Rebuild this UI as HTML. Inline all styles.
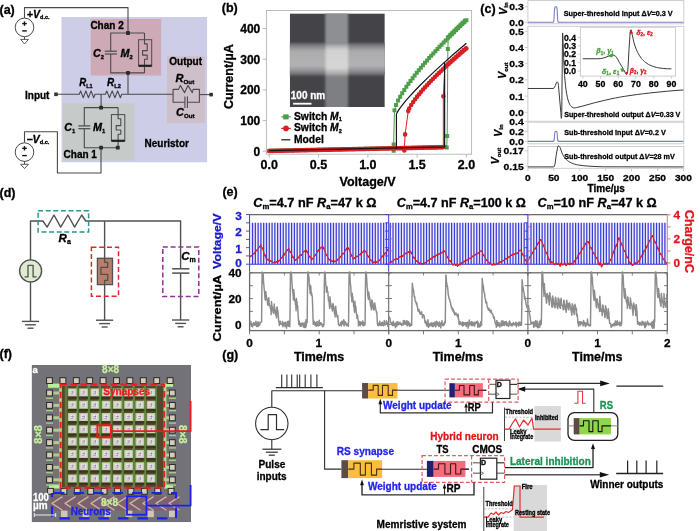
<!DOCTYPE html>
<html><head><meta charset="utf-8"><title>Neuristor figure</title>
<style>
html,body{margin:0;padding:0;background:#fff;}
svg{display:block;}
text{font-family:"Liberation Sans",Arial,sans-serif;font-weight:bold;stroke-width:0.3px;}
</style></head><body>
<svg width="700" height="531" viewBox="0 0 700 531">
<defs>
<clipPath id="photoclip"><rect x="31.6" y="365" width="159.4" height="157.2"/></clipPath>
<clipPath id="semclip"><rect x="289.8" y="13.4" width="95" height="93.6"/></clipPath>
<filter id="blur05" x="-5%" y="-5%" width="110%" height="110%"><feGaussianBlur stdDeviation="0.45"/></filter>
<linearGradient id="semband" x1="0" y1="0" x2="0" y2="1"><stop offset="0" stop-color="#66666a"/><stop offset="0.12" stop-color="#8a8a8c"/><stop offset="0.25" stop-color="#acacae"/><stop offset="0.7" stop-color="#b2b2b3"/><stop offset="0.85" stop-color="#919193"/><stop offset="1" stop-color="#66666a"/></linearGradient>
<linearGradient id="semcross" x1="0" y1="0" x2="0" y2="1"><stop offset="0" stop-color="#9a9a9c"/><stop offset="0.2" stop-color="#d2d2d2"/><stop offset="0.75" stop-color="#d6d6d6"/><stop offset="0.9" stop-color="#b0b0b0"/><stop offset="1" stop-color="#909092"/></linearGradient>
<filter id="blur1" x="-10%" y="-10%" width="120%" height="120%"><feGaussianBlur stdDeviation="0.9"/></filter>
</defs>
<rect width="700" height="531" fill="#fff"/>
<rect x="61.5" y="17" width="145.6" height="145.3" fill="#cecde8" stroke="none" stroke-width="1" />
<rect x="90.7" y="19" width="70.5" height="56.5" fill="#cdaab6" stroke="none" stroke-width="1" />
<rect x="63" y="103.3" width="71.5" height="57.2" fill="#c6cac8" stroke="none" stroke-width="1" />
<rect x="167" y="56.3" width="38" height="66.7" fill="#cec0ca" stroke="none" stroke-width="1" />
<text x="-0.5" y="13.7" font-size="12.5" text-anchor="start" fill="#000" stroke="#000" >(a)</text>
<text x="90.4" y="29.3" font-size="10" text-anchor="start" fill="#000" stroke="#000" >Chan 2</text>
<text x="63.6" y="157.6" font-size="10" text-anchor="start" fill="#000" stroke="#000" >Chan 1</text>
<text x="144.5" y="146.8" font-size="10" text-anchor="start" fill="#000" stroke="#000" >Neuristor</text>
<text x="169.3" y="65" font-size="10" text-anchor="start" fill="#000" stroke="#000" >Output</text>
<text x="25" y="99.4" font-size="10" text-anchor="start" fill="#000" stroke="#000" >Input</text>
<path d="M24.5,18 V7.6 H128 V33" stroke="#4a4a4a" stroke-width="1.1" fill="none" stroke-linejoin="round" />
<circle cx="24.5" cy="27.4" r="9.3" fill="#fff" stroke="#4a4a4a" stroke-width="1"/>
<line x1="22.2" y1="23.6" x2="26.8" y2="23.6" stroke="#111" stroke-width="1.4" />
<line x1="24.5" y1="21.4" x2="24.5" y2="25.8" stroke="#111" stroke-width="1.4" />
<line x1="22.2" y1="30.9" x2="26.8" y2="30.9" stroke="#111" stroke-width="1.4" />
<line x1="24.5" y1="36.7" x2="24.5" y2="39.4" stroke="#4a4a4a" stroke-width="1" />
<path d="M20.6,39.4 H28.4 L24.5,44 Z" stroke="#4a4a4a" stroke-width="0.9" fill="#fff" stroke-linejoin="round" />
<text x="27" y="17.7" font-size="10.5" text-anchor="start" fill="#000" stroke="#000"  textLength="22.5" lengthAdjust="spacingAndGlyphs">+<tspan font-style="italic">V</tspan><tspan font-size="5.5" dy="1.5">d.c.</tspan></text>
<path d="M101,147.7 V173 H57.4 V131.7 H24.5 V142.8" stroke="#4a4a4a" stroke-width="1.1" fill="none" stroke-linejoin="round" />
<circle cx="24.5" cy="152.1" r="9.3" fill="#fff" stroke="#4a4a4a" stroke-width="1"/>
<line x1="22.2" y1="148.3" x2="26.8" y2="148.3" stroke="#111" stroke-width="1.4" />
<line x1="24.5" y1="146.1" x2="24.5" y2="150.5" stroke="#111" stroke-width="1.4" />
<line x1="22.2" y1="155.6" x2="26.8" y2="155.6" stroke="#111" stroke-width="1.4" />
<line x1="24.5" y1="161.4" x2="24.5" y2="164.3" stroke="#4a4a4a" stroke-width="1" />
<path d="M20.6,164.3 H28.4 L24.5,168.6 Z" stroke="#4a4a4a" stroke-width="0.9" fill="#fff" stroke-linejoin="round" />
<text x="26.4" y="142.6" font-size="10.5" text-anchor="start" fill="#000" stroke="#000"  textLength="23" lengthAdjust="spacingAndGlyphs">&#8722;<tspan font-style="italic">V</tspan><tspan font-size="5.5" dy="1.5">d.c.</tspan></text>
<path d="M57.4,94.3 H79.3L80.61,90.9L83.22,97.7L85.84,90.9L88.46,97.7L91.08,90.9L93.69,97.7L95,94.3 H105.4L106.76,90.9L109.48,97.7L112.19,90.9L114.91,97.7L117.62,90.9L120.34,97.7L121.7,94.3 H173.1" stroke="#4a4a4a" stroke-width="1.1" fill="none" stroke-linejoin="round" />
<rect x="54.2" y="92.5" width="3.6" height="3.6" fill="#333" stroke="none" stroke-width="1" />
<text x="79.3" y="86.4" font-size="10.5" text-anchor="start" fill="#000" stroke="#000"  textLength="13.3" lengthAdjust="spacingAndGlyphs"><tspan font-style="italic">R</tspan><tspan font-size="6" dy="1.5">L1</tspan></text>
<text x="107.1" y="86.4" font-size="10.5" text-anchor="start" fill="#000" stroke="#000"  textLength="13.8" lengthAdjust="spacingAndGlyphs"><tspan font-style="italic">R</tspan><tspan font-size="6" dy="1.5">L2</tspan></text>
<line x1="128" y1="72.9" x2="128" y2="94.3" stroke="#4a4a4a" stroke-width="1.1" />
<line x1="101.1" y1="94.3" x2="101.1" y2="107.6" stroke="#4a4a4a" stroke-width="1.1" />
<path d="M110.7,51.2 V33 H144.5" stroke="#4a4a4a" stroke-width="1.1" fill="none" stroke-linejoin="round" />
<path d="M110.7,54.0 V72.9 H144.5" stroke="#4a4a4a" stroke-width="1.1" fill="none" stroke-linejoin="round" />
<line x1="104.8" y1="51.2" x2="116.9" y2="51.2" stroke="#4a4a4a" stroke-width="1.2" />
<line x1="104.8" y1="54" x2="116.9" y2="54" stroke="#4a4a4a" stroke-width="1.2" />
<path d="M144.5,33 V43.88 H147.2 V50.66 H142.6 V55.1 H147.2 V59.27 H144.5 V72.9" stroke="#4a4a4a" stroke-width="1.1" fill="none" stroke-linejoin="round" />
<rect x="138.6" y="39.7" width="13.1" height="26.1" fill="none" stroke="#4a4a4a" stroke-width="1" />
<line x1="138.6" y1="65.8" x2="151.7" y2="65.8" stroke="#222" stroke-width="2.2" />
<path d="M84.3,125.9 V107.6 H118.1" stroke="#4a4a4a" stroke-width="1.1" fill="none" stroke-linejoin="round" />
<path d="M84.3,128.7 V147.7 H118.1" stroke="#4a4a4a" stroke-width="1.1" fill="none" stroke-linejoin="round" />
<line x1="78.3" y1="125.9" x2="90.3" y2="125.9" stroke="#4a4a4a" stroke-width="1.2" />
<line x1="78.3" y1="128.7" x2="90.3" y2="128.7" stroke="#4a4a4a" stroke-width="1.2" />
<path d="M118.1,107.6 V118.79 H120.8 V125.6 H116.2 V130.06 H120.8 V134.25 H118.1 V147.7" stroke="#4a4a4a" stroke-width="1.1" fill="none" stroke-linejoin="round" />
<rect x="111.4" y="114.6" width="13.4" height="26.2" fill="none" stroke="#4a4a4a" stroke-width="1" />
<line x1="111.4" y1="140.8" x2="124.8" y2="140.8" stroke="#222" stroke-width="2.2" />
<rect x="126.1" y="31.1" width="3.8" height="3.8" fill="#2a2a2a" stroke="none" stroke-width="1" rx="0.6"/>
<rect x="126.1" y="71" width="3.8" height="3.8" fill="#2a2a2a" stroke="none" stroke-width="1" rx="0.6"/>
<rect x="99.2" y="105.7" width="3.8" height="3.8" fill="#2a2a2a" stroke="none" stroke-width="1" rx="0.6"/>
<rect x="99.2" y="145.8" width="3.8" height="3.8" fill="#2a2a2a" stroke="none" stroke-width="1" rx="0.6"/>
<rect x="115.9" y="145.8" width="3.8" height="3.8" fill="#2a2a2a" stroke="none" stroke-width="1" rx="0.6"/>
<text x="92.9" y="56.6" font-size="10.8" text-anchor="start" fill="#000" stroke="#000" ><tspan font-style="italic">C</tspan><tspan font-size="5.8" dy="2">2</tspan></text>
<text x="120.5" y="56.6" font-size="10.8" text-anchor="start" fill="#000" stroke="#000" ><tspan font-style="italic">M</tspan><tspan font-size="5.8" dy="2">2</tspan></text>
<text x="64.3" y="130.7" font-size="10.8" text-anchor="start" fill="#000" stroke="#000" ><tspan font-style="italic">C</tspan><tspan font-size="5.8" dy="2">1</tspan></text>
<text x="93" y="130.7" font-size="10.8" text-anchor="start" fill="#000" stroke="#000" ><tspan font-style="italic">M</tspan><tspan font-size="5.8" dy="2">1</tspan></text>
<path d="M173.1,94.6 V89.4 H178.6 L180.3,85.4 L184.6,92.6 L188,85.4 L192.3,92.6 L193.1,89.4 H199.4 V102.3 H187.4" stroke="#4a4a4a" stroke-width="1.1" fill="none" stroke-linejoin="round" />
<path d="M173.1,94.6 V102.3 H184.9" stroke="#4a4a4a" stroke-width="1.1" fill="none" stroke-linejoin="round" />
<line x1="184.9" y1="96.6" x2="184.9" y2="108" stroke="#4a4a4a" stroke-width="1.1" />
<line x1="187.4" y1="96.6" x2="187.4" y2="108" stroke="#4a4a4a" stroke-width="1.1" />
<line x1="199.4" y1="94.6" x2="210" y2="94.6" stroke="#4a4a4a" stroke-width="1.1" />
<rect x="209.3" y="92.8" width="3.6" height="3.6" fill="#333" stroke="none" stroke-width="1" />
<text x="175.6" y="81.6" font-size="10.8" text-anchor="start" fill="#000" stroke="#000"  textLength="18.6" lengthAdjust="spacingAndGlyphs"><tspan font-style="italic">R</tspan><tspan font-size="6" dy="2">Out</tspan></text>
<text x="175.9" y="116.3" font-size="10.8" text-anchor="start" fill="#000" stroke="#000"  textLength="18.6" lengthAdjust="spacingAndGlyphs"><tspan font-style="italic">C</tspan><tspan font-size="6" dy="2">Out</tspan></text>
<rect x="266.4" y="10.5" width="205.2" height="143.7" fill="none" stroke="#b4b4b4" stroke-width="0.9" />
<line x1="262.6" y1="151.3" x2="266.4" y2="151.3" stroke="#b4b4b4" stroke-width="0.9" />
<text x="260.3" y="155.6" font-size="12" text-anchor="end" fill="#000" stroke="#000" >0</text>
<line x1="262.6" y1="120.6" x2="266.4" y2="120.6" stroke="#b4b4b4" stroke-width="0.9" />
<text x="260.3" y="124.9" font-size="12" text-anchor="end" fill="#000" stroke="#000" >100</text>
<line x1="262.6" y1="89.9" x2="266.4" y2="89.9" stroke="#b4b4b4" stroke-width="0.9" />
<text x="260.3" y="94.2" font-size="12" text-anchor="end" fill="#000" stroke="#000" >200</text>
<line x1="262.6" y1="59.2" x2="266.4" y2="59.2" stroke="#b4b4b4" stroke-width="0.9" />
<text x="260.3" y="63.5" font-size="12" text-anchor="end" fill="#000" stroke="#000" >300</text>
<line x1="262.6" y1="28.5" x2="266.4" y2="28.5" stroke="#b4b4b4" stroke-width="0.9" />
<text x="260.3" y="32.8" font-size="12" text-anchor="end" fill="#000" stroke="#000" >400</text>
<line x1="269.3" y1="154.2" x2="269.3" y2="157.6" stroke="#b4b4b4" stroke-width="0.9" />
<text x="269.3" y="169.4" font-size="12.5" text-anchor="middle" fill="#000" stroke="#000" >0.0</text>
<line x1="318.57" y1="154.2" x2="318.57" y2="157.6" stroke="#b4b4b4" stroke-width="0.9" />
<text x="318.57" y="169.4" font-size="12.5" text-anchor="middle" fill="#000" stroke="#000" >0.5</text>
<line x1="367.85" y1="154.2" x2="367.85" y2="157.6" stroke="#b4b4b4" stroke-width="0.9" />
<text x="367.85" y="169.4" font-size="12.5" text-anchor="middle" fill="#000" stroke="#000" >1.0</text>
<line x1="417.12" y1="154.2" x2="417.12" y2="157.6" stroke="#b4b4b4" stroke-width="0.9" />
<text x="417.12" y="169.4" font-size="12.5" text-anchor="middle" fill="#000" stroke="#000" >1.5</text>
<line x1="466.4" y1="154.2" x2="466.4" y2="157.6" stroke="#b4b4b4" stroke-width="0.9" />
<text x="466.4" y="169.4" font-size="12.5" text-anchor="middle" fill="#000" stroke="#000" >2.0</text>
<text x="367.6" y="185.7" font-size="12.5" text-anchor="middle" fill="#000" stroke="#000" >Voltage/V</text>
<text x="0" y="0" font-size="12.5" text-anchor="middle" fill="#000" stroke="#000" transform="translate(233.2,76.6) rotate(-90)">Current/&#181;A</text>
<text x="221.8" y="12.1" font-size="12.5" text-anchor="start" fill="#000" stroke="#000" >(b)</text>
<g clip-path="url(#semclip)">
<rect x="289.8" y="13.4" width="95" height="93.6" fill="#444448" stroke="none" stroke-width="1" />
<g filter="url(#blur1)">
<rect x="325.2" y="8" width="22.9" height="40" fill="#8d8f92" stroke="none" stroke-width="1" />
<rect x="325.2" y="70" width="22.9" height="45" fill="#7d7f83" stroke="none" stroke-width="1" />
<rect x="284" y="43" width="106" height="32.5" fill="url(#semband)" stroke="none" stroke-width="1" />
<rect x="325.5" y="43.5" width="22.6" height="32.5" fill="url(#semcross)" stroke="none" stroke-width="1" />
</g>
</g>
<text x="290.8" y="99.3" font-size="10" text-anchor="start" fill="#fff" stroke="#fff" >100 nm</text>
<line x1="293.1" y1="103.7" x2="311.5" y2="103.7" stroke="#fff" stroke-width="1.8" />
<path d="M269.3,150.78L444.72,147.06L446.69,147.62L447.18,135.95L447.87,49.07L448.27,36.9L456.54,28.7L464.82,20.77L466.4,20.21L460.19,26.1L453.98,32.13L447.77,38.31L443.63,42.54L437.43,49.05L433.29,53.52L429.15,58.11L425.01,62.84L420.87,67.74L416.73,72.83L412.59,78.16L410.52,80.94L406.38,86.8L404.31,89.91L402.24,93.19L400.17,96.7L398.1,100.55L396.04,105.04L394.46,110.16L393.67,144.55L393.67,150.69" stroke="#4d9e48" stroke-width="1" fill="none" stroke-linejoin="round" />
<path d="M267.3,148.78h4v4h-4zM269.27,148.74h4v4h-4zM271.24,148.69h4v4h-4zM273.21,148.65h4v4h-4zM275.18,148.61h4v4h-4zM277.16,148.57h4v4h-4zM279.13,148.53h4v4h-4zM281.1,148.49h4v4h-4zM283.07,148.44h4v4h-4zM285.04,148.4h4v4h-4zM287.01,148.36h4v4h-4zM288.98,148.32h4v4h-4zM290.95,148.28h4v4h-4zM292.92,148.24h4v4h-4zM294.89,148.19h4v4h-4zM296.87,148.15h4v4h-4zM298.84,148.11h4v4h-4zM300.81,148.07h4v4h-4zM302.78,148.03h4v4h-4zM304.75,147.98h4v4h-4zM306.72,147.94h4v4h-4zM308.69,147.9h4v4h-4zM310.66,147.86h4v4h-4zM312.63,147.82h4v4h-4zM314.6,147.78h4v4h-4zM316.57,147.73h4v4h-4zM318.55,147.69h4v4h-4zM320.52,147.65h4v4h-4zM322.49,147.61h4v4h-4zM324.46,147.57h4v4h-4zM326.43,147.53h4v4h-4zM328.4,147.48h4v4h-4zM330.37,147.44h4v4h-4zM332.34,147.4h4v4h-4zM334.31,147.36h4v4h-4zM336.29,147.32h4v4h-4zM338.26,147.28h4v4h-4zM340.23,147.23h4v4h-4zM342.2,147.19h4v4h-4zM344.17,147.15h4v4h-4zM346.14,147.11h4v4h-4zM348.11,147.07h4v4h-4zM350.08,147.02h4v4h-4zM352.05,146.98h4v4h-4zM354.02,146.94h4v4h-4zM356,146.9h4v4h-4zM357.97,146.86h4v4h-4zM359.94,146.82h4v4h-4zM361.91,146.77h4v4h-4zM363.88,146.73h4v4h-4zM365.85,146.69h4v4h-4zM367.82,146.65h4v4h-4zM369.79,146.61h4v4h-4zM371.76,146.57h4v4h-4zM373.73,146.52h4v4h-4zM375.71,146.48h4v4h-4zM377.68,146.44h4v4h-4zM379.65,146.4h4v4h-4zM381.62,146.36h4v4h-4zM383.59,146.31h4v4h-4zM385.56,146.27h4v4h-4zM387.53,146.23h4v4h-4zM389.5,146.19h4v4h-4zM391.47,146.15h4v4h-4zM393.44,146.11h4v4h-4zM395.42,146.06h4v4h-4zM397.39,146.02h4v4h-4zM399.36,145.98h4v4h-4zM401.33,145.94h4v4h-4zM403.3,145.9h4v4h-4zM405.27,145.86h4v4h-4zM407.24,145.81h4v4h-4zM409.21,145.77h4v4h-4zM411.18,145.73h4v4h-4zM413.15,145.69h4v4h-4zM415.12,145.65h4v4h-4zM417.1,145.6h4v4h-4zM419.07,145.56h4v4h-4zM421.04,145.52h4v4h-4zM423.01,145.48h4v4h-4zM424.98,145.44h4v4h-4zM426.95,145.4h4v4h-4zM428.92,145.35h4v4h-4zM430.89,145.31h4v4h-4zM432.86,145.27h4v4h-4zM434.84,145.23h4v4h-4zM436.81,145.19h4v4h-4zM438.78,145.15h4v4h-4zM440.75,145.1h4v4h-4zM442.72,145.06h4v4h-4zM444.69,145.62h4v4h-4zM445.18,133.95h4v4h-4zM445.87,47.07h4v4h-4zM446.27,34.9h4v4h-4zM448.34,32.82h4v4h-4zM450.41,30.76h4v4h-4zM452.48,28.72h4v4h-4zM454.54,26.7h4v4h-4zM456.61,24.69h4v4h-4zM458.68,22.71h4v4h-4zM460.75,20.73h4v4h-4zM462.82,18.77h4v4h-4zM464.4,18.21h4v4h-4zM462.33,20.16h4v4h-4zM460.26,22.12h4v4h-4zM458.19,24.1h4v4h-4zM456.12,26.09h4v4h-4zM454.05,28.1h4v4h-4zM451.98,30.13h4v4h-4zM449.91,32.17h4v4h-4zM447.84,34.23h4v4h-4zM445.77,36.31h4v4h-4zM443.7,38.42h4v4h-4zM441.63,40.54h4v4h-4zM439.57,42.69h4v4h-4zM437.5,44.86h4v4h-4zM435.43,47.05h4v4h-4zM433.36,49.27h4v4h-4zM431.29,51.52h4v4h-4zM429.22,53.8h4v4h-4zM427.15,56.11h4v4h-4zM425.08,58.46h4v4h-4zM423.01,60.84h4v4h-4zM420.94,63.27h4v4h-4zM418.87,65.74h4v4h-4zM416.8,68.26h4v4h-4zM414.73,70.83h4v4h-4zM412.66,73.46h4v4h-4zM410.59,76.16h4v4h-4zM408.52,78.94h4v4h-4zM406.45,81.82h4v4h-4zM404.38,84.8h4v4h-4zM402.31,87.91h4v4h-4zM400.24,91.19h4v4h-4zM398.17,94.7h4v4h-4zM396.1,98.55h4v4h-4zM394.04,103.04h4v4h-4zM392.46,108.16h4v4h-4zM391.67,142.55h4v4h-4zM391.67,148.69h4v4h-4z" stroke="none" stroke-width="0" fill="#4d9e48" stroke-linejoin="round" />
<path d="M269.3,150.93L442.75,147.26L443.34,147L443.34,96.35L444.72,67.49L445.9,65.85L449.84,62.25L455.76,56.98L465.61,48.5L466.4,48.46L456.54,56.9L448.66,63.93L440.78,71.28L436.83,75.09L432.89,79.03L428.95,83.1L425.01,87.36L421.07,91.84L419.1,94.19L415.15,99.21L413.18,101.95L411.21,104.95L409.24,108.48L408.26,111.08L405.1,134.42L404.31,150.38" stroke="#dc1e24" stroke-width="1" fill="none" stroke-linejoin="round" />
<path d="M267,150.93a2.3,2.3 0 1,0 4.6,0a2.3,2.3 0 1,0 -4.6,0zM268.58,150.9a2.3,2.3 0 1,0 4.6,0a2.3,2.3 0 1,0 -4.6,0zM270.15,150.86a2.3,2.3 0 1,0 4.6,0a2.3,2.3 0 1,0 -4.6,0zM271.73,150.83a2.3,2.3 0 1,0 4.6,0a2.3,2.3 0 1,0 -4.6,0zM273.31,150.8a2.3,2.3 0 1,0 4.6,0a2.3,2.3 0 1,0 -4.6,0zM274.88,150.76a2.3,2.3 0 1,0 4.6,0a2.3,2.3 0 1,0 -4.6,0zM276.46,150.73a2.3,2.3 0 1,0 4.6,0a2.3,2.3 0 1,0 -4.6,0zM278.04,150.7a2.3,2.3 0 1,0 4.6,0a2.3,2.3 0 1,0 -4.6,0zM279.61,150.66a2.3,2.3 0 1,0 4.6,0a2.3,2.3 0 1,0 -4.6,0zM281.19,150.63a2.3,2.3 0 1,0 4.6,0a2.3,2.3 0 1,0 -4.6,0zM282.77,150.6a2.3,2.3 0 1,0 4.6,0a2.3,2.3 0 1,0 -4.6,0zM284.34,150.56a2.3,2.3 0 1,0 4.6,0a2.3,2.3 0 1,0 -4.6,0zM285.92,150.53a2.3,2.3 0 1,0 4.6,0a2.3,2.3 0 1,0 -4.6,0zM287.5,150.5a2.3,2.3 0 1,0 4.6,0a2.3,2.3 0 1,0 -4.6,0zM289.08,150.46a2.3,2.3 0 1,0 4.6,0a2.3,2.3 0 1,0 -4.6,0zM290.65,150.43a2.3,2.3 0 1,0 4.6,0a2.3,2.3 0 1,0 -4.6,0zM292.23,150.4a2.3,2.3 0 1,0 4.6,0a2.3,2.3 0 1,0 -4.6,0zM293.81,150.36a2.3,2.3 0 1,0 4.6,0a2.3,2.3 0 1,0 -4.6,0zM295.38,150.33a2.3,2.3 0 1,0 4.6,0a2.3,2.3 0 1,0 -4.6,0zM296.96,150.3a2.3,2.3 0 1,0 4.6,0a2.3,2.3 0 1,0 -4.6,0zM298.54,150.26a2.3,2.3 0 1,0 4.6,0a2.3,2.3 0 1,0 -4.6,0zM300.11,150.23a2.3,2.3 0 1,0 4.6,0a2.3,2.3 0 1,0 -4.6,0zM301.69,150.2a2.3,2.3 0 1,0 4.6,0a2.3,2.3 0 1,0 -4.6,0zM303.27,150.16a2.3,2.3 0 1,0 4.6,0a2.3,2.3 0 1,0 -4.6,0zM304.84,150.13a2.3,2.3 0 1,0 4.6,0a2.3,2.3 0 1,0 -4.6,0zM306.42,150.1a2.3,2.3 0 1,0 4.6,0a2.3,2.3 0 1,0 -4.6,0zM308,150.06a2.3,2.3 0 1,0 4.6,0a2.3,2.3 0 1,0 -4.6,0zM309.57,150.03a2.3,2.3 0 1,0 4.6,0a2.3,2.3 0 1,0 -4.6,0zM311.15,150a2.3,2.3 0 1,0 4.6,0a2.3,2.3 0 1,0 -4.6,0zM312.73,149.96a2.3,2.3 0 1,0 4.6,0a2.3,2.3 0 1,0 -4.6,0zM314.3,149.93a2.3,2.3 0 1,0 4.6,0a2.3,2.3 0 1,0 -4.6,0zM315.88,149.9a2.3,2.3 0 1,0 4.6,0a2.3,2.3 0 1,0 -4.6,0zM317.46,149.86a2.3,2.3 0 1,0 4.6,0a2.3,2.3 0 1,0 -4.6,0zM319.03,149.83a2.3,2.3 0 1,0 4.6,0a2.3,2.3 0 1,0 -4.6,0zM320.61,149.8a2.3,2.3 0 1,0 4.6,0a2.3,2.3 0 1,0 -4.6,0zM322.19,149.76a2.3,2.3 0 1,0 4.6,0a2.3,2.3 0 1,0 -4.6,0zM323.76,149.73a2.3,2.3 0 1,0 4.6,0a2.3,2.3 0 1,0 -4.6,0zM325.34,149.7a2.3,2.3 0 1,0 4.6,0a2.3,2.3 0 1,0 -4.6,0zM326.92,149.66a2.3,2.3 0 1,0 4.6,0a2.3,2.3 0 1,0 -4.6,0zM328.5,149.63a2.3,2.3 0 1,0 4.6,0a2.3,2.3 0 1,0 -4.6,0zM330.07,149.6a2.3,2.3 0 1,0 4.6,0a2.3,2.3 0 1,0 -4.6,0zM331.65,149.56a2.3,2.3 0 1,0 4.6,0a2.3,2.3 0 1,0 -4.6,0zM333.23,149.53a2.3,2.3 0 1,0 4.6,0a2.3,2.3 0 1,0 -4.6,0zM334.8,149.5a2.3,2.3 0 1,0 4.6,0a2.3,2.3 0 1,0 -4.6,0zM336.38,149.46a2.3,2.3 0 1,0 4.6,0a2.3,2.3 0 1,0 -4.6,0zM337.96,149.43a2.3,2.3 0 1,0 4.6,0a2.3,2.3 0 1,0 -4.6,0zM339.53,149.4a2.3,2.3 0 1,0 4.6,0a2.3,2.3 0 1,0 -4.6,0zM341.11,149.36a2.3,2.3 0 1,0 4.6,0a2.3,2.3 0 1,0 -4.6,0zM342.69,149.33a2.3,2.3 0 1,0 4.6,0a2.3,2.3 0 1,0 -4.6,0zM344.26,149.29a2.3,2.3 0 1,0 4.6,0a2.3,2.3 0 1,0 -4.6,0zM345.84,149.26a2.3,2.3 0 1,0 4.6,0a2.3,2.3 0 1,0 -4.6,0zM347.42,149.23a2.3,2.3 0 1,0 4.6,0a2.3,2.3 0 1,0 -4.6,0zM348.99,149.19a2.3,2.3 0 1,0 4.6,0a2.3,2.3 0 1,0 -4.6,0zM350.57,149.16a2.3,2.3 0 1,0 4.6,0a2.3,2.3 0 1,0 -4.6,0zM352.15,149.13a2.3,2.3 0 1,0 4.6,0a2.3,2.3 0 1,0 -4.6,0zM353.72,149.09a2.3,2.3 0 1,0 4.6,0a2.3,2.3 0 1,0 -4.6,0zM355.3,149.06a2.3,2.3 0 1,0 4.6,0a2.3,2.3 0 1,0 -4.6,0zM356.88,149.03a2.3,2.3 0 1,0 4.6,0a2.3,2.3 0 1,0 -4.6,0zM358.45,148.99a2.3,2.3 0 1,0 4.6,0a2.3,2.3 0 1,0 -4.6,0zM360.03,148.96a2.3,2.3 0 1,0 4.6,0a2.3,2.3 0 1,0 -4.6,0zM361.61,148.93a2.3,2.3 0 1,0 4.6,0a2.3,2.3 0 1,0 -4.6,0zM363.18,148.89a2.3,2.3 0 1,0 4.6,0a2.3,2.3 0 1,0 -4.6,0zM364.76,148.86a2.3,2.3 0 1,0 4.6,0a2.3,2.3 0 1,0 -4.6,0zM366.34,148.83a2.3,2.3 0 1,0 4.6,0a2.3,2.3 0 1,0 -4.6,0zM367.92,148.79a2.3,2.3 0 1,0 4.6,0a2.3,2.3 0 1,0 -4.6,0zM369.49,148.76a2.3,2.3 0 1,0 4.6,0a2.3,2.3 0 1,0 -4.6,0zM371.07,148.73a2.3,2.3 0 1,0 4.6,0a2.3,2.3 0 1,0 -4.6,0zM372.65,148.69a2.3,2.3 0 1,0 4.6,0a2.3,2.3 0 1,0 -4.6,0zM374.22,148.66a2.3,2.3 0 1,0 4.6,0a2.3,2.3 0 1,0 -4.6,0zM375.8,148.63a2.3,2.3 0 1,0 4.6,0a2.3,2.3 0 1,0 -4.6,0zM377.38,148.59a2.3,2.3 0 1,0 4.6,0a2.3,2.3 0 1,0 -4.6,0zM378.95,148.56a2.3,2.3 0 1,0 4.6,0a2.3,2.3 0 1,0 -4.6,0zM380.53,148.53a2.3,2.3 0 1,0 4.6,0a2.3,2.3 0 1,0 -4.6,0zM382.11,148.49a2.3,2.3 0 1,0 4.6,0a2.3,2.3 0 1,0 -4.6,0zM383.68,148.46a2.3,2.3 0 1,0 4.6,0a2.3,2.3 0 1,0 -4.6,0zM385.26,148.43a2.3,2.3 0 1,0 4.6,0a2.3,2.3 0 1,0 -4.6,0zM386.84,148.39a2.3,2.3 0 1,0 4.6,0a2.3,2.3 0 1,0 -4.6,0zM388.41,148.36a2.3,2.3 0 1,0 4.6,0a2.3,2.3 0 1,0 -4.6,0zM389.99,148.33a2.3,2.3 0 1,0 4.6,0a2.3,2.3 0 1,0 -4.6,0zM391.57,148.29a2.3,2.3 0 1,0 4.6,0a2.3,2.3 0 1,0 -4.6,0zM393.14,148.26a2.3,2.3 0 1,0 4.6,0a2.3,2.3 0 1,0 -4.6,0zM394.72,148.23a2.3,2.3 0 1,0 4.6,0a2.3,2.3 0 1,0 -4.6,0zM396.3,148.19a2.3,2.3 0 1,0 4.6,0a2.3,2.3 0 1,0 -4.6,0zM397.87,148.16a2.3,2.3 0 1,0 4.6,0a2.3,2.3 0 1,0 -4.6,0zM399.45,148.13a2.3,2.3 0 1,0 4.6,0a2.3,2.3 0 1,0 -4.6,0zM401.03,148.09a2.3,2.3 0 1,0 4.6,0a2.3,2.3 0 1,0 -4.6,0zM402.6,148.06a2.3,2.3 0 1,0 4.6,0a2.3,2.3 0 1,0 -4.6,0zM404.18,148.03a2.3,2.3 0 1,0 4.6,0a2.3,2.3 0 1,0 -4.6,0zM405.76,147.99a2.3,2.3 0 1,0 4.6,0a2.3,2.3 0 1,0 -4.6,0zM407.34,147.96a2.3,2.3 0 1,0 4.6,0a2.3,2.3 0 1,0 -4.6,0zM408.91,147.93a2.3,2.3 0 1,0 4.6,0a2.3,2.3 0 1,0 -4.6,0zM410.49,147.89a2.3,2.3 0 1,0 4.6,0a2.3,2.3 0 1,0 -4.6,0zM412.07,147.86a2.3,2.3 0 1,0 4.6,0a2.3,2.3 0 1,0 -4.6,0zM413.64,147.83a2.3,2.3 0 1,0 4.6,0a2.3,2.3 0 1,0 -4.6,0zM415.22,147.79a2.3,2.3 0 1,0 4.6,0a2.3,2.3 0 1,0 -4.6,0zM416.8,147.76a2.3,2.3 0 1,0 4.6,0a2.3,2.3 0 1,0 -4.6,0zM418.37,147.73a2.3,2.3 0 1,0 4.6,0a2.3,2.3 0 1,0 -4.6,0zM419.95,147.69a2.3,2.3 0 1,0 4.6,0a2.3,2.3 0 1,0 -4.6,0zM421.53,147.66a2.3,2.3 0 1,0 4.6,0a2.3,2.3 0 1,0 -4.6,0zM423.1,147.62a2.3,2.3 0 1,0 4.6,0a2.3,2.3 0 1,0 -4.6,0zM424.68,147.59a2.3,2.3 0 1,0 4.6,0a2.3,2.3 0 1,0 -4.6,0zM426.26,147.56a2.3,2.3 0 1,0 4.6,0a2.3,2.3 0 1,0 -4.6,0zM427.83,147.52a2.3,2.3 0 1,0 4.6,0a2.3,2.3 0 1,0 -4.6,0zM429.41,147.49a2.3,2.3 0 1,0 4.6,0a2.3,2.3 0 1,0 -4.6,0zM430.99,147.46a2.3,2.3 0 1,0 4.6,0a2.3,2.3 0 1,0 -4.6,0zM432.56,147.42a2.3,2.3 0 1,0 4.6,0a2.3,2.3 0 1,0 -4.6,0zM434.14,147.39a2.3,2.3 0 1,0 4.6,0a2.3,2.3 0 1,0 -4.6,0zM435.72,147.36a2.3,2.3 0 1,0 4.6,0a2.3,2.3 0 1,0 -4.6,0zM437.29,147.32a2.3,2.3 0 1,0 4.6,0a2.3,2.3 0 1,0 -4.6,0zM438.87,147.29a2.3,2.3 0 1,0 4.6,0a2.3,2.3 0 1,0 -4.6,0zM440.45,147.26a2.3,2.3 0 1,0 4.6,0a2.3,2.3 0 1,0 -4.6,0zM441.04,147a2.3,2.3 0 1,0 4.6,0a2.3,2.3 0 1,0 -4.6,0zM441.04,96.35a2.3,2.3 0 1,0 4.6,0a2.3,2.3 0 1,0 -4.6,0zM442.42,67.49a2.3,2.3 0 1,0 4.6,0a2.3,2.3 0 1,0 -4.6,0zM443.6,65.85a2.3,2.3 0 1,0 4.6,0a2.3,2.3 0 1,0 -4.6,0zM445.57,64.04a2.3,2.3 0 1,0 4.6,0a2.3,2.3 0 1,0 -4.6,0zM447.54,62.25a2.3,2.3 0 1,0 4.6,0a2.3,2.3 0 1,0 -4.6,0zM449.51,60.47a2.3,2.3 0 1,0 4.6,0a2.3,2.3 0 1,0 -4.6,0zM451.49,58.72a2.3,2.3 0 1,0 4.6,0a2.3,2.3 0 1,0 -4.6,0zM453.46,56.98a2.3,2.3 0 1,0 4.6,0a2.3,2.3 0 1,0 -4.6,0zM455.43,55.25a2.3,2.3 0 1,0 4.6,0a2.3,2.3 0 1,0 -4.6,0zM457.4,53.55a2.3,2.3 0 1,0 4.6,0a2.3,2.3 0 1,0 -4.6,0zM459.37,51.85a2.3,2.3 0 1,0 4.6,0a2.3,2.3 0 1,0 -4.6,0zM461.34,50.17a2.3,2.3 0 1,0 4.6,0a2.3,2.3 0 1,0 -4.6,0zM463.31,48.5a2.3,2.3 0 1,0 4.6,0a2.3,2.3 0 1,0 -4.6,0zM464.1,48.46a2.3,2.3 0 1,0 4.6,0a2.3,2.3 0 1,0 -4.6,0zM462.13,50.12a2.3,2.3 0 1,0 4.6,0a2.3,2.3 0 1,0 -4.6,0zM460.16,51.79a2.3,2.3 0 1,0 4.6,0a2.3,2.3 0 1,0 -4.6,0zM458.19,53.48a2.3,2.3 0 1,0 4.6,0a2.3,2.3 0 1,0 -4.6,0zM456.22,55.18a2.3,2.3 0 1,0 4.6,0a2.3,2.3 0 1,0 -4.6,0zM454.24,56.9a2.3,2.3 0 1,0 4.6,0a2.3,2.3 0 1,0 -4.6,0zM452.27,58.63a2.3,2.3 0 1,0 4.6,0a2.3,2.3 0 1,0 -4.6,0zM450.3,60.38a2.3,2.3 0 1,0 4.6,0a2.3,2.3 0 1,0 -4.6,0zM448.33,62.15a2.3,2.3 0 1,0 4.6,0a2.3,2.3 0 1,0 -4.6,0zM446.36,63.93a2.3,2.3 0 1,0 4.6,0a2.3,2.3 0 1,0 -4.6,0zM444.39,65.74a2.3,2.3 0 1,0 4.6,0a2.3,2.3 0 1,0 -4.6,0zM442.42,67.56a2.3,2.3 0 1,0 4.6,0a2.3,2.3 0 1,0 -4.6,0zM440.45,69.41a2.3,2.3 0 1,0 4.6,0a2.3,2.3 0 1,0 -4.6,0zM438.48,71.28a2.3,2.3 0 1,0 4.6,0a2.3,2.3 0 1,0 -4.6,0zM436.51,73.17a2.3,2.3 0 1,0 4.6,0a2.3,2.3 0 1,0 -4.6,0zM434.53,75.09a2.3,2.3 0 1,0 4.6,0a2.3,2.3 0 1,0 -4.6,0zM432.56,77.04a2.3,2.3 0 1,0 4.6,0a2.3,2.3 0 1,0 -4.6,0zM430.59,79.03a2.3,2.3 0 1,0 4.6,0a2.3,2.3 0 1,0 -4.6,0zM428.62,81.05a2.3,2.3 0 1,0 4.6,0a2.3,2.3 0 1,0 -4.6,0zM426.65,83.1a2.3,2.3 0 1,0 4.6,0a2.3,2.3 0 1,0 -4.6,0zM424.68,85.2a2.3,2.3 0 1,0 4.6,0a2.3,2.3 0 1,0 -4.6,0zM422.71,87.36a2.3,2.3 0 1,0 4.6,0a2.3,2.3 0 1,0 -4.6,0zM420.74,89.56a2.3,2.3 0 1,0 4.6,0a2.3,2.3 0 1,0 -4.6,0zM418.77,91.84a2.3,2.3 0 1,0 4.6,0a2.3,2.3 0 1,0 -4.6,0zM416.8,94.19a2.3,2.3 0 1,0 4.6,0a2.3,2.3 0 1,0 -4.6,0zM414.82,96.63a2.3,2.3 0 1,0 4.6,0a2.3,2.3 0 1,0 -4.6,0zM412.85,99.21a2.3,2.3 0 1,0 4.6,0a2.3,2.3 0 1,0 -4.6,0zM410.88,101.95a2.3,2.3 0 1,0 4.6,0a2.3,2.3 0 1,0 -4.6,0zM408.91,104.95a2.3,2.3 0 1,0 4.6,0a2.3,2.3 0 1,0 -4.6,0zM406.94,108.48a2.3,2.3 0 1,0 4.6,0a2.3,2.3 0 1,0 -4.6,0zM405.96,111.08a2.3,2.3 0 1,0 4.6,0a2.3,2.3 0 1,0 -4.6,0zM402.8,134.42a2.3,2.3 0 1,0 4.6,0a2.3,2.3 0 1,0 -4.6,0zM402.01,150.38a2.3,2.3 0 1,0 4.6,0a2.3,2.3 0 1,0 -4.6,0z" stroke="none" stroke-width="0" fill="#dc1e24" stroke-linejoin="round" />
<path d="M269.3,150.62L444.62,146.91L444.62,62.11L454.94,53.02L466.4,43.24" stroke="#151515" stroke-width="1.2" fill="none" stroke-linejoin="round" />
<path d="M396.43,148.84L396.43,114.15L396.7,113.45L397.24,112.41L398.63,110.14L399.84,108.38L401.05,106.73L403.47,103.61L405.89,100.68L408.31,97.88L414.36,91.25L420.41,84.99L427.67,77.83L436.15,69.83L444.62,62.11" stroke="#151515" stroke-width="1.2" fill="none" stroke-linejoin="round" />
<line x1="281.2" y1="116.9" x2="290.8" y2="116.9" stroke="#4d9e48" stroke-width="1.2" />
<rect x="283.2" y="114.4" width="5.4" height="5" fill="#4d9e48" stroke="none" stroke-width="1" />
<text x="294" y="119.7" font-size="10.3" text-anchor="start" fill="#000" stroke="#000" >Switch <tspan font-style="italic">M</tspan><tspan font-size="5.5" dy="1.5">1</tspan></text>
<line x1="281.2" y1="128.4" x2="290.8" y2="128.4" stroke="#dc1e24" stroke-width="1.2" />
<circle cx="286" cy="128.4" r="2.8" fill="#dc1e24"/>
<text x="294" y="131.2" font-size="10.3" text-anchor="start" fill="#000" stroke="#000" >Switch <tspan font-style="italic">M</tspan><tspan font-size="5.5" dy="1.5">2</tspan></text>
<line x1="281.3" y1="139.8" x2="290.3" y2="139.8" stroke="#151515" stroke-width="1.2" />
<text x="294" y="142.7" font-size="10.3" text-anchor="start" fill="#000" stroke="#000" >Model</text>
<rect x="527.9" y="0.6" width="155.9" height="23.2" fill="none" stroke="#c8c8c8" stroke-width="0.9" />
<rect x="527.9" y="26.3" width="155.9" height="94.9" fill="none" stroke="#c8c8c8" stroke-width="0.9" />
<rect x="527.9" y="122.2" width="155.9" height="21.6" fill="none" stroke="#c8c8c8" stroke-width="0.9" />
<rect x="527.9" y="146.4" width="155.9" height="21.9" fill="none" stroke="#c8c8c8" stroke-width="0.9" />
<text x="480.3" y="12.7" font-size="12.5" text-anchor="start" fill="#000" stroke="#000" >(c)</text>
<line x1="524.7" y1="6.79" x2="527.9" y2="6.79" stroke="#c8c8c8" stroke-width="0.9" />
<text x="0" y="0" font-size="10.4" text-anchor="end" fill="#000" stroke="#000"  transform="translate(523.8,10.29) scale(1,0.92)">0.3</text>
<line x1="524.7" y1="22.3" x2="527.9" y2="22.3" stroke="#c8c8c8" stroke-width="0.9" />
<text x="0" y="0" font-size="10.4" text-anchor="end" fill="#000" stroke="#000"  transform="translate(523.8,25.8) scale(1,0.92)">0.0</text>
<path d="M527.9,22.3L552.39,22.3L553.04,22.28L553.3,22.21L553.56,21.93L553.69,21.56L553.94,19.63L554.46,10.15L554.72,7.75L554.85,7.28L555.11,6.91L555.37,6.82L555.76,6.8L556.28,6.82L556.54,6.93L556.8,7.35L556.92,7.89L557.18,10.54L557.57,18.13L557.83,21.04L558.09,21.98L558.35,22.22L558.61,22.28L683.39,22.3" stroke="#7a7fc4" stroke-width="1.1" fill="none" stroke-linejoin="round" />
<text x="563.7" y="15.8" font-size="8" text-anchor="start" fill="#000" stroke="#000"  textLength="109" lengthAdjust="spacingAndGlyphs">Super-threshold input &#916;<tspan font-style="italic">V</tspan>=0.3 V</text>
<text x="0" y="0" font-size="10.5" text-anchor="middle" fill="#000" stroke="#000" transform="translate(506.6,8.6) rotate(-90)"><tspan font-style="italic">V</tspan><tspan font-size="6" dy="1.2">in</tspan></text>
<line x1="524.7" y1="31.3" x2="527.9" y2="31.3" stroke="#c8c8c8" stroke-width="0.9" />
<text x="0" y="0" font-size="10.4" text-anchor="end" fill="#000" stroke="#000"  transform="translate(523.8,34.8) scale(1,0.92)">0.5</text>
<line x1="524.7" y1="47.5" x2="527.9" y2="47.5" stroke="#c8c8c8" stroke-width="0.9" />
<text x="0" y="0" font-size="10.4" text-anchor="end" fill="#000" stroke="#000"  transform="translate(523.8,51) scale(1,0.92)">0.4</text>
<line x1="524.7" y1="63.7" x2="527.9" y2="63.7" stroke="#c8c8c8" stroke-width="0.9" />
<text x="0" y="0" font-size="10.4" text-anchor="end" fill="#000" stroke="#000"  transform="translate(523.8,67.2) scale(1,0.92)">0.3</text>
<line x1="524.7" y1="79.9" x2="527.9" y2="79.9" stroke="#c8c8c8" stroke-width="0.9" />
<text x="0" y="0" font-size="10.4" text-anchor="end" fill="#000" stroke="#000"  transform="translate(523.8,83.4) scale(1,0.92)">0.2</text>
<line x1="524.7" y1="96.1" x2="527.9" y2="96.1" stroke="#c8c8c8" stroke-width="0.9" />
<text x="0" y="0" font-size="10.4" text-anchor="end" fill="#000" stroke="#000"  transform="translate(523.8,99.6) scale(1,0.92)">0.1</text>
<line x1="524.7" y1="112.3" x2="527.9" y2="112.3" stroke="#c8c8c8" stroke-width="0.9" />
<text x="0" y="0" font-size="10.4" text-anchor="end" fill="#000" stroke="#000"  transform="translate(523.8,115.8) scale(1,0.92)">0.0</text>
<path d="M527.9,88.49L553.05,88.46L553.93,88.09L554.47,87.38L555.48,85.33L556.36,82.71L556.7,82.01L556.83,81.87L557.03,81.85L557.51,82.13L557.91,82.59L558.05,82.84L558.25,83.82L558.45,85.42L560.82,112.35L561.15,117.27L561.29,118.38L561.36,118.44L561.49,117.8L561.69,115.52L561.76,112.96L562.44,42.25L562.57,33.81L562.64,32.94L562.78,34.53L563.11,42.82L563.65,58.64L564.19,69.21L564.6,75.38L565,80.26L565.54,85.75L566.02,89.63L566.69,93.89L567.37,97.37L568.04,100.08L568.79,102.22L569.73,104.4L570.54,105.73L570.88,106.11L571.83,106.92L572.98,107.66L573.52,107.86L574.06,107.93L575.14,107.85L576.35,107.64L582.87,106.02L594.39,102.8L604.86,100.27L610.1,99.09L615.33,97.99L619.52,97.2L624.75,96.33L631.04,95.36L637.32,94.49L643.6,93.69L650.93,92.85L667.68,91.17L676.06,90.47L683.39,89.94" stroke="#3a3a3a" stroke-width="1" fill="none" stroke-linejoin="round" />
<text x="0" y="0" font-size="10.5" text-anchor="middle" fill="#000" stroke="#000" transform="translate(506.4,70.7) rotate(-90)"><tspan font-style="italic">V</tspan><tspan font-size="6" dy="1.2">out</tspan></text>
<text x="564.2" y="117.3" font-size="8" text-anchor="start" fill="#000" stroke="#000"  textLength="116.2" lengthAdjust="spacingAndGlyphs">Super-threshold output &#916;<tspan font-style="italic">V</tspan>=0.33 V</text>
<rect x="580.4" y="27.3" width="95.1" height="48.8" fill="#fff" stroke="#c8c8c8" stroke-width="0.9" />
<line x1="577.6" y1="37.5" x2="580.4" y2="37.5" stroke="#c8c8c8" stroke-width="0.8" />
<text x="576" y="40.6" font-size="8.6" text-anchor="end" fill="#000" stroke="#000" >0.4</text>
<line x1="577.6" y1="45.9" x2="580.4" y2="45.9" stroke="#c8c8c8" stroke-width="0.8" />
<text x="576" y="49" font-size="8.6" text-anchor="end" fill="#000" stroke="#000" >0.3</text>
<line x1="577.6" y1="54.3" x2="580.4" y2="54.3" stroke="#c8c8c8" stroke-width="0.8" />
<text x="576" y="57.4" font-size="8.6" text-anchor="end" fill="#000" stroke="#000" >0.2</text>
<line x1="577.6" y1="62.7" x2="580.4" y2="62.7" stroke="#c8c8c8" stroke-width="0.8" />
<text x="576" y="65.8" font-size="8.6" text-anchor="end" fill="#000" stroke="#000" >0.1</text>
<line x1="577.6" y1="71.1" x2="580.4" y2="71.1" stroke="#c8c8c8" stroke-width="0.8" />
<text x="576" y="74.2" font-size="8.6" text-anchor="end" fill="#000" stroke="#000" >0.0</text>
<line x1="582.8" y1="76.1" x2="582.8" y2="78.8" stroke="#c8c8c8" stroke-width="0.8" />
<text x="582.8" y="86.9" font-size="8.8" text-anchor="middle" fill="#000" stroke="#000" >40</text>
<line x1="600.52" y1="76.1" x2="600.52" y2="78.8" stroke="#c8c8c8" stroke-width="0.8" />
<text x="600.52" y="86.9" font-size="8.8" text-anchor="middle" fill="#000" stroke="#000" >50</text>
<line x1="618.24" y1="76.1" x2="618.24" y2="78.8" stroke="#c8c8c8" stroke-width="0.8" />
<text x="618.24" y="86.9" font-size="8.8" text-anchor="middle" fill="#000" stroke="#000" >60</text>
<line x1="635.96" y1="76.1" x2="635.96" y2="78.8" stroke="#c8c8c8" stroke-width="0.8" />
<text x="635.96" y="86.9" font-size="8.8" text-anchor="middle" fill="#000" stroke="#000" >70</text>
<line x1="653.68" y1="76.1" x2="653.68" y2="78.8" stroke="#c8c8c8" stroke-width="0.8" />
<text x="653.68" y="86.9" font-size="8.8" text-anchor="middle" fill="#000" stroke="#000" >80</text>
<line x1="671.4" y1="76.1" x2="671.4" y2="78.8" stroke="#c8c8c8" stroke-width="0.8" />
<text x="671.4" y="86.9" font-size="8.8" text-anchor="middle" fill="#000" stroke="#000" >90</text>
<path d="M582.8,58.75L597.23,58.75L600.79,58.56L602.78,58.17L606.12,57.15L609.22,55.75L610.33,55.4L611,55.31L612.11,55.34L613.44,55.5L614.78,55.75L615.22,55.96L615.66,56.32L616.11,56.81L616.77,57.75L617.66,59.27L619.44,62.58L621.66,66.25L624.32,70.89L625.66,73.75L625.88,74.08L626.1,74.27L626.32,74.28L626.54,74.17L626.99,73.65L627.43,72.83L627.66,71.74L628.1,66.05L628.99,49.47L629.88,36.47L630.32,31.33L630.54,30.09L630.76,29.99L630.99,30.34L631.21,30.94L632.32,35.11L633.65,41.26L634.09,43.06L635.21,46.56L636.32,49.54L637.65,52.46L638.54,54.07L639.65,55.9L641.42,58.38L642.31,59.42L643.2,60.32L644.53,61.54L645.86,62.63L647.2,63.59L648.53,64.42L649.86,65.1L651.42,65.75L653.19,66.43L654.97,67.01L656.74,67.49L658.3,67.8L663.18,68.44L667.4,68.78L671.4,68.82" stroke="#3a3a3a" stroke-width="1" fill="none" stroke-linejoin="round" />
<text x="596.2" y="53.4" font-size="7.6" text-anchor="start" fill="#4aa041" stroke="#4aa041"  textLength="17.5" lengthAdjust="spacingAndGlyphs"><tspan font-style="italic">&#946;</tspan><tspan font-size="4.8" dy="1.2">1</tspan><tspan dy="-1.2">, </tspan><tspan font-style="italic">&#947;</tspan><tspan font-size="4.8" dy="1.2">1</tspan></text>
<text x="601.8" y="73.6" font-size="7.6" text-anchor="start" fill="#4aa041" stroke="#4aa041"  textLength="17.5" lengthAdjust="spacingAndGlyphs"><tspan font-style="italic">&#948;</tspan><tspan font-size="4.8" dy="1.2">1</tspan><tspan dy="-1.2">, </tspan><tspan font-style="italic">&#949;</tspan><tspan font-size="4.8" dy="1.2">1</tspan></text>
<text x="629.8" y="73" font-size="7.6" text-anchor="start" fill="#e0141c" stroke="#e0141c"  textLength="16.5" lengthAdjust="spacingAndGlyphs"><tspan font-style="italic">&#946;</tspan><tspan font-size="4.8" dy="1.2">2</tspan><tspan dy="-1.2">, </tspan><tspan font-style="italic">&#947;</tspan><tspan font-size="4.8" dy="1.2">2</tspan></text>
<text x="636.3" y="35" font-size="7.6" text-anchor="start" fill="#e0141c" stroke="#e0141c"  textLength="16.5" lengthAdjust="spacingAndGlyphs"><tspan font-style="italic">&#948;</tspan><tspan font-size="4.8" dy="1.2">2</tspan><tspan dy="-1.2">, </tspan><tspan font-style="italic">&#949;</tspan><tspan font-size="4.8" dy="1.2">2</tspan></text>
<path d="M608.5,56.6 L613.8,55.2 L611.2,53.8 Z M608.5,56.6 L613.8,55.2 L611.8,57.6 Z" stroke="none" stroke-width="0" fill="#4aa041" stroke-linejoin="round" />
<path d="M620.2,68.6 L624.6,71.4 L621.6,71.8 Z M620.2,68.6 L624.6,71.4 L623.6,68.6 Z" stroke="none" stroke-width="0" fill="#4aa041" stroke-linejoin="round" />
<path d="M626.6,75.4 L625.6,71.4 L628.2,72.4 Z" stroke="none" stroke-width="0" fill="#e0141c" stroke-linejoin="round" />
<path d="M631.2,29.0 L629.4,33.4 L633.0,33.4 Z" stroke="none" stroke-width="0" fill="#e0141c" stroke-linejoin="round" />
<line x1="524.7" y1="121.4" x2="527.9" y2="121.4" stroke="#c8c8c8" stroke-width="0.9" />
<text x="0" y="0" font-size="10.4" text-anchor="end" fill="#000" stroke="#000"  transform="translate(523.8,124.9) scale(1,0.92)">0.4</text>
<line x1="524.7" y1="131.4" x2="527.9" y2="131.4" stroke="#c8c8c8" stroke-width="0.9" />
<text x="0" y="0" font-size="10.4" text-anchor="end" fill="#000" stroke="#000"  transform="translate(523.8,134.9) scale(1,0.92)">0.2</text>
<line x1="524.7" y1="141.4" x2="527.9" y2="141.4" stroke="#c8c8c8" stroke-width="0.9" />
<text x="0" y="0" font-size="10.4" text-anchor="end" fill="#000" stroke="#000"  transform="translate(523.8,144.9) scale(1,0.92)">0.0</text>
<path d="M527.9,141.4L552.65,141.4L553.56,141.34L553.81,141.16L553.94,140.93L554.2,139.68L554.72,133.57L554.98,132.02L555.24,131.56L555.5,131.44L555.89,131.41L556.54,131.49L556.8,131.76L556.92,132.11L557.18,133.82L557.57,138.71L557.83,140.59L558.09,141.19L558.35,141.35L558.61,141.39L683.39,141.4" stroke="#7a7fc4" stroke-width="1.1" fill="none" stroke-linejoin="round" />
<text x="0" y="0" font-size="10.5" text-anchor="middle" fill="#000" stroke="#000" transform="translate(501.6,130.6) rotate(-90)"><tspan font-style="italic">V</tspan><tspan font-size="6" dy="1.2">in</tspan></text>
<text x="564.2" y="135.2" font-size="8" text-anchor="start" fill="#000" stroke="#000"  textLength="101.5" lengthAdjust="spacingAndGlyphs">Sub-threshold input &#916;<tspan font-style="italic">V</tspan>=0.2 V</text>
<line x1="524.7" y1="150.9" x2="527.9" y2="150.9" stroke="#c8c8c8" stroke-width="0.9" />
<text x="0" y="0" font-size="10.4" text-anchor="end" fill="#000" stroke="#000"  transform="translate(523.8,154.4) scale(1,0.92)">0.17</text>
<line x1="524.7" y1="166" x2="527.9" y2="166" stroke="#c8c8c8" stroke-width="0.9" />
<text x="0" y="0" font-size="10.4" text-anchor="end" fill="#000" stroke="#000"  transform="translate(523.8,169.5) scale(1,0.92)">0.15</text>
<path d="M527.9,166.91L553.86,166.9L554.12,166.62L554.38,166.01L554.9,164.33L555.16,163.02L556.19,155.19L557.49,148.08L558.01,146.21L558.27,145.81L558.53,145.79L558.79,145.92L559.31,146.45L560.09,147.59L560.35,148.1L561.91,152.69L562.68,154.36L563.46,155.84L564.76,157.89L565.54,158.8L566.32,159.59L567.36,160.49L568.65,161.42L570.21,162.32L571.77,163.08L573.33,163.71L574.62,164.14L576.7,164.68L578.78,165.1L583.19,165.67L588.12,166.1L596.95,166.59L603.44,166.81L683.39,166.91" stroke="#3a3a3a" stroke-width="1" fill="none" stroke-linejoin="round" />
<text x="0" y="0" font-size="10.5" text-anchor="middle" fill="#000" stroke="#000" transform="translate(499.4,156.0) rotate(-90)"><tspan font-style="italic">V</tspan><tspan font-size="6" dy="1.2">out</tspan></text>
<text x="564.2" y="158.7" font-size="8" text-anchor="start" fill="#000" stroke="#000"  textLength="110.6" lengthAdjust="spacingAndGlyphs">Sub-threshold output &#916;<tspan font-style="italic">V</tspan>=28 mV</text>
<line x1="527.9" y1="168.3" x2="527.9" y2="171.2" stroke="#c8c8c8" stroke-width="0.9" />
<text x="0" y="0" font-size="10.2" text-anchor="middle" fill="#000" stroke="#000"  transform="translate(527.9,181.2) scale(1,0.9)">0</text>
<line x1="553.81" y1="168.3" x2="553.81" y2="171.2" stroke="#c8c8c8" stroke-width="0.9" />
<text x="0" y="0" font-size="10.2" text-anchor="middle" fill="#000" stroke="#000"  transform="translate(553.81,181.2) scale(1,0.9)">50</text>
<line x1="579.73" y1="168.3" x2="579.73" y2="171.2" stroke="#c8c8c8" stroke-width="0.9" />
<text x="0" y="0" font-size="10.2" text-anchor="middle" fill="#000" stroke="#000"  transform="translate(579.73,181.2) scale(1,0.9)">100</text>
<line x1="605.64" y1="168.3" x2="605.64" y2="171.2" stroke="#c8c8c8" stroke-width="0.9" />
<text x="0" y="0" font-size="10.2" text-anchor="middle" fill="#000" stroke="#000"  transform="translate(605.64,181.2) scale(1,0.9)">150</text>
<line x1="631.56" y1="168.3" x2="631.56" y2="171.2" stroke="#c8c8c8" stroke-width="0.9" />
<text x="0" y="0" font-size="10.2" text-anchor="middle" fill="#000" stroke="#000"  transform="translate(631.56,181.2) scale(1,0.9)">200</text>
<line x1="657.47" y1="168.3" x2="657.47" y2="171.2" stroke="#c8c8c8" stroke-width="0.9" />
<text x="0" y="0" font-size="10.2" text-anchor="middle" fill="#000" stroke="#000"  transform="translate(657.47,181.2) scale(1,0.9)">250</text>
<line x1="683.39" y1="168.3" x2="683.39" y2="171.2" stroke="#c8c8c8" stroke-width="0.9" />
<text x="0" y="0" font-size="10.2" text-anchor="middle" fill="#000" stroke="#000"  transform="translate(683.39,181.2) scale(1,0.9)">300</text>
<text x="606.2" y="192" font-size="10" text-anchor="middle" fill="#000" stroke="#000" >Time/&#181;s</text>
<text x="-0.5" y="197.1" font-size="12.5" text-anchor="start" fill="#000" stroke="#000" >(d)</text>
<path d="M30.5,260 V221 H42.9 L47.1,227.1 L54,215 L60.7,227.1 L67.9,215 L74.6,227.1 L81.7,215 L85.7,221 H180.6 V268.8" stroke="#505050" stroke-width="1.4" fill="none" stroke-linejoin="round" />
<line x1="30.5" y1="282" x2="30.5" y2="321.4" stroke="#505050" stroke-width="1.4" />
<line x1="104.6" y1="221" x2="104.6" y2="320.2" stroke="#505050" stroke-width="1.4" />
<line x1="180.6" y1="273.1" x2="180.6" y2="320" stroke="#505050" stroke-width="1.4" />
<line x1="21.9" y1="321.4" x2="39.1" y2="321.4" stroke="#505050" stroke-width="1.4" />
<line x1="25.1" y1="324.8" x2="35.9" y2="324.8" stroke="#505050" stroke-width="1.4" />
<line x1="27.5" y1="328.2" x2="33.5" y2="328.2" stroke="#505050" stroke-width="1.4" />
<line x1="96" y1="320.2" x2="113.2" y2="320.2" stroke="#505050" stroke-width="1.4" />
<line x1="99.2" y1="323.6" x2="110" y2="323.6" stroke="#505050" stroke-width="1.4" />
<line x1="101.6" y1="327" x2="107.6" y2="327" stroke="#505050" stroke-width="1.4" />
<line x1="172" y1="320" x2="189.2" y2="320" stroke="#505050" stroke-width="1.4" />
<line x1="175.2" y1="323.4" x2="186" y2="323.4" stroke="#505050" stroke-width="1.4" />
<line x1="177.6" y1="326.8" x2="183.6" y2="326.8" stroke="#505050" stroke-width="1.4" />
<circle cx="30.6" cy="270.9" r="11.0" fill="#dfebcf" stroke="#505050" stroke-width="1.4"/>
<path d="M24.6,276.9 H28 V265.4 H33.1 V276.9 H36.6" stroke="#505050" stroke-width="1.3" fill="none" stroke-linejoin="round" />
<rect x="38.1" y="210.7" width="50.5" height="21.4" fill="none" stroke="#2a9494" stroke-width="1.5" stroke-dasharray="5,2.6"/>
<text x="58.6" y="242.1" font-size="11.5" text-anchor="start" fill="#000" stroke="#000" ><tspan font-style="italic">R</tspan><tspan font-size="7" dy="2.2">a</tspan></text>
<rect x="91.4" y="247.2" width="27.1" height="49" fill="none" stroke="#e0262a" stroke-width="1.5" stroke-dasharray="5,2.8"/>
<rect x="97.4" y="258.3" width="15.1" height="26.3" fill="#b97e6a" stroke="#505050" stroke-width="1.3" />
<path d="M104.6,258.3 V262.3 H107.7 V267.4 H100.9 V274.3 H107.7 V280.3 H104.6 V284.6" stroke="#505050" stroke-width="1.3" fill="none" stroke-linejoin="round" />
<rect x="162.8" y="246.9" width="36" height="49.5" fill="none" stroke="#93309a" stroke-width="1.5" stroke-dasharray="5,2.8"/>
<line x1="172.2" y1="268.8" x2="189.4" y2="268.8" stroke="#505050" stroke-width="1.5" />
<line x1="172.2" y1="273.1" x2="189.4" y2="273.1" stroke="#505050" stroke-width="1.5" />
<text x="181.2" y="260.1" font-size="11.5" text-anchor="start" fill="#000" stroke="#000" ><tspan font-style="italic">C</tspan><tspan font-size="7" dy="2.2">m</tspan></text>
<rect x="249.6" y="222.8" width="417.7" height="41.4" fill="#eeeefa" stroke="none" stroke-width="1" />
<path d="M252.54,222.8V264.2M255.33,222.8V264.2M258.12,222.8V264.2M260.91,222.8V264.2M263.7,222.8V264.2M266.49,222.8V264.2M269.28,222.8V264.2M272.07,222.8V264.2M274.86,222.8V264.2M277.65,222.8V264.2M280.44,222.8V264.2M283.23,222.8V264.2M286.02,222.8V264.2M288.81,222.8V264.2M291.6,222.8V264.2M294.39,222.8V264.2M297.18,222.8V264.2M299.97,222.8V264.2M302.76,222.8V264.2M305.55,222.8V264.2M308.34,222.8V264.2M311.13,222.8V264.2M313.92,222.8V264.2M316.71,222.8V264.2M319.5,222.8V264.2M322.29,222.8V264.2M325.08,222.8V264.2M327.87,222.8V264.2M330.66,222.8V264.2M333.45,222.8V264.2M336.24,222.8V264.2M339.03,222.8V264.2M341.82,222.8V264.2M344.61,222.8V264.2M347.4,222.8V264.2M350.19,222.8V264.2M352.98,222.8V264.2M355.77,222.8V264.2M358.56,222.8V264.2M361.35,222.8V264.2M364.14,222.8V264.2M366.93,222.8V264.2M369.72,222.8V264.2M372.51,222.8V264.2M375.3,222.8V264.2M378.09,222.8V264.2M380.88,222.8V264.2M383.67,222.8V264.2M386.46,222.8V264.2M390.25,222.8V264.2M393.04,222.8V264.2M395.83,222.8V264.2M398.62,222.8V264.2M401.41,222.8V264.2M404.2,222.8V264.2M406.99,222.8V264.2M409.78,222.8V264.2M412.57,222.8V264.2M415.36,222.8V264.2M418.15,222.8V264.2M420.94,222.8V264.2M423.73,222.8V264.2M426.52,222.8V264.2M429.31,222.8V264.2M432.1,222.8V264.2M434.89,222.8V264.2M437.68,222.8V264.2M440.47,222.8V264.2M443.26,222.8V264.2M446.05,222.8V264.2M448.84,222.8V264.2M451.63,222.8V264.2M454.42,222.8V264.2M457.21,222.8V264.2M460,222.8V264.2M462.79,222.8V264.2M465.58,222.8V264.2M468.37,222.8V264.2M471.16,222.8V264.2M473.95,222.8V264.2M476.74,222.8V264.2M479.53,222.8V264.2M482.32,222.8V264.2M485.11,222.8V264.2M487.9,222.8V264.2M490.69,222.8V264.2M493.48,222.8V264.2M496.27,222.8V264.2M499.06,222.8V264.2M501.85,222.8V264.2M504.64,222.8V264.2M507.43,222.8V264.2M510.22,222.8V264.2M513.01,222.8V264.2M515.8,222.8V264.2M518.59,222.8V264.2M521.38,222.8V264.2M524.17,222.8V264.2M526.96,222.8V264.2M530.99,222.8V264.2M533.78,222.8V264.2M536.57,222.8V264.2M539.36,222.8V264.2M542.15,222.8V264.2M544.94,222.8V264.2M547.73,222.8V264.2M550.52,222.8V264.2M553.31,222.8V264.2M556.1,222.8V264.2M558.89,222.8V264.2M561.68,222.8V264.2M564.47,222.8V264.2M567.26,222.8V264.2M570.05,222.8V264.2M572.84,222.8V264.2M575.63,222.8V264.2M578.42,222.8V264.2M581.21,222.8V264.2M584,222.8V264.2M586.79,222.8V264.2M589.58,222.8V264.2M592.37,222.8V264.2M595.16,222.8V264.2M597.95,222.8V264.2M600.74,222.8V264.2M603.53,222.8V264.2M606.32,222.8V264.2M609.11,222.8V264.2M611.9,222.8V264.2M614.69,222.8V264.2M617.48,222.8V264.2M620.27,222.8V264.2M623.06,222.8V264.2M625.85,222.8V264.2M628.64,222.8V264.2M631.43,222.8V264.2M634.22,222.8V264.2M637.01,222.8V264.2M639.8,222.8V264.2M642.59,222.8V264.2M645.38,222.8V264.2M648.17,222.8V264.2M650.96,222.8V264.2M653.75,222.8V264.2M656.54,222.8V264.2M659.33,222.8V264.2M662.12,222.8V264.2M664.91,222.8V264.2" stroke="#3b3bd6" stroke-width="1.25" fill="none" stroke-linejoin="round" />
<line x1="249.6" y1="264.2" x2="667.3" y2="264.2" stroke="#3b3bd6" stroke-width="1.1" />
<text x="253.2" y="207.1" font-size="12.4" text-anchor="start" fill="#000" stroke="#000"  textLength="123.4" lengthAdjust="spacingAndGlyphs"><tspan font-style="italic">C</tspan><tspan font-size="7.5" dy="2">m</tspan><tspan dy="-2">=4.7 nF </tspan><tspan font-style="italic">R</tspan><tspan font-size="7.5" dy="2">a</tspan><tspan dy="-2">=47 k &#937;</tspan></text>
<text x="396.8" y="207.1" font-size="12.4" text-anchor="start" fill="#000" stroke="#000"  textLength="129" lengthAdjust="spacingAndGlyphs"><tspan font-style="italic">C</tspan><tspan font-size="7.5" dy="2">m</tspan><tspan dy="-2">=4.7 nF </tspan><tspan font-style="italic">R</tspan><tspan font-size="7.5" dy="2">a</tspan><tspan dy="-2">=100 k &#937;</tspan></text>
<text x="537.5" y="207.1" font-size="12.4" text-anchor="start" fill="#000" stroke="#000"  textLength="119.2" lengthAdjust="spacingAndGlyphs"><tspan font-style="italic">C</tspan><tspan font-size="7.5" dy="2">m</tspan><tspan dy="-2">=10 nF </tspan><tspan font-style="italic">R</tspan><tspan font-size="7.5" dy="2">a</tspan><tspan dy="-2">=47 k &#937;</tspan></text>
<text x="222.4" y="196.3" font-size="12.5" text-anchor="start" fill="#000" stroke="#000" >(e)</text>
<line x1="249.6" y1="214.6" x2="667.3" y2="214.6" stroke="#6a6a6a" stroke-width="1.1" />
<line x1="249.6" y1="214.6" x2="249.6" y2="271.8" stroke="#3b3bd6" stroke-width="1" />
<line x1="246" y1="264.2" x2="249.6" y2="264.2" stroke="#3b3bd6" stroke-width="0.9" />
<line x1="246" y1="255.92" x2="249.6" y2="255.92" stroke="#3b3bd6" stroke-width="0.9" />
<line x1="246" y1="247.65" x2="249.6" y2="247.65" stroke="#3b3bd6" stroke-width="0.9" />
<line x1="246" y1="239.38" x2="249.6" y2="239.38" stroke="#3b3bd6" stroke-width="0.9" />
<line x1="246" y1="231.1" x2="249.6" y2="231.1" stroke="#3b3bd6" stroke-width="0.9" />
<line x1="246" y1="222.82" x2="249.6" y2="222.82" stroke="#3b3bd6" stroke-width="0.9" />
<line x1="246" y1="214.55" x2="249.6" y2="214.55" stroke="#3b3bd6" stroke-width="0.9" />
<line x1="388.7" y1="214.6" x2="388.7" y2="271.8" stroke="#3b3bd6" stroke-width="1" />
<line x1="385.1" y1="264.2" x2="388.7" y2="264.2" stroke="#3b3bd6" stroke-width="0.9" />
<line x1="385.1" y1="255.92" x2="388.7" y2="255.92" stroke="#3b3bd6" stroke-width="0.9" />
<line x1="385.1" y1="247.65" x2="388.7" y2="247.65" stroke="#3b3bd6" stroke-width="0.9" />
<line x1="385.1" y1="239.38" x2="388.7" y2="239.38" stroke="#3b3bd6" stroke-width="0.9" />
<line x1="385.1" y1="231.1" x2="388.7" y2="231.1" stroke="#3b3bd6" stroke-width="0.9" />
<line x1="385.1" y1="222.82" x2="388.7" y2="222.82" stroke="#3b3bd6" stroke-width="0.9" />
<line x1="385.1" y1="214.55" x2="388.7" y2="214.55" stroke="#3b3bd6" stroke-width="0.9" />
<line x1="527.9" y1="214.6" x2="527.9" y2="271.8" stroke="#3b3bd6" stroke-width="1" />
<line x1="524.3" y1="264.2" x2="527.9" y2="264.2" stroke="#3b3bd6" stroke-width="0.9" />
<line x1="524.3" y1="255.92" x2="527.9" y2="255.92" stroke="#3b3bd6" stroke-width="0.9" />
<line x1="524.3" y1="247.65" x2="527.9" y2="247.65" stroke="#3b3bd6" stroke-width="0.9" />
<line x1="524.3" y1="239.38" x2="527.9" y2="239.38" stroke="#3b3bd6" stroke-width="0.9" />
<line x1="524.3" y1="231.1" x2="527.9" y2="231.1" stroke="#3b3bd6" stroke-width="0.9" />
<line x1="524.3" y1="222.82" x2="527.9" y2="222.82" stroke="#3b3bd6" stroke-width="0.9" />
<line x1="524.3" y1="214.55" x2="527.9" y2="214.55" stroke="#3b3bd6" stroke-width="0.9" />
<line x1="388.7" y1="263" x2="391.9" y2="263" stroke="#e05a60" stroke-width="0.9" />
<line x1="388.7" y1="250.95" x2="391.9" y2="250.95" stroke="#e05a60" stroke-width="0.9" />
<line x1="388.7" y1="238.9" x2="391.9" y2="238.9" stroke="#e05a60" stroke-width="0.9" />
<line x1="388.7" y1="226.85" x2="391.9" y2="226.85" stroke="#e05a60" stroke-width="0.9" />
<line x1="388.7" y1="214.8" x2="391.9" y2="214.8" stroke="#e05a60" stroke-width="0.9" />
<line x1="527.9" y1="263" x2="531.1" y2="263" stroke="#e05a60" stroke-width="0.9" />
<line x1="527.9" y1="250.95" x2="531.1" y2="250.95" stroke="#e05a60" stroke-width="0.9" />
<line x1="527.9" y1="238.9" x2="531.1" y2="238.9" stroke="#e05a60" stroke-width="0.9" />
<line x1="527.9" y1="226.85" x2="531.1" y2="226.85" stroke="#e05a60" stroke-width="0.9" />
<line x1="527.9" y1="214.8" x2="531.1" y2="214.8" stroke="#e05a60" stroke-width="0.9" />
<line x1="667.3" y1="263" x2="670.5" y2="263" stroke="#e05a60" stroke-width="0.9" />
<line x1="667.3" y1="250.95" x2="670.5" y2="250.95" stroke="#e05a60" stroke-width="0.9" />
<line x1="667.3" y1="238.9" x2="670.5" y2="238.9" stroke="#e05a60" stroke-width="0.9" />
<line x1="667.3" y1="226.85" x2="670.5" y2="226.85" stroke="#e05a60" stroke-width="0.9" />
<line x1="667.3" y1="214.8" x2="670.5" y2="214.8" stroke="#e05a60" stroke-width="0.9" />
<line x1="667.3" y1="214.6" x2="667.3" y2="271.8" stroke="#e07a7e" stroke-width="1" />
<text x="241.8" y="220" font-size="11.8" text-anchor="end" fill="#1c1cc8" stroke="#1c1cc8" >3</text>
<text x="241.8" y="236.3" font-size="11.8" text-anchor="end" fill="#1c1cc8" stroke="#1c1cc8" >2</text>
<text x="241.8" y="252.5" font-size="11.8" text-anchor="end" fill="#1c1cc8" stroke="#1c1cc8" >1</text>
<text x="241.8" y="266.8" font-size="11.8" text-anchor="end" fill="#1c1cc8" stroke="#1c1cc8" >0</text>
<text x="673.6" y="219" font-size="11.8" text-anchor="start" fill="#e3141c" stroke="#e3141c" >4</text>
<text x="673.6" y="243.1" font-size="11.8" text-anchor="start" fill="#e3141c" stroke="#e3141c" >2</text>
<text x="673.6" y="267.2" font-size="11.8" text-anchor="start" fill="#e3141c" stroke="#e3141c" >0</text>
<text x="0" y="0" font-size="11.8" text-anchor="middle" fill="#1c1cc8" stroke="#1c1cc8" transform="translate(220.9,241.2) rotate(-90)" textLength="55.5" lengthAdjust="spacingAndGlyphs">Voltage/V</text>
<text x="0" y="0" font-size="12.2" text-anchor="middle" fill="#e3141c" stroke="#e3141c" transform="translate(685.4,241.4) rotate(90)" textLength="63" lengthAdjust="spacingAndGlyphs">Charge/nC</text>
<path d="M249.6,256.88L250.3,257L251.7,254.99L252.4,254.44L253.1,254.21L253.8,253.68L254.5,253.21L255.2,251.34L255.9,251.26L256.6,250.72L257.3,249.55L258,248.26L258.7,247.77L259.4,247L260.1,246.16L260.8,244.6L261.5,246.76L262.2,247.87L262.9,249.91L263.6,251.42L264.3,253.88L265,255.16L265.7,257.59L266.4,259.29L267.1,259.92L267.8,259.37L268.5,260.42L269.2,261.11L269.9,261.48L270.6,260.86L271.3,261.71L272,261.2L272.7,261.69L273.4,262.56L274.1,262.33L274.8,261.55L275.5,262.78L276.2,261.82L276.9,262.09L277.6,261.61L278.3,261.92L279,260.59L279.7,259.85L280.4,259.3L281.1,257.95L281.8,257.89L283.2,254.88L283.9,256.02L284.6,254.23L285.3,252.12L286,251.46L286.7,251.65L287.4,250.08L288.1,249.24L288.8,248.27L290.2,251.9L290.9,252.43L291.6,254.3L292.3,255.47L293,257.2L293.7,258.08L294.4,259.85L295.1,259.97L295.8,259.98L296.5,259.32L297.2,258.19L297.9,257.69L298.6,257.6L299.3,255.55L300,256.19L300.7,255.36L301.4,254.98L302.1,253.73L302.8,253.25L303.5,252.24L304.2,251.3L304.9,251.11L305.6,249.9L306.3,250.02L307,251.86L307.7,253.19L308.4,254.69L309.1,255.38L309.8,256.9L310.5,257.74L311.2,259.49L311.9,259.77L312.6,258.46L313.3,257.55L314,257.06L314.7,256.46L315.4,254.76L316.1,253.81L316.8,252.94L317.5,252.52L318.2,250.44L318.9,249.11L319.6,249.86L320.3,248.43L321,247.74L321.7,247.52L322.4,245.58L323.1,246.68L323.8,248.81L324.5,250.7L325.9,253.67L326.6,255.42L327.3,256.68L328,257.32L328.7,259.08L329.4,259.87L330.1,259.69L330.8,260.65L331.5,260.11L332.2,261.52L332.9,261.31L333.6,261.79L334.3,261.02L335,261.61L335.7,261.03L337.1,261.11L337.8,259.06L338.5,259.26L339.2,258.06L339.9,258.07L340.6,256.24L341.3,255.85L342,255.56L342.7,253.6L343.4,253.62L344.1,252.47L344.8,251.76L345.5,250.43L346.2,249.24L346.9,247.64L347.6,248.23L348.3,247.48L349,249.38L349.7,250.72L350.4,252.48L351.1,253.81L351.8,256.57L352.5,257.55L353.2,259.37L353.9,258.61L354.6,257.72L355.3,257.32L356,257.2L356.7,256.89L357.4,256.15L358.1,255.55L359.5,254.47L360.2,254.78L360.9,252.93L362.3,252.56L363,252.24L363.7,250.16L364.4,250.38L365.1,250.87L365.8,251.57L366.5,253.89L367.2,254.76L367.9,256L368.6,256.8L369.3,258.35L370,258.88L370.7,260.04L371.4,260.49L372.1,261.84L372.8,263.74L373.5,262.15L374.2,262.14L374.9,261.85L375.6,262.08L376.3,262.01L377,262.12L377.7,261.48L378.4,261.13L379.1,260.62L379.8,260.02L380.5,258.71L381.2,258.54L382.6,255.7L384,255.58L384.7,253.87L385.4,252.96L386.1,251.86L386.8,251.85L387.5,250.67L388.2,248.84" stroke="#e3141c" stroke-width="1" fill="none" stroke-linejoin="round" />
<path d="M250.25,255.79a0.9,0.9 0 1,0 1.8,0a0.9,0.9 0 1,0 -1.8,0zM253.03,253.59a0.9,0.9 0 1,0 1.8,0a0.9,0.9 0 1,0 -1.8,0zM255.83,250.51a0.9,0.9 0 1,0 1.8,0a0.9,0.9 0 1,0 -1.8,0zM258.62,246.86a0.9,0.9 0 1,0 1.8,0a0.9,0.9 0 1,0 -1.8,0zM261.41,248.18a0.9,0.9 0 1,0 1.8,0a0.9,0.9 0 1,0 -1.8,0zM264.2,255.49a0.9,0.9 0 1,0 1.8,0a0.9,0.9 0 1,0 -1.8,0zM266.99,259.5a0.9,0.9 0 1,0 1.8,0a0.9,0.9 0 1,0 -1.8,0zM269.78,260.95a0.9,0.9 0 1,0 1.8,0a0.9,0.9 0 1,0 -1.8,0zM272.57,262.54a0.9,0.9 0 1,0 1.8,0a0.9,0.9 0 1,0 -1.8,0zM275.36,261.84a0.9,0.9 0 1,0 1.8,0a0.9,0.9 0 1,0 -1.8,0zM278.15,260.54a0.9,0.9 0 1,0 1.8,0a0.9,0.9 0 1,0 -1.8,0zM280.94,257.81a0.9,0.9 0 1,0 1.8,0a0.9,0.9 0 1,0 -1.8,0zM283.73,254.15a0.9,0.9 0 1,0 1.8,0a0.9,0.9 0 1,0 -1.8,0zM286.52,250.06a0.9,0.9 0 1,0 1.8,0a0.9,0.9 0 1,0 -1.8,0zM289.31,251.91a0.9,0.9 0 1,0 1.8,0a0.9,0.9 0 1,0 -1.8,0zM292.1,257.19a0.9,0.9 0 1,0 1.8,0a0.9,0.9 0 1,0 -1.8,0zM294.89,259.98a0.9,0.9 0 1,0 1.8,0a0.9,0.9 0 1,0 -1.8,0zM297.68,257.61a0.9,0.9 0 1,0 1.8,0a0.9,0.9 0 1,0 -1.8,0zM300.47,255a0.9,0.9 0 1,0 1.8,0a0.9,0.9 0 1,0 -1.8,0zM303.26,251.36a0.9,0.9 0 1,0 1.8,0a0.9,0.9 0 1,0 -1.8,0zM306.05,251.71a0.9,0.9 0 1,0 1.8,0a0.9,0.9 0 1,0 -1.8,0zM308.84,256.76a0.9,0.9 0 1,0 1.8,0a0.9,0.9 0 1,0 -1.8,0zM311.63,258.6a0.9,0.9 0 1,0 1.8,0a0.9,0.9 0 1,0 -1.8,0zM314.42,254.96a0.9,0.9 0 1,0 1.8,0a0.9,0.9 0 1,0 -1.8,0zM317.21,250.72a0.9,0.9 0 1,0 1.8,0a0.9,0.9 0 1,0 -1.8,0zM320,247.85a0.9,0.9 0 1,0 1.8,0a0.9,0.9 0 1,0 -1.8,0zM322.79,248.46a0.9,0.9 0 1,0 1.8,0a0.9,0.9 0 1,0 -1.8,0zM325.58,255.11a0.9,0.9 0 1,0 1.8,0a0.9,0.9 0 1,0 -1.8,0zM328.37,259.72a0.9,0.9 0 1,0 1.8,0a0.9,0.9 0 1,0 -1.8,0zM331.16,261.23a0.9,0.9 0 1,0 1.8,0a0.9,0.9 0 1,0 -1.8,0zM333.95,261.48a0.9,0.9 0 1,0 1.8,0a0.9,0.9 0 1,0 -1.8,0zM336.74,259.54a0.9,0.9 0 1,0 1.8,0a0.9,0.9 0 1,0 -1.8,0zM339.53,256.7a0.9,0.9 0 1,0 1.8,0a0.9,0.9 0 1,0 -1.8,0zM342.32,253.61a0.9,0.9 0 1,0 1.8,0a0.9,0.9 0 1,0 -1.8,0zM345.11,249.57a0.9,0.9 0 1,0 1.8,0a0.9,0.9 0 1,0 -1.8,0zM347.9,248.82a0.9,0.9 0 1,0 1.8,0a0.9,0.9 0 1,0 -1.8,0zM350.69,255.72a0.9,0.9 0 1,0 1.8,0a0.9,0.9 0 1,0 -1.8,0zM353.48,258.01a0.9,0.9 0 1,0 1.8,0a0.9,0.9 0 1,0 -1.8,0zM356.27,256.4a0.9,0.9 0 1,0 1.8,0a0.9,0.9 0 1,0 -1.8,0zM359.06,254.67a0.9,0.9 0 1,0 1.8,0a0.9,0.9 0 1,0 -1.8,0zM361.85,252.36a0.9,0.9 0 1,0 1.8,0a0.9,0.9 0 1,0 -1.8,0zM364.64,251.31a0.9,0.9 0 1,0 1.8,0a0.9,0.9 0 1,0 -1.8,0zM367.43,256.49a0.9,0.9 0 1,0 1.8,0a0.9,0.9 0 1,0 -1.8,0zM370.22,260.31a0.9,0.9 0 1,0 1.8,0a0.9,0.9 0 1,0 -1.8,0zM373.01,262.15a0.9,0.9 0 1,0 1.8,0a0.9,0.9 0 1,0 -1.8,0zM375.8,262.07a0.9,0.9 0 1,0 1.8,0a0.9,0.9 0 1,0 -1.8,0zM378.59,260.29a0.9,0.9 0 1,0 1.8,0a0.9,0.9 0 1,0 -1.8,0zM381.38,256.35a0.9,0.9 0 1,0 1.8,0a0.9,0.9 0 1,0 -1.8,0zM384.17,253.39a0.9,0.9 0 1,0 1.8,0a0.9,0.9 0 1,0 -1.8,0zM386.96,249.74a0.9,0.9 0 1,0 1.8,0a0.9,0.9 0 1,0 -1.8,0z" stroke="none" stroke-width="0" fill="#e3141c" stroke-linejoin="round" />
<path d="M388.8,262.59L389.5,262.73L390.2,262.01L390.9,261.91L392.3,261.59L393,260.72L393.7,259.72L394.4,259.53L395.1,259.82L395.8,259.19L396.5,258.14L397.2,259.1L397.9,258.27L398.6,258.11L399.3,257.32L400,256.87L400.7,255.94L401.4,257.04L402.1,255.8L402.8,256.05L403.5,254.49L404.2,254.3L404.9,253.46L406.3,253.55L407,252.53L407.7,253.02L408.4,252.14L409.1,250.97L409.8,251.1L410.5,250.84L411.2,252.76L411.9,254.27L413.3,256.96L414,257.75L414.7,258.71L415.4,260.11L416.1,261.15L416.8,260.95L417.5,262.41L418.2,261.66L418.9,261.92L419.6,263.47L420.3,262.6L421,263.31L422.4,263.93L423.1,263.52L423.8,262.91L424.5,263.83L425.2,262.39L425.9,262.64L427.3,260.7L428,260.84L428.7,260.18L429.4,260.76L430.1,259.3L430.8,259.09L431.5,257.79L432.2,258.84L432.9,257.49L433.6,256.61L434.3,256.85L435,257.36L435.7,255.62L437.1,254.88L437.8,254.69L438.5,254.82L439.2,253.73L439.9,253.22L440.6,253.8L441.3,252.64L442,252.63L442.7,251.45L443.4,251.33L444.1,250.5L444.8,251.64L445.5,252.48L446.2,254.55L446.9,256.17L447.6,257.55L448.3,258.8L449,260.83L449.7,260.67L450.4,261L451.1,262.9L451.8,263.07L452.5,264.5L453.2,264.87L453.9,264.28L454.6,264.66L455.3,264.25L456,265.45L456.7,263.92L457.4,266.69L458.1,265.12L458.8,265.43L459.5,264.37L460.2,265.3L460.9,263.15L461.6,262.77L462.3,263.97L463,263.36L463.7,262.28L464.4,261.11L465.1,260.73L465.8,261.25L466.5,260.59L467.2,259.98L467.9,259.21L468.6,258.86L469.3,258.74L470,258.16L470.7,258.17L471.4,258.42L472.1,256.93L472.8,256.06L474.2,255.52L474.9,254.88L475.6,254.6L476.3,253.56L477,254.29L477.7,253.38L478.4,252.95L479.1,252.17L479.8,251.91L480.5,251.22L481.2,250.99L481.9,251.05L482.6,253.13L483.3,254.76L484,255.72L484.7,257.53L485.4,258.06L486.1,259.58L486.8,260.63L487.5,260.42L488.2,262.12L489.6,263.08L490.3,262.91L491,263.8L491.7,264.49L492.4,265L493.1,264.7L493.8,264.83L494.5,263.76L495.2,265.16L495.9,264.22L496.6,264.11L497.3,263.56L498,263.67L498.7,261.91L499.4,263.01L500.1,262.03L500.8,261.8L501.5,262.08L502.2,260.95L502.9,260.58L503.6,260.58L504.3,259.96L505,259.71L505.7,258.47L506.4,258.88L507.1,258.64L507.8,258.55L508.5,257.68L509.2,256.34L509.9,256.94L510.6,256.43L511.3,254.83L512,255.61L512.7,254.24L513.4,254.31L514.1,254.08L514.8,254.41L515.5,253.14L516.2,253.41L516.9,253.55L517.6,252.95L518.3,251.65L519,251.58L519.7,250.59L520.4,250.31L521.1,250.49L521.8,252.21L522.5,253.81L523.2,255.85L523.9,256.45L525.3,259.92L526,260.81L526.7,262.32L527.4,263.09" stroke="#e3141c" stroke-width="1" fill="none" stroke-linejoin="round" />
<path d="M390.75,261.73a0.9,0.9 0 1,0 1.8,0a0.9,0.9 0 1,0 -1.8,0zM393.54,259.55a0.9,0.9 0 1,0 1.8,0a0.9,0.9 0 1,0 -1.8,0zM396.33,259.07a0.9,0.9 0 1,0 1.8,0a0.9,0.9 0 1,0 -1.8,0zM399.12,256.85a0.9,0.9 0 1,0 1.8,0a0.9,0.9 0 1,0 -1.8,0zM401.91,256.03a0.9,0.9 0 1,0 1.8,0a0.9,0.9 0 1,0 -1.8,0zM404.7,253.49a0.9,0.9 0 1,0 1.8,0a0.9,0.9 0 1,0 -1.8,0zM407.49,252.16a0.9,0.9 0 1,0 1.8,0a0.9,0.9 0 1,0 -1.8,0zM410.28,252.69a0.9,0.9 0 1,0 1.8,0a0.9,0.9 0 1,0 -1.8,0zM413.07,257.71a0.9,0.9 0 1,0 1.8,0a0.9,0.9 0 1,0 -1.8,0zM415.86,260.96a0.9,0.9 0 1,0 1.8,0a0.9,0.9 0 1,0 -1.8,0zM418.65,263.35a0.9,0.9 0 1,0 1.8,0a0.9,0.9 0 1,0 -1.8,0zM421.44,263.91a0.9,0.9 0 1,0 1.8,0a0.9,0.9 0 1,0 -1.8,0zM424.23,262.54a0.9,0.9 0 1,0 1.8,0a0.9,0.9 0 1,0 -1.8,0zM427.02,260.82a0.9,0.9 0 1,0 1.8,0a0.9,0.9 0 1,0 -1.8,0zM429.81,259.12a0.9,0.9 0 1,0 1.8,0a0.9,0.9 0 1,0 -1.8,0zM432.6,256.74a0.9,0.9 0 1,0 1.8,0a0.9,0.9 0 1,0 -1.8,0zM435.39,255.33a0.9,0.9 0 1,0 1.8,0a0.9,0.9 0 1,0 -1.8,0zM438.18,253.93a0.9,0.9 0 1,0 1.8,0a0.9,0.9 0 1,0 -1.8,0zM440.97,252.63a0.9,0.9 0 1,0 1.8,0a0.9,0.9 0 1,0 -1.8,0zM443.76,251.4a0.9,0.9 0 1,0 1.8,0a0.9,0.9 0 1,0 -1.8,0zM446.55,257.25a0.9,0.9 0 1,0 1.8,0a0.9,0.9 0 1,0 -1.8,0zM449.34,260.92a0.9,0.9 0 1,0 1.8,0a0.9,0.9 0 1,0 -1.8,0zM452.13,264.78a0.9,0.9 0 1,0 1.8,0a0.9,0.9 0 1,0 -1.8,0zM454.92,265.13a0.9,0.9 0 1,0 1.8,0a0.9,0.9 0 1,0 -1.8,0zM457.71,265.34a0.9,0.9 0 1,0 1.8,0a0.9,0.9 0 1,0 -1.8,0zM460.5,262.88a0.9,0.9 0 1,0 1.8,0a0.9,0.9 0 1,0 -1.8,0zM463.29,261.47a0.9,0.9 0 1,0 1.8,0a0.9,0.9 0 1,0 -1.8,0zM466.08,260.18a0.9,0.9 0 1,0 1.8,0a0.9,0.9 0 1,0 -1.8,0zM468.87,258.36a0.9,0.9 0 1,0 1.8,0a0.9,0.9 0 1,0 -1.8,0zM471.66,256.36a0.9,0.9 0 1,0 1.8,0a0.9,0.9 0 1,0 -1.8,0zM474.45,254.7a0.9,0.9 0 1,0 1.8,0a0.9,0.9 0 1,0 -1.8,0zM477.24,253.12a0.9,0.9 0 1,0 1.8,0a0.9,0.9 0 1,0 -1.8,0zM480.03,251.08a0.9,0.9 0 1,0 1.8,0a0.9,0.9 0 1,0 -1.8,0zM482.82,255.33a0.9,0.9 0 1,0 1.8,0a0.9,0.9 0 1,0 -1.8,0zM485.61,260.19a0.9,0.9 0 1,0 1.8,0a0.9,0.9 0 1,0 -1.8,0zM488.4,262.87a0.9,0.9 0 1,0 1.8,0a0.9,0.9 0 1,0 -1.8,0zM491.19,264.77a0.9,0.9 0 1,0 1.8,0a0.9,0.9 0 1,0 -1.8,0zM493.98,264.51a0.9,0.9 0 1,0 1.8,0a0.9,0.9 0 1,0 -1.8,0zM496.77,263.61a0.9,0.9 0 1,0 1.8,0a0.9,0.9 0 1,0 -1.8,0zM499.56,261.91a0.9,0.9 0 1,0 1.8,0a0.9,0.9 0 1,0 -1.8,0zM502.35,260.58a0.9,0.9 0 1,0 1.8,0a0.9,0.9 0 1,0 -1.8,0zM505.14,258.67a0.9,0.9 0 1,0 1.8,0a0.9,0.9 0 1,0 -1.8,0zM507.93,257.06a0.9,0.9 0 1,0 1.8,0a0.9,0.9 0 1,0 -1.8,0zM510.72,255.18a0.9,0.9 0 1,0 1.8,0a0.9,0.9 0 1,0 -1.8,0zM513.51,254.22a0.9,0.9 0 1,0 1.8,0a0.9,0.9 0 1,0 -1.8,0zM516.3,253.29a0.9,0.9 0 1,0 1.8,0a0.9,0.9 0 1,0 -1.8,0zM519.09,250.47a0.9,0.9 0 1,0 1.8,0a0.9,0.9 0 1,0 -1.8,0zM521.88,254.61a0.9,0.9 0 1,0 1.8,0a0.9,0.9 0 1,0 -1.8,0zM524.67,260.26a0.9,0.9 0 1,0 1.8,0a0.9,0.9 0 1,0 -1.8,0z" stroke="none" stroke-width="0" fill="#e3141c" stroke-linejoin="round" />
<path d="M527.9,260.38L528.6,260.35L529.3,258.33L530,256.13L530.7,255.73L531.4,255.11L532.1,253.72L532.8,252.01L533.5,250.65L534.2,250.18L534.9,249.29L535.6,247.49L536.3,246.05L537,245.97L537.7,243.71L538.4,242.86L539.1,241.38L539.8,241.51L540.5,239.29L541.2,241.12L541.9,242.16L542.6,243.3L543.3,244.8L544,247.17L544.7,248.99L545.4,250.43L546.1,252.43L546.8,253.71L547.5,255.86L548.2,256.9L548.9,258.82L549.6,260.55L550.3,263.68L551,260.94L551.7,262.67L552.4,262.17L553.1,263.3L553.8,263.18L554.5,264.73L555.2,263.71L555.9,263.4L556.6,262.61L557.3,264.41L558,263.11L558.7,264.56L559.4,264.42L560.1,266.42L560.8,262.84L561.5,263.55L562.2,265.2L563.6,263.97L564.3,264.07L565,262.7L565.7,264.64L566.4,266.09L567.1,264.57L567.8,262.71L568.5,263.84L569.2,263.62L569.9,265.22L570.6,262.84L572,264.14L572.7,264.18L573.4,264.38L574.1,261.84L574.8,259.9L575.5,259.24L576.2,259.5L576.9,258.46L577.6,256.26L578.3,254.26L579,254.84L579.7,253.53L580.4,252.09L581.1,251.1L581.8,250.47L582.5,249.17L583.2,246.78L583.9,246.14L584.6,246.51L585.3,244.39L586,242.63L586.7,241.08L587.4,241.6L588.1,241.78L588.8,243.55L589.5,245.21L590.2,246.73L590.9,247.6L591.6,249.34L592.3,250.47L593,252.05L593.7,253.28L594.4,254.01L595.8,257.29L596.5,257.64L597.2,259.17L597.9,260.52L598.6,262.36L599.3,264.88L600,262.21L601.4,267.3L602.1,265.62L602.8,264.1L603.5,264.15L604.2,263.57L604.9,263.85L605.6,264.2L606.3,264.08L607,264.12L607.7,263.58L608.4,263.51L609.1,263.12L609.8,261.37L610.5,260.18L611.2,258.27L611.9,257.15L612.6,255.2L613.3,252.58L614,249.7L614.7,250.29L615.4,248.08L616.1,245.71L616.8,243.55L617.5,243.21L618.2,240.42L618.9,238.19L619.6,239.12L620.3,241.42L621,241.95L621.7,244.8L622.4,245.66L623.1,247.13L623.8,249.88L624.5,250.96L625.2,251.91L625.9,253.82L626.6,255.89L627.3,257.5L628,258.27L628.7,259.97L629.4,262.74L630.1,262.93L630.8,264.15L631.5,264.9L632.2,265.86L632.9,264.76L633.6,263.9L634.3,264.08L635,263.97L635.7,262.86L636.4,263.05L637.1,263.89L637.8,262.17L638.5,261.44L639.2,259.68L639.9,260.25L640.6,257.34L641.3,256.56L642,254.53L642.7,255.34L643.4,253.75L644.1,250.58L644.8,249.51L645.5,249.91L646.9,246.44L647.6,244.33L648.3,244.17L649,242.51L649.7,240.43L650.4,239.18L651.1,237.31L651.8,236.79L652.5,235.73L653.2,238.23L653.9,239.31L654.6,240.62L655.3,242.8L656,243.84L656.7,245.45L657.4,246.76L658.1,249.07L658.8,250.75L659.5,252.23L660.2,252.94L660.9,254.72L661.6,255.49L662.3,256.68L663.7,259.71L664.4,260.58L665.1,261.15L665.8,262.37L666.5,263.02L667.2,262.94" stroke="#e3141c" stroke-width="1" fill="none" stroke-linejoin="round" />
<path d="M528.69,257.4a0.9,0.9 0 1,0 1.8,0a0.9,0.9 0 1,0 -1.8,0zM531.48,253.03a0.9,0.9 0 1,0 1.8,0a0.9,0.9 0 1,0 -1.8,0zM534.27,248.58a0.9,0.9 0 1,0 1.8,0a0.9,0.9 0 1,0 -1.8,0zM537.06,243.38a0.9,0.9 0 1,0 1.8,0a0.9,0.9 0 1,0 -1.8,0zM539.85,239.96a0.9,0.9 0 1,0 1.8,0a0.9,0.9 0 1,0 -1.8,0zM542.64,245.63a0.9,0.9 0 1,0 1.8,0a0.9,0.9 0 1,0 -1.8,0zM545.43,252.86a0.9,0.9 0 1,0 1.8,0a0.9,0.9 0 1,0 -1.8,0zM548.22,259.38a0.9,0.9 0 1,0 1.8,0a0.9,0.9 0 1,0 -1.8,0zM551.01,262.52a0.9,0.9 0 1,0 1.8,0a0.9,0.9 0 1,0 -1.8,0zM553.8,264.43a0.9,0.9 0 1,0 1.8,0a0.9,0.9 0 1,0 -1.8,0zM556.59,264.05a0.9,0.9 0 1,0 1.8,0a0.9,0.9 0 1,0 -1.8,0zM559.38,265.48a0.9,0.9 0 1,0 1.8,0a0.9,0.9 0 1,0 -1.8,0zM562.17,264.42a0.9,0.9 0 1,0 1.8,0a0.9,0.9 0 1,0 -1.8,0zM564.96,264.98a0.9,0.9 0 1,0 1.8,0a0.9,0.9 0 1,0 -1.8,0zM567.75,263.79a0.9,0.9 0 1,0 1.8,0a0.9,0.9 0 1,0 -1.8,0zM570.54,263.63a0.9,0.9 0 1,0 1.8,0a0.9,0.9 0 1,0 -1.8,0zM573.33,261.47a0.9,0.9 0 1,0 1.8,0a0.9,0.9 0 1,0 -1.8,0zM576.12,258.07a0.9,0.9 0 1,0 1.8,0a0.9,0.9 0 1,0 -1.8,0zM578.91,253.3a0.9,0.9 0 1,0 1.8,0a0.9,0.9 0 1,0 -1.8,0zM581.7,248.81a0.9,0.9 0 1,0 1.8,0a0.9,0.9 0 1,0 -1.8,0zM584.49,244.15a0.9,0.9 0 1,0 1.8,0a0.9,0.9 0 1,0 -1.8,0zM587.28,242a0.9,0.9 0 1,0 1.8,0a0.9,0.9 0 1,0 -1.8,0zM590.07,247.79a0.9,0.9 0 1,0 1.8,0a0.9,0.9 0 1,0 -1.8,0zM592.86,253.35a0.9,0.9 0 1,0 1.8,0a0.9,0.9 0 1,0 -1.8,0zM595.65,257.76a0.9,0.9 0 1,0 1.8,0a0.9,0.9 0 1,0 -1.8,0zM598.44,264.71a0.9,0.9 0 1,0 1.8,0a0.9,0.9 0 1,0 -1.8,0zM601.23,265.54a0.9,0.9 0 1,0 1.8,0a0.9,0.9 0 1,0 -1.8,0zM604.02,263.87a0.9,0.9 0 1,0 1.8,0a0.9,0.9 0 1,0 -1.8,0zM606.81,263.58a0.9,0.9 0 1,0 1.8,0a0.9,0.9 0 1,0 -1.8,0zM609.6,260.17a0.9,0.9 0 1,0 1.8,0a0.9,0.9 0 1,0 -1.8,0zM612.39,252.6a0.9,0.9 0 1,0 1.8,0a0.9,0.9 0 1,0 -1.8,0zM615.18,245.76a0.9,0.9 0 1,0 1.8,0a0.9,0.9 0 1,0 -1.8,0zM617.97,238.27a0.9,0.9 0 1,0 1.8,0a0.9,0.9 0 1,0 -1.8,0zM620.76,244.65a0.9,0.9 0 1,0 1.8,0a0.9,0.9 0 1,0 -1.8,0zM623.55,250.89a0.9,0.9 0 1,0 1.8,0a0.9,0.9 0 1,0 -1.8,0zM626.34,257.38a0.9,0.9 0 1,0 1.8,0a0.9,0.9 0 1,0 -1.8,0zM629.13,262.91a0.9,0.9 0 1,0 1.8,0a0.9,0.9 0 1,0 -1.8,0zM631.92,264.88a0.9,0.9 0 1,0 1.8,0a0.9,0.9 0 1,0 -1.8,0zM634.71,262.99a0.9,0.9 0 1,0 1.8,0a0.9,0.9 0 1,0 -1.8,0zM637.5,261.54a0.9,0.9 0 1,0 1.8,0a0.9,0.9 0 1,0 -1.8,0zM640.29,256.67a0.9,0.9 0 1,0 1.8,0a0.9,0.9 0 1,0 -1.8,0zM643.08,251.1a0.9,0.9 0 1,0 1.8,0a0.9,0.9 0 1,0 -1.8,0zM645.87,246.76a0.9,0.9 0 1,0 1.8,0a0.9,0.9 0 1,0 -1.8,0zM648.66,240.83a0.9,0.9 0 1,0 1.8,0a0.9,0.9 0 1,0 -1.8,0zM651.45,235.94a0.9,0.9 0 1,0 1.8,0a0.9,0.9 0 1,0 -1.8,0zM654.24,242.32a0.9,0.9 0 1,0 1.8,0a0.9,0.9 0 1,0 -1.8,0zM657.03,248.52a0.9,0.9 0 1,0 1.8,0a0.9,0.9 0 1,0 -1.8,0zM659.82,254.27a0.9,0.9 0 1,0 1.8,0a0.9,0.9 0 1,0 -1.8,0zM662.61,259.31a0.9,0.9 0 1,0 1.8,0a0.9,0.9 0 1,0 -1.8,0zM665.4,262.84a0.9,0.9 0 1,0 1.8,0a0.9,0.9 0 1,0 -1.8,0z" stroke="none" stroke-width="0" fill="#e3141c" stroke-linejoin="round" />
<rect x="249.6" y="272.8" width="417.7" height="57.8" fill="none" stroke="#6a6a6a" stroke-width="1.3" />
<line x1="388.7" y1="272.8" x2="388.7" y2="330.6" stroke="#6a6a6a" stroke-width="1.1" />
<line x1="527.9" y1="272.8" x2="527.9" y2="330.6" stroke="#6a6a6a" stroke-width="1.1" />
<line x1="249.6" y1="324.3" x2="252.8" y2="324.3" stroke="#6a6a6a" stroke-width="0.9" />
<line x1="249.6" y1="311.42" x2="252.8" y2="311.42" stroke="#6a6a6a" stroke-width="0.9" />
<line x1="249.6" y1="298.54" x2="252.8" y2="298.54" stroke="#6a6a6a" stroke-width="0.9" />
<line x1="249.6" y1="285.66" x2="252.8" y2="285.66" stroke="#6a6a6a" stroke-width="0.9" />
<line x1="249.6" y1="272.78" x2="252.8" y2="272.78" stroke="#6a6a6a" stroke-width="0.9" />
<line x1="388.7" y1="324.3" x2="391.9" y2="324.3" stroke="#6a6a6a" stroke-width="0.9" />
<line x1="388.7" y1="311.42" x2="391.9" y2="311.42" stroke="#6a6a6a" stroke-width="0.9" />
<line x1="388.7" y1="298.54" x2="391.9" y2="298.54" stroke="#6a6a6a" stroke-width="0.9" />
<line x1="388.7" y1="285.66" x2="391.9" y2="285.66" stroke="#6a6a6a" stroke-width="0.9" />
<line x1="388.7" y1="272.78" x2="391.9" y2="272.78" stroke="#6a6a6a" stroke-width="0.9" />
<line x1="527.9" y1="324.3" x2="531.1" y2="324.3" stroke="#6a6a6a" stroke-width="0.9" />
<line x1="527.9" y1="311.42" x2="531.1" y2="311.42" stroke="#6a6a6a" stroke-width="0.9" />
<line x1="527.9" y1="298.54" x2="531.1" y2="298.54" stroke="#6a6a6a" stroke-width="0.9" />
<line x1="527.9" y1="285.66" x2="531.1" y2="285.66" stroke="#6a6a6a" stroke-width="0.9" />
<line x1="527.9" y1="272.78" x2="531.1" y2="272.78" stroke="#6a6a6a" stroke-width="0.9" />
<line x1="385.5" y1="324.3" x2="388.7" y2="324.3" stroke="#6a6a6a" stroke-width="0.9" />
<line x1="385.5" y1="311.42" x2="388.7" y2="311.42" stroke="#6a6a6a" stroke-width="0.9" />
<line x1="385.5" y1="298.54" x2="388.7" y2="298.54" stroke="#6a6a6a" stroke-width="0.9" />
<line x1="385.5" y1="285.66" x2="388.7" y2="285.66" stroke="#6a6a6a" stroke-width="0.9" />
<line x1="385.5" y1="272.78" x2="388.7" y2="272.78" stroke="#6a6a6a" stroke-width="0.9" />
<line x1="524.7" y1="324.3" x2="527.9" y2="324.3" stroke="#6a6a6a" stroke-width="0.9" />
<line x1="524.7" y1="311.42" x2="527.9" y2="311.42" stroke="#6a6a6a" stroke-width="0.9" />
<line x1="524.7" y1="298.54" x2="527.9" y2="298.54" stroke="#6a6a6a" stroke-width="0.9" />
<line x1="524.7" y1="285.66" x2="527.9" y2="285.66" stroke="#6a6a6a" stroke-width="0.9" />
<line x1="524.7" y1="272.78" x2="527.9" y2="272.78" stroke="#6a6a6a" stroke-width="0.9" />
<line x1="664.1" y1="324.3" x2="667.3" y2="324.3" stroke="#6a6a6a" stroke-width="0.9" />
<line x1="664.1" y1="311.42" x2="667.3" y2="311.42" stroke="#6a6a6a" stroke-width="0.9" />
<line x1="664.1" y1="298.54" x2="667.3" y2="298.54" stroke="#6a6a6a" stroke-width="0.9" />
<line x1="664.1" y1="285.66" x2="667.3" y2="285.66" stroke="#6a6a6a" stroke-width="0.9" />
<line x1="664.1" y1="272.78" x2="667.3" y2="272.78" stroke="#6a6a6a" stroke-width="0.9" />
<line x1="249.6" y1="330.6" x2="249.6" y2="334.3" stroke="#6a6a6a" stroke-width="0.9" />
<line x1="249.6" y1="272.8" x2="249.6" y2="275.6" stroke="#6a6a6a" stroke-width="0.8" />
<line x1="284.4" y1="330.6" x2="284.4" y2="334.3" stroke="#6a6a6a" stroke-width="0.9" />
<line x1="284.4" y1="272.8" x2="284.4" y2="275.6" stroke="#6a6a6a" stroke-width="0.8" />
<line x1="319.2" y1="330.6" x2="319.2" y2="334.3" stroke="#6a6a6a" stroke-width="0.9" />
<line x1="319.2" y1="272.8" x2="319.2" y2="275.6" stroke="#6a6a6a" stroke-width="0.8" />
<line x1="354" y1="330.6" x2="354" y2="334.3" stroke="#6a6a6a" stroke-width="0.9" />
<line x1="354" y1="272.8" x2="354" y2="275.6" stroke="#6a6a6a" stroke-width="0.8" />
<line x1="388.8" y1="330.6" x2="388.8" y2="334.3" stroke="#6a6a6a" stroke-width="0.9" />
<line x1="388.8" y1="272.8" x2="388.8" y2="275.6" stroke="#6a6a6a" stroke-width="0.8" />
<line x1="388.7" y1="330.6" x2="388.7" y2="334.3" stroke="#6a6a6a" stroke-width="0.9" />
<line x1="388.7" y1="272.8" x2="388.7" y2="275.6" stroke="#6a6a6a" stroke-width="0.8" />
<line x1="423.5" y1="330.6" x2="423.5" y2="334.3" stroke="#6a6a6a" stroke-width="0.9" />
<line x1="423.5" y1="272.8" x2="423.5" y2="275.6" stroke="#6a6a6a" stroke-width="0.8" />
<line x1="458.3" y1="330.6" x2="458.3" y2="334.3" stroke="#6a6a6a" stroke-width="0.9" />
<line x1="458.3" y1="272.8" x2="458.3" y2="275.6" stroke="#6a6a6a" stroke-width="0.8" />
<line x1="493.1" y1="330.6" x2="493.1" y2="334.3" stroke="#6a6a6a" stroke-width="0.9" />
<line x1="493.1" y1="272.8" x2="493.1" y2="275.6" stroke="#6a6a6a" stroke-width="0.8" />
<line x1="527.9" y1="330.6" x2="527.9" y2="334.3" stroke="#6a6a6a" stroke-width="0.9" />
<line x1="527.9" y1="272.8" x2="527.9" y2="275.6" stroke="#6a6a6a" stroke-width="0.8" />
<line x1="527.9" y1="330.6" x2="527.9" y2="334.3" stroke="#6a6a6a" stroke-width="0.9" />
<line x1="527.9" y1="272.8" x2="527.9" y2="275.6" stroke="#6a6a6a" stroke-width="0.8" />
<line x1="562.7" y1="330.6" x2="562.7" y2="334.3" stroke="#6a6a6a" stroke-width="0.9" />
<line x1="562.7" y1="272.8" x2="562.7" y2="275.6" stroke="#6a6a6a" stroke-width="0.8" />
<line x1="597.5" y1="330.6" x2="597.5" y2="334.3" stroke="#6a6a6a" stroke-width="0.9" />
<line x1="597.5" y1="272.8" x2="597.5" y2="275.6" stroke="#6a6a6a" stroke-width="0.8" />
<line x1="632.3" y1="330.6" x2="632.3" y2="334.3" stroke="#6a6a6a" stroke-width="0.9" />
<line x1="632.3" y1="272.8" x2="632.3" y2="275.6" stroke="#6a6a6a" stroke-width="0.8" />
<line x1="667.1" y1="330.6" x2="667.1" y2="334.3" stroke="#6a6a6a" stroke-width="0.9" />
<line x1="667.1" y1="272.8" x2="667.1" y2="275.6" stroke="#6a6a6a" stroke-width="0.8" />
<text x="241.6" y="276.98" font-size="11.8" text-anchor="end" fill="#000" stroke="#000" >40</text>
<text x="241.6" y="302.74" font-size="11.8" text-anchor="end" fill="#000" stroke="#000" >20</text>
<text x="241.6" y="328.5" font-size="11.8" text-anchor="end" fill="#000" stroke="#000" >0</text>
<text x="0" y="0" font-size="11.8" text-anchor="middle" fill="#000" stroke="#000" transform="translate(220.9,308.2) rotate(-90)" textLength="66.5" lengthAdjust="spacingAndGlyphs">Current/&#181;A</text>
<text x="249.6" y="346.9" font-size="11.8" text-anchor="middle" fill="#000" stroke="#000" >0</text>
<text x="318.9" y="346.9" font-size="11.8" text-anchor="middle" fill="#000" stroke="#000" >1</text>
<text x="388.7" y="346.9" font-size="11.8" text-anchor="middle" fill="#000" stroke="#000" >0</text>
<text x="458.3" y="346.9" font-size="11.8" text-anchor="middle" fill="#000" stroke="#000" >1</text>
<text x="527.9" y="346.9" font-size="11.8" text-anchor="middle" fill="#000" stroke="#000" >0</text>
<text x="597.5" y="346.9" font-size="11.8" text-anchor="middle" fill="#000" stroke="#000" >1</text>
<text x="667.3" y="346.9" font-size="11.8" text-anchor="middle" fill="#000" stroke="#000" >2</text>
<text x="319.1" y="360.9" font-size="12.2" text-anchor="middle" fill="#000" stroke="#000"  textLength="50.4" lengthAdjust="spacingAndGlyphs">Time/ms</text>
<text x="457.9" y="360.9" font-size="12.2" text-anchor="middle" fill="#000" stroke="#000"  textLength="50.4" lengthAdjust="spacingAndGlyphs">Time/ms</text>
<text x="597.3" y="360.9" font-size="12.2" text-anchor="middle" fill="#000" stroke="#000"  textLength="50.4" lengthAdjust="spacingAndGlyphs">Time/ms</text>
<path d="M250.2,320.7L250.5,322.9L250.8,321.22L251.4,326.24L251.7,323.71L252,324.9L252.3,324.64L252.6,326.85L253.5,322.61L253.8,322.45L254.1,324.17L254.4,324.35L254.7,325.38L255,323.39L255.3,324.44L255.6,323.07L255.9,321.22L256.5,326.45L256.8,325.43L257.1,326.39L257.4,325.97L257.7,321.94L258,323.68L258.3,326.49L258.6,322.99L258.9,322.01L259.2,324.62L259.5,325.13L259.8,324.59L260.1,323.58L260.4,323.01L260.7,322.14L261,322.09L261.3,322.13L261.6,321.85L261.9,286.68L262.2,272.01L262.5,274.38L262.8,282.98L263.1,272.85L263.4,279.23L263.7,283.38L264.3,290.06L264.6,292.18L264.9,297.33L265.2,299.41L265.5,300.08L265.8,291.52L266.1,294.39L266.7,299.01L267,299.79L267.3,299.85L267.6,304.78L267.9,302.85L268.2,305.5L268.5,297.99L268.8,297.87L269.1,302.67L269.4,304.65L269.7,305.61L270,305.93L270.6,309.2L270.9,309.88L271.2,314.58L271.5,301.38L271.8,305.63L272.1,306.08L272.4,307.26L272.7,309.84L273,311.66L273.3,312.67L273.6,312.78L273.9,313.44L274.2,303.99L274.5,307.71L274.8,308.94L275.1,310.64L275.4,310.21L275.7,315.25L276,312.12L276.3,316.08L276.6,318.01L276.9,306.92L277.2,307.46L277.5,309.95L277.8,310.45L278.1,313.27L278.4,316.98L278.7,321.72L279,321.48L279.3,325.41L279.6,322.06L279.9,323.1L280.2,321.28L280.5,322.43L280.8,324.21L281.1,324.36L281.4,323.91L281.7,323.76L282,324.9L282.3,324.09L282.6,321.45L282.9,326.78L283.2,323.63L283.5,325.5L283.8,323.74L284.1,322.69L284.4,324.14L284.7,322.8L285,326.6L285.3,322.26L285.6,325.01L285.9,323.04L286.2,323.75L286.5,328.16L286.8,325.26L287.1,323.69L287.4,321.54L287.7,323.58L288,323.63L288.3,326.32L288.6,321.74L288.9,321.13L289.2,324L289.5,324.4L289.8,326.65L290.1,310.59L290.4,273.92L290.7,272.01L291,272.01L291.3,272.8L291.6,275.39L291.9,281.48L292.5,290.39L292.8,292.7L293.1,294.14L293.4,299.84L293.7,289.83L294.3,295.05L294.6,300.74L294.9,299.85L295.2,300.79L295.5,304.73L295.8,305.41L296.1,310.75L296.4,298.44L296.7,302.1L297,301.67L297.3,307.24L297.6,305.35L297.9,309.92L298.2,316.35L298.8,324.39L299.1,324.57L299.4,321.29L299.7,324.59L300,325.9L300.3,326.16L300.6,323.5L300.9,323.55L301.2,326.25L301.5,325.63L301.8,323.18L302.1,323.11L302.4,325.08L302.7,323.04L303,323.12L303.3,326.91L303.6,324.54L303.9,323.37L304.2,324.97L304.5,327.49L304.8,324.5L305.4,321.5L305.7,327.57L306,319.83L306.3,325.86L306.6,322.5L306.9,322.06L307.2,322.46L307.5,287.01L307.8,272.01L308.1,272.01L308.4,273.32L308.7,277.21L309,276.99L309.3,284.77L309.6,287.67L309.9,289.85L310.2,293.45L310.5,285.31L310.8,286.71L311.1,292.17L311.4,295.51L311.7,293.19L312.3,297L312.6,304.88L313.2,324.31L313.5,324.22L313.8,320.93L314.1,321.95L314.4,324.11L314.7,322.1L315,325.3L315.3,324.58L315.6,322.58L315.9,326.04L316.2,324.49L316.5,326.17L317.1,321.41L317.4,325.25L317.7,323.68L318,325.49L318.3,325.89L318.6,326.03L318.9,321.7L319.2,320.24L319.5,323.26L319.8,325.2L320.1,322.91L320.4,324.58L320.7,322.75L321,323.57L321.3,323.59L321.6,323.06L321.9,324.98L322.2,324.69L322.5,326.81L322.8,324.75L323.1,326.33L323.4,324.28L323.7,325.58L324,323.88L324.3,286.81L324.6,272.01L324.9,272.01L325.2,273.82L325.5,280.78L325.8,285.48L326.1,286.25L326.4,292.33L326.7,291.55L327,286.76L327.3,290.63L327.6,291.25L327.9,292.3L328.5,301.13L328.8,300.99L329.1,301.59L329.4,306.19L329.7,308.48L330,296.78L330.6,303.35L330.9,304.06L331.2,306.31L331.5,306.51L331.8,308.45L332.1,308.63L332.4,310.9L332.7,304.75L333,303.58L333.3,304.51L333.6,306.75L333.9,307.55L334.2,311.39L334.5,313.56L334.8,312.5L335.1,316.92L335.4,309.05L335.7,306.13L336,310.21L336.3,311.2L336.6,314.34L337.2,317.17L337.5,317.63L337.8,315.44L338.4,324.1L338.7,324.32L339,325.42L339.6,325.66L339.9,324.68L340.2,324.73L340.5,322.84L340.8,324.68L341.1,324.36L341.4,326L341.7,321.39L342,323.23L342.3,321.16L342.6,322.76L342.9,321.64L343.2,324.44L343.5,322.89L343.8,319.69L344.1,326.01L344.4,322.15L344.7,321.31L345,323.36L345.3,322.81L345.6,321.98L345.9,325.12L346.2,323.37L346.5,325.47L346.8,325.16L347.1,325.06L347.4,324.28L348,323.3L348.3,326.38L348.6,320.78L348.9,286.34L349.2,272.01L349.8,272.01L350.1,279.48L350.4,284.09L350.7,285.91L351.3,296.49L351.6,294.97L351.9,301.82L352.2,293.27L352.5,295.97L352.8,296.75L353.1,301.76L353.4,301.94L353.7,306.6L354,306.05L354.3,310.76L354.6,312.17L354.9,301.12L355.2,305.25L355.5,307.42L355.8,306.23L356.4,314.18L356.7,313.77L357,318.25L357.6,315.28L357.9,318.84L358.2,319.94L358.5,325.89L358.8,325.8L359.1,321.66L359.4,323.85L359.7,321.49L360.3,325.5L360.6,324.15L360.9,322.01L361.2,322.48L361.5,324.04L361.8,323.96L362.1,324.23L362.4,325L362.7,320.85L363,324.03L363.3,325.91L363.6,324.83L363.9,322.84L364.2,322.98L364.5,324.27L364.8,325.15L365.1,324L365.4,288.21L365.7,272.01L366,272.01L366.3,273.07L366.6,277.24L367.2,287.65L367.5,289.12L367.8,296.1L368.1,296.79L368.4,299.45L368.7,291.96L369,293.43L369.3,297.75L369.6,297.19L370.5,305.41L370.8,306.82L371.1,306.26L371.4,309.71L371.7,300.01L372,300.11L372.3,301.63L372.6,302.35L372.9,306.42L373.2,308.97L373.5,307.41L373.8,309.82L374.1,310.07L374.4,303.24L374.7,302.95L375.6,308.06L376.5,312.56L376.8,312.08L377.4,323.54L377.7,325.43L378,323.54L378.3,325.51L378.6,323.84L378.9,323.38L379.2,325.25L379.5,323.83L379.8,321.34L380.1,323.51L380.4,325.09L380.7,324.15L381,325.55L381.3,323.6L381.6,322.62L381.9,325.39L382.2,324.39L382.5,322.21L382.8,324.86L383.1,323.73L383.4,325.73L383.7,325.39L384,324.89L384.3,320.54L384.6,324.7L384.9,324.9L385.2,324.95L385.5,324.31L385.8,322.99L386.1,323.74L386.4,320.73L386.7,323.7L387,321.71L387.3,323.6L387.6,323.07L387.9,326.37L388.2,324.25" stroke="#8c8c8c" stroke-width="1.45" fill="none" stroke-linejoin="round" />
<path d="M389.2,317.65L389.5,316.9L389.8,318.5L390.1,318.96L390.4,322.23L390.7,322.02L391,322.71L391.3,323.03L391.6,324.59L391.9,323.71L392.2,322.54L392.5,325.65L392.8,323.47L393.1,322.96L393.4,321.14L393.7,325.16L394,323.07L394.3,323.56L394.6,325.69L394.9,324.07L395.2,324.47L395.5,327.79L395.8,323.08L396.1,323.17L396.7,326.2L397,321.66L397.3,323.61L397.6,322.41L397.9,321.77L398.2,324.88L398.5,322.73L398.8,324.43L399.1,324.14L399.4,324.18L399.7,324.04L400,322.25L400.3,323.84L400.6,324.29L400.9,324.49L401.2,323.49L401.5,325.48L402.1,324.13L402.4,324.95L402.7,324.23L403,325.03L403.3,320.82L403.9,323.32L404.2,324.13L404.5,320.52L404.8,323.52L405.1,324.18L405.4,323.55L405.7,323.55L406,321.77L406.3,324.07L406.6,320.66L406.9,325.46L407.2,322.92L407.5,325.66L407.8,321.12L408.1,324.57L408.4,324.14L408.7,322.55L409,322.02L409.3,325.83L409.6,324.6L409.9,326.29L410.2,323.82L410.8,324.6L411.1,325.14L411.4,324.66L411.7,325.24L412,298.35L412.3,283.22L412.9,288.24L413.2,289.9L413.5,289.76L414.1,295.25L414.4,297.15L414.7,296.32L415,299.89L415.3,301.39L415.6,300.98L415.9,302.68L416.2,302.56L416.5,304.69L416.8,302.95L417.1,306.01L417.4,306.83L418,310.66L418.3,311.41L418.9,309.24L419.5,312.25L419.8,313.17L420.1,312.64L420.4,314.39L420.7,312.52L421,312.8L421.3,311.58L421.6,312.15L421.9,314.14L422.2,314.89L422.5,317.98L422.8,315.46L423.1,315.44L423.4,314.65L423.7,315.4L424,315.79L424.3,316.54L424.6,319.85L424.9,321.72L425.2,322.89L425.5,323.27L425.8,321.1L426.1,321.83L426.4,324.91L426.7,324.19L427,326.11L427.3,323.64L427.6,323.8L427.9,319.69L428.5,327.41L428.8,325.12L429.1,323.86L429.4,326.06L430,324.63L430.3,323.49L430.6,324.31L430.9,325.47L431.2,322.77L431.5,324.91L431.8,324.85L432.1,326.26L432.4,325.31L432.7,322.99L433,326.65L433.3,324.16L433.6,322.89L433.9,324.65L434.2,323.66L434.5,325.84L434.8,321.93L435.1,322.27L435.4,323.66L435.7,326.87L436,325.73L436.3,322.47L436.6,321.28L436.9,323.56L437.2,322.03L437.5,325.02L437.8,324.35L438.1,324.04L438.4,323.36L438.7,326.5L439,322.53L439.3,321.91L439.6,325.89L439.9,326.22L440.2,323.48L440.5,325.1L440.8,327.86L441.1,322.74L441.7,324.81L442,320.64L442.3,323.82L442.6,325.26L442.9,323.88L443.2,325.72L443.5,325.27L443.8,323.42L444.1,324.93L444.4,324.77L444.7,321.36L445,322.66L445.3,322.75L445.6,293.72L445.9,274.87L446.2,277.22L446.5,282.76L446.8,282.96L447.1,286.51L447.4,285.83L448,291.13L448.3,295.13L448.6,295.59L448.9,297.77L449.2,299.1L449.5,298.99L449.8,299.72L450.1,302.04L450.4,302.04L451,305.59L451.3,306.49L451.6,307.85L451.9,307.53L452.2,309.56L452.5,307.91L453.1,311.34L453.4,309.62L453.7,312.34L454,311.22L454.3,312.13L454.6,314.87L454.9,314.72L455.2,312.9L455.8,314.62L456.1,313.13L456.4,314.61L456.7,314.41L457,315.69L457.3,315.35L457.6,316.84L457.9,314.55L458.2,314.3L458.5,319.46L458.8,319.8L459.1,324.59L459.4,324.06L459.7,323.09L460,321.49L460.3,324.14L460.6,322.37L460.9,323.21L461.2,324.52L461.5,323.92L461.8,324L462.1,325.52L462.4,322.09L462.7,326.27L463,322.16L463.3,322.51L463.6,324.19L463.9,325.27L464.5,323.28L464.8,322.85L465.1,323.58L465.4,322.45L465.7,324.94L466,323.66L466.3,326.57L466.6,322.81L467.2,324.71L467.5,322.17L467.8,322.93L468.1,328.16L468.4,323.98L468.7,326.38L469,322.33L469.3,320.03L469.6,324.88L469.9,323.92L470.2,324.45L470.5,323.48L470.8,323L471.1,321.97L471.4,325.63L471.7,321.51L472,325.54L472.3,323.6L472.6,322.18L472.9,322.89L473.2,325.55L473.8,324.79L474.1,324.12L474.4,322.2L474.7,326.12L475,323.29L475.3,323.06L475.9,323.29L476.2,321.6L476.5,323.26L476.8,322.66L477.1,323.14L477.4,321.16L477.7,327.1L478,321.98L478.3,324.46L478.6,324.49L479.2,327.05L479.5,324.66L479.8,325.15L480.1,323.25L480.4,326.41L480.7,321.74L481,323.6L481.6,325.18L481.9,306.36L482.2,278.41L482.8,285.31L483.1,284.68L483.4,286.93L484,292.49L484.3,293.14L484.6,293.02L484.9,297.65L485.2,298.64L485.5,300.16L485.8,302.72L486.1,301.33L486.4,303.48L486.7,302.54L487,305.38L487.3,307.01L487.9,308.03L488.2,309.7L488.5,308.11L488.8,310.27L489.4,309.6L489.7,309.07L490,311.04L490.3,312.13L490.6,311.8L490.9,312.55L491.2,310.51L491.5,311.64L491.8,313.38L492.1,313.48L492.4,314.03L492.7,314.36L493,314.9L493.6,318.09L493.9,317.01L494.2,316.85L494.8,320.83L495.1,322.03L495.4,323.8L496,322.93L496.3,327.31L496.6,321.66L496.9,320.37L497.2,322.46L497.5,322.41L497.8,326.31L498.1,324.23L498.4,325.35L498.7,324.99L499,322.49L499.3,325.34L499.6,324.25L499.9,327.12L500.2,324.3L500.5,323.9L500.8,325.18L501.1,325.2L501.4,321.01L501.7,325.99L502,325.73L502.3,325.34L502.6,322.11L502.9,320.66L503.2,323.51L503.5,325.2L503.8,324.73L504.1,322.33L504.4,325.51L504.7,321.7L505,321.76L505.3,323.93L505.6,323L505.9,322.84L506.2,321.54L506.5,325.74L506.8,322.14L507.1,324.65L507.4,325.28L507.7,323.88L508,324.39L508.6,326.61L508.9,325.56L509.2,321.7L509.5,320.88L509.8,323L510.1,322.13L510.4,324.87L511,323.59L511.3,325.78L511.6,325.64L511.9,323.89L512.2,324.56L512.5,325.75L512.8,323.42L513.1,324.47L513.4,322.4L513.7,324.05L514,324.53L514.3,323.84L514.6,324.32L514.9,325.12L515.2,324.69L515.5,322.84L515.8,323L516.1,321.97L516.4,326.77L516.7,324.68L517,324.71L517.3,323.77L517.6,324.77L517.9,324.87L518.2,322.78L518.5,323.76L518.8,325.92L519.1,321.89L519.4,322.44L519.7,324.97L520,322.7L520.3,325.23L520.6,322.23L520.9,324.39L521.2,325.33L521.5,324.64L521.8,307.37L522.1,279.67L522.4,282.52L522.7,286.86L523,286.86L523.3,288.97L523.6,291.9L523.9,292.29L524.2,293.97L524.5,298.91L524.8,296.33L525.1,298.51L525.4,300L525.7,300.85L526,303.85L526.9,307.36L527.5,308.15" stroke="#8c8c8c" stroke-width="1.45" fill="none" stroke-linejoin="round" />
<path d="M528.4,305.18L529.6,314.61L529.9,315.03L530.5,320.47L530.8,321.63L531.1,323.98L531.7,322.41L532,322.52L532.3,323.44L532.6,322.63L532.9,323.85L533.2,322.03L533.5,324.09L533.8,327.38L534.1,321.89L534.7,325.93L535,324.36L535.3,325.47L535.6,320.66L536.2,326.57L536.5,323.16L536.8,324.68L537.1,320.96L537.4,325.74L537.7,327.66L538,323.94L538.3,324.6L538.6,324.71L538.9,327.49L539.2,323.36L539.5,321.35L539.8,327.12L540.1,322.16L540.4,324.96L540.7,320.26L541,323.34L541.3,324.34L541.6,310.31L541.9,274.62L542.2,272.01L542.5,272.01L542.8,275.16L543.1,282.41L543.7,290.86L544,296.48L544.3,283.39L544.6,289.19L544.9,290.9L545.2,293.56L545.5,293.73L545.8,296.97L546.1,298.85L546.4,303.15L546.7,302.72L547,294.2L547.3,293.38L547.6,294.95L547.9,297.11L548.2,295.77L548.5,299.47L548.8,300.91L549.4,305.05L549.7,292.66L550,293.95L550.3,298.82L550.6,296.95L550.9,299.17L551.2,299.99L551.5,302.14L551.8,306.01L552.1,307.35L552.4,304.54L552.7,295.97L553,299.77L553.3,298.7L553.6,301.14L553.9,304.67L554.2,306.74L554.5,307.19L554.8,305.97L555.1,307.85L555.4,297.33L555.7,298L556,298.98L556.3,304.24L556.6,303.12L557.2,307.29L557.5,307.75L557.8,308.58L558.1,297.97L558.4,301.08L558.7,301.13L559,299.02L559.3,304.8L559.6,307.12L559.9,305.77L560.2,306.74L560.5,308.36L560.8,299.79L561.1,298.22L561.4,302.17L561.7,304.1L562.3,305.5L562.6,305.76L562.9,307.31L563.2,309.66L563.5,309.73L563.8,300.13L564.1,300.4L564.4,305.09L564.7,306.76L565,304.85L565.3,309.35L565.6,309.24L565.9,310.38L566.2,312.35L566.5,301.5L566.8,300.31L567.1,307.29L567.4,303.88L567.7,303.31L568,307.96L568.3,309.45L568.6,309.82L568.9,309.68L569.2,303.15L569.5,302.77L569.8,304.58L570.1,304.95L570.4,306.95L570.7,307.67L571,310.63L571.3,311.39L571.6,313.83L571.9,315.25L572.2,303.7L572.5,305.13L572.8,308.02L573.1,305.56L573.7,312.6L574,310.51L574.3,314.55L574.6,314.2L574.9,304.14L575.2,305.19L575.5,306.73L575.8,309.21L576.1,309.77L576.4,308.37L576.7,315.85L577,314.01L577.3,315.01L577.6,318.38L577.9,323.58L578.2,322.08L578.5,325.7L578.8,326.28L579.1,321.75L579.4,321.67L579.7,323.22L580,323.68L580.3,323.77L580.6,325.15L580.9,321.57L581.2,322.98L581.5,323.23L581.8,323.44L582.1,322.36L582.4,323.23L582.7,322.84L583,325.92L583.6,320.52L583.9,324.88L584.2,324.25L584.5,322.61L584.8,322.5L585.1,323.04L585.4,326.65L585.7,323.23L586,325.95L586.3,325.37L586.6,323.16L586.9,324.52L587.2,322.74L587.5,318.97L587.8,322.79L588.1,322.88L588.4,325.48L588.7,325.08L589,325.75L589.3,324.9L589.6,325.8L590.2,324.38L590.5,325.65L591.1,272.01L591.4,274.23L591.7,272.01L592,276.97L592.3,277.07L592.6,285.18L592.9,285.75L593.2,291.57L593.5,295.52L594.1,300.53L594.4,290.11L595,296.29L595.3,298.42L595.6,298.83L595.9,301.58L596.2,306.09L596.5,307.45L596.8,307.9L597.1,298.81L597.4,300.22L597.7,302.77L598.6,305.07L598.9,308.13L599.2,306.85L599.5,311.53L599.8,296.3L600.1,301.03L600.7,306.39L601,311.3L601.3,309.12L601.6,310.26L601.9,309.39L602.2,315.67L602.5,312.61L602.8,305.03L603.1,305.25L603.4,311.47L603.7,309.27L604,311.55L604.3,311.7L604.6,314.13L604.9,317.47L605.2,316.1L605.5,305.82L605.8,307.55L606.1,308.56L606.4,310.03L607,316.7L607.3,318.33L607.6,316.05L607.9,318.55L608.2,308.77L608.5,311.12L608.8,312.05L609.1,317.67L609.4,320.98L609.7,323.47L610,323.15L610.3,323.68L610.6,323.69L611.2,327.51L611.5,324.88L611.8,325.58L612.4,324.48L612.7,326.04L613,325.83L613.3,324.2L613.6,323.86L613.9,325.1L614.2,323.24L614.8,325.68L615.1,323.98L615.4,321.01L615.7,325.13L616,322.16L616.3,321.82L616.6,321.63L616.9,325.37L617.2,320.8L617.5,323.86L617.8,324.45L618.1,324.41L618.4,323.07L618.7,323.96L619,324.33L619.3,321.98L619.6,325.21L619.9,325.72L620.2,322.77L620.5,322.91L620.8,322.28L621.1,325.77L621.4,322.3L621.7,323.27L622,285.97L622.3,272.01L622.6,272.01L622.9,274.69L623.2,276.26L623.5,283.94L623.8,289.5L624.1,294.38L624.4,297.07L624.7,298.19L625,288.8L625.3,292.85L625.6,294.95L626.2,301.1L626.5,299.76L626.8,303.06L627.1,301.98L627.4,308.4L627.7,297.08L628,297.38L628.6,303.98L628.9,305.01L629.2,305.15L629.5,306.42L629.8,308.63L630.1,308.66L630.4,298.01L630.7,300.53L631.3,304.45L631.6,304.86L631.9,305.88L632.2,308.64L632.5,309.62L633.1,315.33L633.4,304.04L633.7,303.06L634,305.04L634.3,304.95L634.6,308.65L634.9,309.03L635.2,309.9L635.5,311.89L635.8,315.69L636.1,304.38L636.4,305.45L637,311.87L637.6,324.12L638.2,321.79L638.5,323.71L638.8,322.81L639.1,324.7L639.4,324.64L639.7,325.11L640,322.47L640.6,324.42L640.9,324.57L641.2,323.15L641.5,323.52L641.8,325.38L642.1,321.28L642.4,323.63L642.7,324.03L643,321.66L643.3,322.39L643.6,324.18L643.9,323.18L644.2,325.77L644.5,325.07L644.8,327.68L645.1,322.08L645.4,327.1L645.7,322.95L646,325.38L646.3,325.62L646.6,324.36L647.2,323.06L647.5,321.19L647.8,323.47L648.1,322.62L648.4,325.01L648.7,322.89L649.3,324.79L649.6,324.2L649.9,324.14L650.5,323.4L650.8,324.86L651.1,325.24L651.4,322.84L651.7,326.77L652,325.04L652.3,321.54L652.6,328.16L652.9,325.16L653.2,322.94L653.5,326.7L653.8,319.86L654.1,328.16L654.4,321.73L654.7,321.54L655.3,272.01L655.9,272.01L656.2,276.17L656.5,277.66L656.8,285.24L657.7,296.33L658,297.59L658.3,288.53L658.6,288.63L658.9,292.39L659.2,294.61L659.8,301.31L660.1,301.27L660.4,304.12L660.7,303.29L661,306.36L661.3,293.36L661.6,296.28L661.9,297.72L662.2,300.14L662.5,301.72L663.1,303.75L663.4,307.57L663.7,307.36L664,293.6L664.3,298.92L664.9,302.73L665.2,305.27L665.5,303L665.8,306.06L666.1,307.19L666.4,306.46L666.7,294.74L667,301.02" stroke="#8c8c8c" stroke-width="1.45" fill="none" stroke-linejoin="round" />
<text x="-0.5" y="358.3" font-size="12.5" text-anchor="start" fill="#000" stroke="#000" >(f)</text>
<g clip-path="url(#photoclip)"><g filter="url(#blur05)">
<rect x="31.6" y="365" width="159.4" height="157.2" fill="#737279" stroke="none" stroke-width="1" />
<rect x="62" y="386" width="101" height="101" fill="#54472f" stroke="none" stroke-width="1" />
<path d="M66.8,386V487M77.6,386V487M78.05,386V487M88.85,386V487M89.3,386V487M100.1,386V487M100.55,386V487M111.35,386V487M111.8,386V487M122.6,386V487M123.05,386V487M133.85,386V487M134.3,386V487M145.1,386V487M145.55,386V487M156.35,386V487" stroke="#5f8f3e" stroke-width="1" fill="none" stroke-linejoin="round" />
<path d="M65.3,386V487M76.55,386V487M87.8,386V487M99.05,386V487M110.3,386V487M121.55,386V487M132.8,386V487M144.05,386V487" stroke="#7aa85a" stroke-width="0.6" fill="none" stroke-linejoin="round" />
<rect x="67.9" y="388.4" width="8.8" height="8.2" fill="#b0d48e" stroke="none" stroke-width="1" />
<rect x="69.1" y="389.3" width="6.6" height="6.4" fill="#dcd4d8" stroke="none" stroke-width="1" />
<rect x="70.3" y="390.3" width="4" height="4.2" fill="#efe8ee" stroke="none" stroke-width="1" />
<path d="M70.7,391.9h3M72.9,390.7v3.6M70.5,393.9h2" stroke="#8a6a9a" stroke-width="0.6" fill="none" stroke-linejoin="round" />
<rect x="67.9" y="396.6" width="8.8" height="2.2" fill="#3f3020" stroke="none" stroke-width="1" />
<rect x="79.15" y="388.4" width="8.8" height="8.2" fill="#b0d48e" stroke="none" stroke-width="1" />
<rect x="80.35" y="389.3" width="6.6" height="6.4" fill="#dcd4d8" stroke="none" stroke-width="1" />
<rect x="81.55" y="390.3" width="4" height="4.2" fill="#efe8ee" stroke="none" stroke-width="1" />
<path d="M81.95,391.9h3M84.15,390.7v3.6M81.75,393.9h2" stroke="#8a6a9a" stroke-width="0.6" fill="none" stroke-linejoin="round" />
<rect x="79.15" y="396.6" width="8.8" height="2.2" fill="#3f3020" stroke="none" stroke-width="1" />
<rect x="90.4" y="388.4" width="8.8" height="8.2" fill="#b0d48e" stroke="none" stroke-width="1" />
<rect x="91.6" y="389.3" width="6.6" height="6.4" fill="#dcd4d8" stroke="none" stroke-width="1" />
<rect x="92.8" y="390.3" width="4" height="4.2" fill="#efe8ee" stroke="none" stroke-width="1" />
<path d="M93.2,391.9h3M95.4,390.7v3.6M93,393.9h2" stroke="#8a6a9a" stroke-width="0.6" fill="none" stroke-linejoin="round" />
<rect x="90.4" y="396.6" width="8.8" height="2.2" fill="#3f3020" stroke="none" stroke-width="1" />
<rect x="101.65" y="388.4" width="8.8" height="8.2" fill="#b0d48e" stroke="none" stroke-width="1" />
<rect x="102.85" y="389.3" width="6.6" height="6.4" fill="#dcd4d8" stroke="none" stroke-width="1" />
<rect x="104.05" y="390.3" width="4" height="4.2" fill="#efe8ee" stroke="none" stroke-width="1" />
<path d="M104.45,391.9h3M106.65,390.7v3.6M104.25,393.9h2" stroke="#8a6a9a" stroke-width="0.6" fill="none" stroke-linejoin="round" />
<rect x="101.65" y="396.6" width="8.8" height="2.2" fill="#3f3020" stroke="none" stroke-width="1" />
<rect x="112.9" y="388.4" width="8.8" height="8.2" fill="#b0d48e" stroke="none" stroke-width="1" />
<rect x="114.1" y="389.3" width="6.6" height="6.4" fill="#dcd4d8" stroke="none" stroke-width="1" />
<rect x="115.3" y="390.3" width="4" height="4.2" fill="#efe8ee" stroke="none" stroke-width="1" />
<path d="M115.7,391.9h3M117.9,390.7v3.6M115.5,393.9h2" stroke="#8a6a9a" stroke-width="0.6" fill="none" stroke-linejoin="round" />
<rect x="112.9" y="396.6" width="8.8" height="2.2" fill="#3f3020" stroke="none" stroke-width="1" />
<rect x="124.15" y="388.4" width="8.8" height="8.2" fill="#b0d48e" stroke="none" stroke-width="1" />
<rect x="125.35" y="389.3" width="6.6" height="6.4" fill="#dcd4d8" stroke="none" stroke-width="1" />
<rect x="126.55" y="390.3" width="4" height="4.2" fill="#efe8ee" stroke="none" stroke-width="1" />
<path d="M126.95,391.9h3M129.15,390.7v3.6M126.75,393.9h2" stroke="#8a6a9a" stroke-width="0.6" fill="none" stroke-linejoin="round" />
<rect x="124.15" y="396.6" width="8.8" height="2.2" fill="#3f3020" stroke="none" stroke-width="1" />
<rect x="135.4" y="388.4" width="8.8" height="8.2" fill="#b0d48e" stroke="none" stroke-width="1" />
<rect x="136.6" y="389.3" width="6.6" height="6.4" fill="#dcd4d8" stroke="none" stroke-width="1" />
<rect x="137.8" y="390.3" width="4" height="4.2" fill="#efe8ee" stroke="none" stroke-width="1" />
<path d="M138.2,391.9h3M140.4,390.7v3.6M138,393.9h2" stroke="#8a6a9a" stroke-width="0.6" fill="none" stroke-linejoin="round" />
<rect x="135.4" y="396.6" width="8.8" height="2.2" fill="#3f3020" stroke="none" stroke-width="1" />
<rect x="146.65" y="388.4" width="8.8" height="8.2" fill="#b0d48e" stroke="none" stroke-width="1" />
<rect x="147.85" y="389.3" width="6.6" height="6.4" fill="#dcd4d8" stroke="none" stroke-width="1" />
<rect x="149.05" y="390.3" width="4" height="4.2" fill="#efe8ee" stroke="none" stroke-width="1" />
<path d="M149.45,391.9h3M151.65,390.7v3.6M149.25,393.9h2" stroke="#8a6a9a" stroke-width="0.6" fill="none" stroke-linejoin="round" />
<rect x="146.65" y="396.6" width="8.8" height="2.2" fill="#3f3020" stroke="none" stroke-width="1" />
<rect x="67.9" y="400.7" width="8.8" height="8.2" fill="#b0d48e" stroke="none" stroke-width="1" />
<rect x="69.1" y="401.6" width="6.6" height="6.4" fill="#dcd4d8" stroke="none" stroke-width="1" />
<rect x="70.3" y="402.6" width="4" height="4.2" fill="#efe8ee" stroke="none" stroke-width="1" />
<path d="M70.7,404.2h3M72.9,403v3.6M70.5,406.2h2" stroke="#8a6a9a" stroke-width="0.6" fill="none" stroke-linejoin="round" />
<rect x="67.9" y="408.9" width="8.8" height="2.2" fill="#3f3020" stroke="none" stroke-width="1" />
<rect x="79.15" y="400.7" width="8.8" height="8.2" fill="#b0d48e" stroke="none" stroke-width="1" />
<rect x="80.35" y="401.6" width="6.6" height="6.4" fill="#dcd4d8" stroke="none" stroke-width="1" />
<rect x="81.55" y="402.6" width="4" height="4.2" fill="#efe8ee" stroke="none" stroke-width="1" />
<path d="M81.95,404.2h3M84.15,403v3.6M81.75,406.2h2" stroke="#8a6a9a" stroke-width="0.6" fill="none" stroke-linejoin="round" />
<rect x="79.15" y="408.9" width="8.8" height="2.2" fill="#3f3020" stroke="none" stroke-width="1" />
<rect x="90.4" y="400.7" width="8.8" height="8.2" fill="#b0d48e" stroke="none" stroke-width="1" />
<rect x="91.6" y="401.6" width="6.6" height="6.4" fill="#dcd4d8" stroke="none" stroke-width="1" />
<rect x="92.8" y="402.6" width="4" height="4.2" fill="#efe8ee" stroke="none" stroke-width="1" />
<path d="M93.2,404.2h3M95.4,403v3.6M93,406.2h2" stroke="#8a6a9a" stroke-width="0.6" fill="none" stroke-linejoin="round" />
<rect x="90.4" y="408.9" width="8.8" height="2.2" fill="#3f3020" stroke="none" stroke-width="1" />
<rect x="101.65" y="400.7" width="8.8" height="8.2" fill="#b0d48e" stroke="none" stroke-width="1" />
<rect x="102.85" y="401.6" width="6.6" height="6.4" fill="#dcd4d8" stroke="none" stroke-width="1" />
<rect x="104.05" y="402.6" width="4" height="4.2" fill="#efe8ee" stroke="none" stroke-width="1" />
<path d="M104.45,404.2h3M106.65,403v3.6M104.25,406.2h2" stroke="#8a6a9a" stroke-width="0.6" fill="none" stroke-linejoin="round" />
<rect x="101.65" y="408.9" width="8.8" height="2.2" fill="#3f3020" stroke="none" stroke-width="1" />
<rect x="112.9" y="400.7" width="8.8" height="8.2" fill="#b0d48e" stroke="none" stroke-width="1" />
<rect x="114.1" y="401.6" width="6.6" height="6.4" fill="#dcd4d8" stroke="none" stroke-width="1" />
<rect x="115.3" y="402.6" width="4" height="4.2" fill="#efe8ee" stroke="none" stroke-width="1" />
<path d="M115.7,404.2h3M117.9,403v3.6M115.5,406.2h2" stroke="#8a6a9a" stroke-width="0.6" fill="none" stroke-linejoin="round" />
<rect x="112.9" y="408.9" width="8.8" height="2.2" fill="#3f3020" stroke="none" stroke-width="1" />
<rect x="124.15" y="400.7" width="8.8" height="8.2" fill="#b0d48e" stroke="none" stroke-width="1" />
<rect x="125.35" y="401.6" width="6.6" height="6.4" fill="#dcd4d8" stroke="none" stroke-width="1" />
<rect x="126.55" y="402.6" width="4" height="4.2" fill="#efe8ee" stroke="none" stroke-width="1" />
<path d="M126.95,404.2h3M129.15,403v3.6M126.75,406.2h2" stroke="#8a6a9a" stroke-width="0.6" fill="none" stroke-linejoin="round" />
<rect x="124.15" y="408.9" width="8.8" height="2.2" fill="#3f3020" stroke="none" stroke-width="1" />
<rect x="135.4" y="400.7" width="8.8" height="8.2" fill="#b0d48e" stroke="none" stroke-width="1" />
<rect x="136.6" y="401.6" width="6.6" height="6.4" fill="#dcd4d8" stroke="none" stroke-width="1" />
<rect x="137.8" y="402.6" width="4" height="4.2" fill="#efe8ee" stroke="none" stroke-width="1" />
<path d="M138.2,404.2h3M140.4,403v3.6M138,406.2h2" stroke="#8a6a9a" stroke-width="0.6" fill="none" stroke-linejoin="round" />
<rect x="135.4" y="408.9" width="8.8" height="2.2" fill="#3f3020" stroke="none" stroke-width="1" />
<rect x="146.65" y="400.7" width="8.8" height="8.2" fill="#b0d48e" stroke="none" stroke-width="1" />
<rect x="147.85" y="401.6" width="6.6" height="6.4" fill="#dcd4d8" stroke="none" stroke-width="1" />
<rect x="149.05" y="402.6" width="4" height="4.2" fill="#efe8ee" stroke="none" stroke-width="1" />
<path d="M149.45,404.2h3M151.65,403v3.6M149.25,406.2h2" stroke="#8a6a9a" stroke-width="0.6" fill="none" stroke-linejoin="round" />
<rect x="146.65" y="408.9" width="8.8" height="2.2" fill="#3f3020" stroke="none" stroke-width="1" />
<rect x="67.9" y="413" width="8.8" height="8.2" fill="#b0d48e" stroke="none" stroke-width="1" />
<rect x="69.1" y="413.9" width="6.6" height="6.4" fill="#dcd4d8" stroke="none" stroke-width="1" />
<rect x="70.3" y="414.9" width="4" height="4.2" fill="#efe8ee" stroke="none" stroke-width="1" />
<path d="M70.7,416.5h3M72.9,415.3v3.6M70.5,418.5h2" stroke="#8a6a9a" stroke-width="0.6" fill="none" stroke-linejoin="round" />
<rect x="67.9" y="421.2" width="8.8" height="2.2" fill="#3f3020" stroke="none" stroke-width="1" />
<rect x="79.15" y="413" width="8.8" height="8.2" fill="#b0d48e" stroke="none" stroke-width="1" />
<rect x="80.35" y="413.9" width="6.6" height="6.4" fill="#dcd4d8" stroke="none" stroke-width="1" />
<rect x="81.55" y="414.9" width="4" height="4.2" fill="#efe8ee" stroke="none" stroke-width="1" />
<path d="M81.95,416.5h3M84.15,415.3v3.6M81.75,418.5h2" stroke="#8a6a9a" stroke-width="0.6" fill="none" stroke-linejoin="round" />
<rect x="79.15" y="421.2" width="8.8" height="2.2" fill="#3f3020" stroke="none" stroke-width="1" />
<rect x="90.4" y="413" width="8.8" height="8.2" fill="#b0d48e" stroke="none" stroke-width="1" />
<rect x="91.6" y="413.9" width="6.6" height="6.4" fill="#dcd4d8" stroke="none" stroke-width="1" />
<rect x="92.8" y="414.9" width="4" height="4.2" fill="#efe8ee" stroke="none" stroke-width="1" />
<path d="M93.2,416.5h3M95.4,415.3v3.6M93,418.5h2" stroke="#8a6a9a" stroke-width="0.6" fill="none" stroke-linejoin="round" />
<rect x="90.4" y="421.2" width="8.8" height="2.2" fill="#3f3020" stroke="none" stroke-width="1" />
<rect x="101.65" y="413" width="8.8" height="8.2" fill="#b0d48e" stroke="none" stroke-width="1" />
<rect x="102.85" y="413.9" width="6.6" height="6.4" fill="#dcd4d8" stroke="none" stroke-width="1" />
<rect x="104.05" y="414.9" width="4" height="4.2" fill="#efe8ee" stroke="none" stroke-width="1" />
<path d="M104.45,416.5h3M106.65,415.3v3.6M104.25,418.5h2" stroke="#8a6a9a" stroke-width="0.6" fill="none" stroke-linejoin="round" />
<rect x="101.65" y="421.2" width="8.8" height="2.2" fill="#3f3020" stroke="none" stroke-width="1" />
<rect x="112.9" y="413" width="8.8" height="8.2" fill="#b0d48e" stroke="none" stroke-width="1" />
<rect x="114.1" y="413.9" width="6.6" height="6.4" fill="#dcd4d8" stroke="none" stroke-width="1" />
<rect x="115.3" y="414.9" width="4" height="4.2" fill="#efe8ee" stroke="none" stroke-width="1" />
<path d="M115.7,416.5h3M117.9,415.3v3.6M115.5,418.5h2" stroke="#8a6a9a" stroke-width="0.6" fill="none" stroke-linejoin="round" />
<rect x="112.9" y="421.2" width="8.8" height="2.2" fill="#3f3020" stroke="none" stroke-width="1" />
<rect x="124.15" y="413" width="8.8" height="8.2" fill="#b0d48e" stroke="none" stroke-width="1" />
<rect x="125.35" y="413.9" width="6.6" height="6.4" fill="#dcd4d8" stroke="none" stroke-width="1" />
<rect x="126.55" y="414.9" width="4" height="4.2" fill="#efe8ee" stroke="none" stroke-width="1" />
<path d="M126.95,416.5h3M129.15,415.3v3.6M126.75,418.5h2" stroke="#8a6a9a" stroke-width="0.6" fill="none" stroke-linejoin="round" />
<rect x="124.15" y="421.2" width="8.8" height="2.2" fill="#3f3020" stroke="none" stroke-width="1" />
<rect x="135.4" y="413" width="8.8" height="8.2" fill="#b0d48e" stroke="none" stroke-width="1" />
<rect x="136.6" y="413.9" width="6.6" height="6.4" fill="#dcd4d8" stroke="none" stroke-width="1" />
<rect x="137.8" y="414.9" width="4" height="4.2" fill="#efe8ee" stroke="none" stroke-width="1" />
<path d="M138.2,416.5h3M140.4,415.3v3.6M138,418.5h2" stroke="#8a6a9a" stroke-width="0.6" fill="none" stroke-linejoin="round" />
<rect x="135.4" y="421.2" width="8.8" height="2.2" fill="#3f3020" stroke="none" stroke-width="1" />
<rect x="146.65" y="413" width="8.8" height="8.2" fill="#b0d48e" stroke="none" stroke-width="1" />
<rect x="147.85" y="413.9" width="6.6" height="6.4" fill="#dcd4d8" stroke="none" stroke-width="1" />
<rect x="149.05" y="414.9" width="4" height="4.2" fill="#efe8ee" stroke="none" stroke-width="1" />
<path d="M149.45,416.5h3M151.65,415.3v3.6M149.25,418.5h2" stroke="#8a6a9a" stroke-width="0.6" fill="none" stroke-linejoin="round" />
<rect x="146.65" y="421.2" width="8.8" height="2.2" fill="#3f3020" stroke="none" stroke-width="1" />
<rect x="67.9" y="425.3" width="8.8" height="8.2" fill="#b0d48e" stroke="none" stroke-width="1" />
<rect x="69.1" y="426.2" width="6.6" height="6.4" fill="#dcd4d8" stroke="none" stroke-width="1" />
<rect x="70.3" y="427.2" width="4" height="4.2" fill="#efe8ee" stroke="none" stroke-width="1" />
<path d="M70.7,428.8h3M72.9,427.6v3.6M70.5,430.8h2" stroke="#8a6a9a" stroke-width="0.6" fill="none" stroke-linejoin="round" />
<rect x="67.9" y="433.5" width="8.8" height="2.2" fill="#3f3020" stroke="none" stroke-width="1" />
<rect x="79.15" y="425.3" width="8.8" height="8.2" fill="#b0d48e" stroke="none" stroke-width="1" />
<rect x="80.35" y="426.2" width="6.6" height="6.4" fill="#dcd4d8" stroke="none" stroke-width="1" />
<rect x="81.55" y="427.2" width="4" height="4.2" fill="#efe8ee" stroke="none" stroke-width="1" />
<path d="M81.95,428.8h3M84.15,427.6v3.6M81.75,430.8h2" stroke="#8a6a9a" stroke-width="0.6" fill="none" stroke-linejoin="round" />
<rect x="79.15" y="433.5" width="8.8" height="2.2" fill="#3f3020" stroke="none" stroke-width="1" />
<rect x="90.4" y="425.3" width="8.8" height="8.2" fill="#b0d48e" stroke="none" stroke-width="1" />
<rect x="91.6" y="426.2" width="6.6" height="6.4" fill="#dcd4d8" stroke="none" stroke-width="1" />
<rect x="92.8" y="427.2" width="4" height="4.2" fill="#efe8ee" stroke="none" stroke-width="1" />
<path d="M93.2,428.8h3M95.4,427.6v3.6M93,430.8h2" stroke="#8a6a9a" stroke-width="0.6" fill="none" stroke-linejoin="round" />
<rect x="90.4" y="433.5" width="8.8" height="2.2" fill="#3f3020" stroke="none" stroke-width="1" />
<rect x="101.65" y="425.3" width="8.8" height="8.2" fill="#b0d48e" stroke="none" stroke-width="1" />
<rect x="102.85" y="426.2" width="6.6" height="6.4" fill="#dcd4d8" stroke="none" stroke-width="1" />
<rect x="104.05" y="427.2" width="4" height="4.2" fill="#efe8ee" stroke="none" stroke-width="1" />
<path d="M104.45,428.8h3M106.65,427.6v3.6M104.25,430.8h2" stroke="#8a6a9a" stroke-width="0.6" fill="none" stroke-linejoin="round" />
<rect x="101.65" y="433.5" width="8.8" height="2.2" fill="#3f3020" stroke="none" stroke-width="1" />
<rect x="112.9" y="425.3" width="8.8" height="8.2" fill="#b0d48e" stroke="none" stroke-width="1" />
<rect x="114.1" y="426.2" width="6.6" height="6.4" fill="#dcd4d8" stroke="none" stroke-width="1" />
<rect x="115.3" y="427.2" width="4" height="4.2" fill="#efe8ee" stroke="none" stroke-width="1" />
<path d="M115.7,428.8h3M117.9,427.6v3.6M115.5,430.8h2" stroke="#8a6a9a" stroke-width="0.6" fill="none" stroke-linejoin="round" />
<rect x="112.9" y="433.5" width="8.8" height="2.2" fill="#3f3020" stroke="none" stroke-width="1" />
<rect x="124.15" y="425.3" width="8.8" height="8.2" fill="#b0d48e" stroke="none" stroke-width="1" />
<rect x="125.35" y="426.2" width="6.6" height="6.4" fill="#dcd4d8" stroke="none" stroke-width="1" />
<rect x="126.55" y="427.2" width="4" height="4.2" fill="#efe8ee" stroke="none" stroke-width="1" />
<path d="M126.95,428.8h3M129.15,427.6v3.6M126.75,430.8h2" stroke="#8a6a9a" stroke-width="0.6" fill="none" stroke-linejoin="round" />
<rect x="124.15" y="433.5" width="8.8" height="2.2" fill="#3f3020" stroke="none" stroke-width="1" />
<rect x="135.4" y="425.3" width="8.8" height="8.2" fill="#b0d48e" stroke="none" stroke-width="1" />
<rect x="136.6" y="426.2" width="6.6" height="6.4" fill="#dcd4d8" stroke="none" stroke-width="1" />
<rect x="137.8" y="427.2" width="4" height="4.2" fill="#efe8ee" stroke="none" stroke-width="1" />
<path d="M138.2,428.8h3M140.4,427.6v3.6M138,430.8h2" stroke="#8a6a9a" stroke-width="0.6" fill="none" stroke-linejoin="round" />
<rect x="135.4" y="433.5" width="8.8" height="2.2" fill="#3f3020" stroke="none" stroke-width="1" />
<rect x="146.65" y="425.3" width="8.8" height="8.2" fill="#b0d48e" stroke="none" stroke-width="1" />
<rect x="147.85" y="426.2" width="6.6" height="6.4" fill="#dcd4d8" stroke="none" stroke-width="1" />
<rect x="149.05" y="427.2" width="4" height="4.2" fill="#efe8ee" stroke="none" stroke-width="1" />
<path d="M149.45,428.8h3M151.65,427.6v3.6M149.25,430.8h2" stroke="#8a6a9a" stroke-width="0.6" fill="none" stroke-linejoin="round" />
<rect x="146.65" y="433.5" width="8.8" height="2.2" fill="#3f3020" stroke="none" stroke-width="1" />
<rect x="67.9" y="437.6" width="8.8" height="8.2" fill="#b0d48e" stroke="none" stroke-width="1" />
<rect x="69.1" y="438.5" width="6.6" height="6.4" fill="#dcd4d8" stroke="none" stroke-width="1" />
<rect x="70.3" y="439.5" width="4" height="4.2" fill="#efe8ee" stroke="none" stroke-width="1" />
<path d="M70.7,441.1h3M72.9,439.9v3.6M70.5,443.1h2" stroke="#8a6a9a" stroke-width="0.6" fill="none" stroke-linejoin="round" />
<rect x="67.9" y="445.8" width="8.8" height="2.2" fill="#3f3020" stroke="none" stroke-width="1" />
<rect x="79.15" y="437.6" width="8.8" height="8.2" fill="#b0d48e" stroke="none" stroke-width="1" />
<rect x="80.35" y="438.5" width="6.6" height="6.4" fill="#dcd4d8" stroke="none" stroke-width="1" />
<rect x="81.55" y="439.5" width="4" height="4.2" fill="#efe8ee" stroke="none" stroke-width="1" />
<path d="M81.95,441.1h3M84.15,439.9v3.6M81.75,443.1h2" stroke="#8a6a9a" stroke-width="0.6" fill="none" stroke-linejoin="round" />
<rect x="79.15" y="445.8" width="8.8" height="2.2" fill="#3f3020" stroke="none" stroke-width="1" />
<rect x="90.4" y="437.6" width="8.8" height="8.2" fill="#b0d48e" stroke="none" stroke-width="1" />
<rect x="91.6" y="438.5" width="6.6" height="6.4" fill="#dcd4d8" stroke="none" stroke-width="1" />
<rect x="92.8" y="439.5" width="4" height="4.2" fill="#efe8ee" stroke="none" stroke-width="1" />
<path d="M93.2,441.1h3M95.4,439.9v3.6M93,443.1h2" stroke="#8a6a9a" stroke-width="0.6" fill="none" stroke-linejoin="round" />
<rect x="90.4" y="445.8" width="8.8" height="2.2" fill="#3f3020" stroke="none" stroke-width="1" />
<rect x="101.65" y="437.6" width="8.8" height="8.2" fill="#b0d48e" stroke="none" stroke-width="1" />
<rect x="102.85" y="438.5" width="6.6" height="6.4" fill="#dcd4d8" stroke="none" stroke-width="1" />
<rect x="104.05" y="439.5" width="4" height="4.2" fill="#efe8ee" stroke="none" stroke-width="1" />
<path d="M104.45,441.1h3M106.65,439.9v3.6M104.25,443.1h2" stroke="#8a6a9a" stroke-width="0.6" fill="none" stroke-linejoin="round" />
<rect x="101.65" y="445.8" width="8.8" height="2.2" fill="#3f3020" stroke="none" stroke-width="1" />
<rect x="112.9" y="437.6" width="8.8" height="8.2" fill="#b0d48e" stroke="none" stroke-width="1" />
<rect x="114.1" y="438.5" width="6.6" height="6.4" fill="#dcd4d8" stroke="none" stroke-width="1" />
<rect x="115.3" y="439.5" width="4" height="4.2" fill="#efe8ee" stroke="none" stroke-width="1" />
<path d="M115.7,441.1h3M117.9,439.9v3.6M115.5,443.1h2" stroke="#8a6a9a" stroke-width="0.6" fill="none" stroke-linejoin="round" />
<rect x="112.9" y="445.8" width="8.8" height="2.2" fill="#3f3020" stroke="none" stroke-width="1" />
<rect x="124.15" y="437.6" width="8.8" height="8.2" fill="#b0d48e" stroke="none" stroke-width="1" />
<rect x="125.35" y="438.5" width="6.6" height="6.4" fill="#dcd4d8" stroke="none" stroke-width="1" />
<rect x="126.55" y="439.5" width="4" height="4.2" fill="#efe8ee" stroke="none" stroke-width="1" />
<path d="M126.95,441.1h3M129.15,439.9v3.6M126.75,443.1h2" stroke="#8a6a9a" stroke-width="0.6" fill="none" stroke-linejoin="round" />
<rect x="124.15" y="445.8" width="8.8" height="2.2" fill="#3f3020" stroke="none" stroke-width="1" />
<rect x="135.4" y="437.6" width="8.8" height="8.2" fill="#b0d48e" stroke="none" stroke-width="1" />
<rect x="136.6" y="438.5" width="6.6" height="6.4" fill="#dcd4d8" stroke="none" stroke-width="1" />
<rect x="137.8" y="439.5" width="4" height="4.2" fill="#efe8ee" stroke="none" stroke-width="1" />
<path d="M138.2,441.1h3M140.4,439.9v3.6M138,443.1h2" stroke="#8a6a9a" stroke-width="0.6" fill="none" stroke-linejoin="round" />
<rect x="135.4" y="445.8" width="8.8" height="2.2" fill="#3f3020" stroke="none" stroke-width="1" />
<rect x="146.65" y="437.6" width="8.8" height="8.2" fill="#b0d48e" stroke="none" stroke-width="1" />
<rect x="147.85" y="438.5" width="6.6" height="6.4" fill="#dcd4d8" stroke="none" stroke-width="1" />
<rect x="149.05" y="439.5" width="4" height="4.2" fill="#efe8ee" stroke="none" stroke-width="1" />
<path d="M149.45,441.1h3M151.65,439.9v3.6M149.25,443.1h2" stroke="#8a6a9a" stroke-width="0.6" fill="none" stroke-linejoin="round" />
<rect x="146.65" y="445.8" width="8.8" height="2.2" fill="#3f3020" stroke="none" stroke-width="1" />
<rect x="67.9" y="449.9" width="8.8" height="8.2" fill="#b0d48e" stroke="none" stroke-width="1" />
<rect x="69.1" y="450.8" width="6.6" height="6.4" fill="#dcd4d8" stroke="none" stroke-width="1" />
<rect x="70.3" y="451.8" width="4" height="4.2" fill="#efe8ee" stroke="none" stroke-width="1" />
<path d="M70.7,453.4h3M72.9,452.2v3.6M70.5,455.4h2" stroke="#8a6a9a" stroke-width="0.6" fill="none" stroke-linejoin="round" />
<rect x="67.9" y="458.1" width="8.8" height="2.2" fill="#3f3020" stroke="none" stroke-width="1" />
<rect x="79.15" y="449.9" width="8.8" height="8.2" fill="#b0d48e" stroke="none" stroke-width="1" />
<rect x="80.35" y="450.8" width="6.6" height="6.4" fill="#dcd4d8" stroke="none" stroke-width="1" />
<rect x="81.55" y="451.8" width="4" height="4.2" fill="#efe8ee" stroke="none" stroke-width="1" />
<path d="M81.95,453.4h3M84.15,452.2v3.6M81.75,455.4h2" stroke="#8a6a9a" stroke-width="0.6" fill="none" stroke-linejoin="round" />
<rect x="79.15" y="458.1" width="8.8" height="2.2" fill="#3f3020" stroke="none" stroke-width="1" />
<rect x="90.4" y="449.9" width="8.8" height="8.2" fill="#b0d48e" stroke="none" stroke-width="1" />
<rect x="91.6" y="450.8" width="6.6" height="6.4" fill="#dcd4d8" stroke="none" stroke-width="1" />
<rect x="92.8" y="451.8" width="4" height="4.2" fill="#efe8ee" stroke="none" stroke-width="1" />
<path d="M93.2,453.4h3M95.4,452.2v3.6M93,455.4h2" stroke="#8a6a9a" stroke-width="0.6" fill="none" stroke-linejoin="round" />
<rect x="90.4" y="458.1" width="8.8" height="2.2" fill="#3f3020" stroke="none" stroke-width="1" />
<rect x="101.65" y="449.9" width="8.8" height="8.2" fill="#b0d48e" stroke="none" stroke-width="1" />
<rect x="102.85" y="450.8" width="6.6" height="6.4" fill="#dcd4d8" stroke="none" stroke-width="1" />
<rect x="104.05" y="451.8" width="4" height="4.2" fill="#efe8ee" stroke="none" stroke-width="1" />
<path d="M104.45,453.4h3M106.65,452.2v3.6M104.25,455.4h2" stroke="#8a6a9a" stroke-width="0.6" fill="none" stroke-linejoin="round" />
<rect x="101.65" y="458.1" width="8.8" height="2.2" fill="#3f3020" stroke="none" stroke-width="1" />
<rect x="112.9" y="449.9" width="8.8" height="8.2" fill="#b0d48e" stroke="none" stroke-width="1" />
<rect x="114.1" y="450.8" width="6.6" height="6.4" fill="#dcd4d8" stroke="none" stroke-width="1" />
<rect x="115.3" y="451.8" width="4" height="4.2" fill="#efe8ee" stroke="none" stroke-width="1" />
<path d="M115.7,453.4h3M117.9,452.2v3.6M115.5,455.4h2" stroke="#8a6a9a" stroke-width="0.6" fill="none" stroke-linejoin="round" />
<rect x="112.9" y="458.1" width="8.8" height="2.2" fill="#3f3020" stroke="none" stroke-width="1" />
<rect x="124.15" y="449.9" width="8.8" height="8.2" fill="#b0d48e" stroke="none" stroke-width="1" />
<rect x="125.35" y="450.8" width="6.6" height="6.4" fill="#dcd4d8" stroke="none" stroke-width="1" />
<rect x="126.55" y="451.8" width="4" height="4.2" fill="#efe8ee" stroke="none" stroke-width="1" />
<path d="M126.95,453.4h3M129.15,452.2v3.6M126.75,455.4h2" stroke="#8a6a9a" stroke-width="0.6" fill="none" stroke-linejoin="round" />
<rect x="124.15" y="458.1" width="8.8" height="2.2" fill="#3f3020" stroke="none" stroke-width="1" />
<rect x="135.4" y="449.9" width="8.8" height="8.2" fill="#b0d48e" stroke="none" stroke-width="1" />
<rect x="136.6" y="450.8" width="6.6" height="6.4" fill="#dcd4d8" stroke="none" stroke-width="1" />
<rect x="137.8" y="451.8" width="4" height="4.2" fill="#efe8ee" stroke="none" stroke-width="1" />
<path d="M138.2,453.4h3M140.4,452.2v3.6M138,455.4h2" stroke="#8a6a9a" stroke-width="0.6" fill="none" stroke-linejoin="round" />
<rect x="135.4" y="458.1" width="8.8" height="2.2" fill="#3f3020" stroke="none" stroke-width="1" />
<rect x="146.65" y="449.9" width="8.8" height="8.2" fill="#b0d48e" stroke="none" stroke-width="1" />
<rect x="147.85" y="450.8" width="6.6" height="6.4" fill="#dcd4d8" stroke="none" stroke-width="1" />
<rect x="149.05" y="451.8" width="4" height="4.2" fill="#efe8ee" stroke="none" stroke-width="1" />
<path d="M149.45,453.4h3M151.65,452.2v3.6M149.25,455.4h2" stroke="#8a6a9a" stroke-width="0.6" fill="none" stroke-linejoin="round" />
<rect x="146.65" y="458.1" width="8.8" height="2.2" fill="#3f3020" stroke="none" stroke-width="1" />
<rect x="67.9" y="462.2" width="8.8" height="8.2" fill="#b0d48e" stroke="none" stroke-width="1" />
<rect x="69.1" y="463.1" width="6.6" height="6.4" fill="#dcd4d8" stroke="none" stroke-width="1" />
<rect x="70.3" y="464.1" width="4" height="4.2" fill="#efe8ee" stroke="none" stroke-width="1" />
<path d="M70.7,465.7h3M72.9,464.5v3.6M70.5,467.7h2" stroke="#8a6a9a" stroke-width="0.6" fill="none" stroke-linejoin="round" />
<rect x="67.9" y="470.4" width="8.8" height="2.2" fill="#3f3020" stroke="none" stroke-width="1" />
<rect x="79.15" y="462.2" width="8.8" height="8.2" fill="#b0d48e" stroke="none" stroke-width="1" />
<rect x="80.35" y="463.1" width="6.6" height="6.4" fill="#dcd4d8" stroke="none" stroke-width="1" />
<rect x="81.55" y="464.1" width="4" height="4.2" fill="#efe8ee" stroke="none" stroke-width="1" />
<path d="M81.95,465.7h3M84.15,464.5v3.6M81.75,467.7h2" stroke="#8a6a9a" stroke-width="0.6" fill="none" stroke-linejoin="round" />
<rect x="79.15" y="470.4" width="8.8" height="2.2" fill="#3f3020" stroke="none" stroke-width="1" />
<rect x="90.4" y="462.2" width="8.8" height="8.2" fill="#b0d48e" stroke="none" stroke-width="1" />
<rect x="91.6" y="463.1" width="6.6" height="6.4" fill="#dcd4d8" stroke="none" stroke-width="1" />
<rect x="92.8" y="464.1" width="4" height="4.2" fill="#efe8ee" stroke="none" stroke-width="1" />
<path d="M93.2,465.7h3M95.4,464.5v3.6M93,467.7h2" stroke="#8a6a9a" stroke-width="0.6" fill="none" stroke-linejoin="round" />
<rect x="90.4" y="470.4" width="8.8" height="2.2" fill="#3f3020" stroke="none" stroke-width="1" />
<rect x="101.65" y="462.2" width="8.8" height="8.2" fill="#b0d48e" stroke="none" stroke-width="1" />
<rect x="102.85" y="463.1" width="6.6" height="6.4" fill="#dcd4d8" stroke="none" stroke-width="1" />
<rect x="104.05" y="464.1" width="4" height="4.2" fill="#efe8ee" stroke="none" stroke-width="1" />
<path d="M104.45,465.7h3M106.65,464.5v3.6M104.25,467.7h2" stroke="#8a6a9a" stroke-width="0.6" fill="none" stroke-linejoin="round" />
<rect x="101.65" y="470.4" width="8.8" height="2.2" fill="#3f3020" stroke="none" stroke-width="1" />
<rect x="112.9" y="462.2" width="8.8" height="8.2" fill="#b0d48e" stroke="none" stroke-width="1" />
<rect x="114.1" y="463.1" width="6.6" height="6.4" fill="#dcd4d8" stroke="none" stroke-width="1" />
<rect x="115.3" y="464.1" width="4" height="4.2" fill="#efe8ee" stroke="none" stroke-width="1" />
<path d="M115.7,465.7h3M117.9,464.5v3.6M115.5,467.7h2" stroke="#8a6a9a" stroke-width="0.6" fill="none" stroke-linejoin="round" />
<rect x="112.9" y="470.4" width="8.8" height="2.2" fill="#3f3020" stroke="none" stroke-width="1" />
<rect x="124.15" y="462.2" width="8.8" height="8.2" fill="#b0d48e" stroke="none" stroke-width="1" />
<rect x="125.35" y="463.1" width="6.6" height="6.4" fill="#dcd4d8" stroke="none" stroke-width="1" />
<rect x="126.55" y="464.1" width="4" height="4.2" fill="#efe8ee" stroke="none" stroke-width="1" />
<path d="M126.95,465.7h3M129.15,464.5v3.6M126.75,467.7h2" stroke="#8a6a9a" stroke-width="0.6" fill="none" stroke-linejoin="round" />
<rect x="124.15" y="470.4" width="8.8" height="2.2" fill="#3f3020" stroke="none" stroke-width="1" />
<rect x="135.4" y="462.2" width="8.8" height="8.2" fill="#b0d48e" stroke="none" stroke-width="1" />
<rect x="136.6" y="463.1" width="6.6" height="6.4" fill="#dcd4d8" stroke="none" stroke-width="1" />
<rect x="137.8" y="464.1" width="4" height="4.2" fill="#efe8ee" stroke="none" stroke-width="1" />
<path d="M138.2,465.7h3M140.4,464.5v3.6M138,467.7h2" stroke="#8a6a9a" stroke-width="0.6" fill="none" stroke-linejoin="round" />
<rect x="135.4" y="470.4" width="8.8" height="2.2" fill="#3f3020" stroke="none" stroke-width="1" />
<rect x="146.65" y="462.2" width="8.8" height="8.2" fill="#b0d48e" stroke="none" stroke-width="1" />
<rect x="147.85" y="463.1" width="6.6" height="6.4" fill="#dcd4d8" stroke="none" stroke-width="1" />
<rect x="149.05" y="464.1" width="4" height="4.2" fill="#efe8ee" stroke="none" stroke-width="1" />
<path d="M149.45,465.7h3M151.65,464.5v3.6M149.25,467.7h2" stroke="#8a6a9a" stroke-width="0.6" fill="none" stroke-linejoin="round" />
<rect x="146.65" y="470.4" width="8.8" height="2.2" fill="#3f3020" stroke="none" stroke-width="1" />
<rect x="67.9" y="474.5" width="8.8" height="8.2" fill="#b0d48e" stroke="none" stroke-width="1" />
<rect x="69.1" y="475.4" width="6.6" height="6.4" fill="#dcd4d8" stroke="none" stroke-width="1" />
<rect x="70.3" y="476.4" width="4" height="4.2" fill="#efe8ee" stroke="none" stroke-width="1" />
<path d="M70.7,478h3M72.9,476.8v3.6M70.5,480h2" stroke="#8a6a9a" stroke-width="0.6" fill="none" stroke-linejoin="round" />
<rect x="67.9" y="482.7" width="8.8" height="2.2" fill="#3f3020" stroke="none" stroke-width="1" />
<rect x="79.15" y="474.5" width="8.8" height="8.2" fill="#b0d48e" stroke="none" stroke-width="1" />
<rect x="80.35" y="475.4" width="6.6" height="6.4" fill="#dcd4d8" stroke="none" stroke-width="1" />
<rect x="81.55" y="476.4" width="4" height="4.2" fill="#efe8ee" stroke="none" stroke-width="1" />
<path d="M81.95,478h3M84.15,476.8v3.6M81.75,480h2" stroke="#8a6a9a" stroke-width="0.6" fill="none" stroke-linejoin="round" />
<rect x="79.15" y="482.7" width="8.8" height="2.2" fill="#3f3020" stroke="none" stroke-width="1" />
<rect x="90.4" y="474.5" width="8.8" height="8.2" fill="#b0d48e" stroke="none" stroke-width="1" />
<rect x="91.6" y="475.4" width="6.6" height="6.4" fill="#dcd4d8" stroke="none" stroke-width="1" />
<rect x="92.8" y="476.4" width="4" height="4.2" fill="#efe8ee" stroke="none" stroke-width="1" />
<path d="M93.2,478h3M95.4,476.8v3.6M93,480h2" stroke="#8a6a9a" stroke-width="0.6" fill="none" stroke-linejoin="round" />
<rect x="90.4" y="482.7" width="8.8" height="2.2" fill="#3f3020" stroke="none" stroke-width="1" />
<rect x="101.65" y="474.5" width="8.8" height="8.2" fill="#b0d48e" stroke="none" stroke-width="1" />
<rect x="102.85" y="475.4" width="6.6" height="6.4" fill="#dcd4d8" stroke="none" stroke-width="1" />
<rect x="104.05" y="476.4" width="4" height="4.2" fill="#efe8ee" stroke="none" stroke-width="1" />
<path d="M104.45,478h3M106.65,476.8v3.6M104.25,480h2" stroke="#8a6a9a" stroke-width="0.6" fill="none" stroke-linejoin="round" />
<rect x="101.65" y="482.7" width="8.8" height="2.2" fill="#3f3020" stroke="none" stroke-width="1" />
<rect x="112.9" y="474.5" width="8.8" height="8.2" fill="#b0d48e" stroke="none" stroke-width="1" />
<rect x="114.1" y="475.4" width="6.6" height="6.4" fill="#dcd4d8" stroke="none" stroke-width="1" />
<rect x="115.3" y="476.4" width="4" height="4.2" fill="#efe8ee" stroke="none" stroke-width="1" />
<path d="M115.7,478h3M117.9,476.8v3.6M115.5,480h2" stroke="#8a6a9a" stroke-width="0.6" fill="none" stroke-linejoin="round" />
<rect x="112.9" y="482.7" width="8.8" height="2.2" fill="#3f3020" stroke="none" stroke-width="1" />
<rect x="124.15" y="474.5" width="8.8" height="8.2" fill="#b0d48e" stroke="none" stroke-width="1" />
<rect x="125.35" y="475.4" width="6.6" height="6.4" fill="#dcd4d8" stroke="none" stroke-width="1" />
<rect x="126.55" y="476.4" width="4" height="4.2" fill="#efe8ee" stroke="none" stroke-width="1" />
<path d="M126.95,478h3M129.15,476.8v3.6M126.75,480h2" stroke="#8a6a9a" stroke-width="0.6" fill="none" stroke-linejoin="round" />
<rect x="124.15" y="482.7" width="8.8" height="2.2" fill="#3f3020" stroke="none" stroke-width="1" />
<rect x="135.4" y="474.5" width="8.8" height="8.2" fill="#b0d48e" stroke="none" stroke-width="1" />
<rect x="136.6" y="475.4" width="6.6" height="6.4" fill="#dcd4d8" stroke="none" stroke-width="1" />
<rect x="137.8" y="476.4" width="4" height="4.2" fill="#efe8ee" stroke="none" stroke-width="1" />
<path d="M138.2,478h3M140.4,476.8v3.6M138,480h2" stroke="#8a6a9a" stroke-width="0.6" fill="none" stroke-linejoin="round" />
<rect x="135.4" y="482.7" width="8.8" height="2.2" fill="#3f3020" stroke="none" stroke-width="1" />
<rect x="146.65" y="474.5" width="8.8" height="8.2" fill="#b0d48e" stroke="none" stroke-width="1" />
<rect x="147.85" y="475.4" width="6.6" height="6.4" fill="#dcd4d8" stroke="none" stroke-width="1" />
<rect x="149.05" y="476.4" width="4" height="4.2" fill="#efe8ee" stroke="none" stroke-width="1" />
<path d="M149.45,478h3M151.65,476.8v3.6M149.25,480h2" stroke="#8a6a9a" stroke-width="0.6" fill="none" stroke-linejoin="round" />
<rect x="146.65" y="482.7" width="8.8" height="2.2" fill="#3f3020" stroke="none" stroke-width="1" />
<rect x="48" y="383.6" width="13" height="4.2" fill="#b6ee9a" stroke="none" stroke-width="1" />
<rect x="59.2" y="383.6" width="2.6" height="104" fill="#a8de8c" stroke="none" stroke-width="1" />
<rect x="163.8" y="383.6" width="2.6" height="104" fill="#a8de8c" stroke="none" stroke-width="1" />
<rect x="164" y="383.6" width="9" height="3.2" fill="#b6ee9a" stroke="none" stroke-width="1" />
<rect x="164" y="484.5" width="9" height="4" fill="#b6ee9a" stroke="none" stroke-width="1" />
<rect x="49" y="484.5" width="12" height="4" fill="#b6ee9a" stroke="none" stroke-width="1" />
<rect x="46.1" y="377.2" width="6.8" height="6.8" fill="#2e2a26" stroke="none" stroke-width="1" />
<rect x="47.1" y="378.2" width="4.8" height="4.8" fill="#d4ccbc" stroke="none" stroke-width="1" />
<rect x="47.1" y="487.9" width="6.8" height="6.8" fill="#2e2a26" stroke="none" stroke-width="1" />
<rect x="48.1" y="488.9" width="4.8" height="4.8" fill="#d4ccbc" stroke="none" stroke-width="1" />
<rect x="59.5" y="377.2" width="6.8" height="6.8" fill="#2e2a26" stroke="none" stroke-width="1" />
<rect x="60.5" y="378.2" width="4.8" height="4.8" fill="#d4ccbc" stroke="none" stroke-width="1" />
<rect x="60.5" y="487.9" width="6.8" height="6.8" fill="#2e2a26" stroke="none" stroke-width="1" />
<rect x="61.5" y="488.9" width="4.8" height="4.8" fill="#d4ccbc" stroke="none" stroke-width="1" />
<rect x="72.9" y="377.2" width="6.8" height="6.8" fill="#2e2a26" stroke="none" stroke-width="1" />
<rect x="73.9" y="378.2" width="4.8" height="4.8" fill="#d4ccbc" stroke="none" stroke-width="1" />
<rect x="73.9" y="487.9" width="6.8" height="6.8" fill="#2e2a26" stroke="none" stroke-width="1" />
<rect x="74.9" y="488.9" width="4.8" height="4.8" fill="#d4ccbc" stroke="none" stroke-width="1" />
<rect x="86.3" y="377.2" width="6.8" height="6.8" fill="#2e2a26" stroke="none" stroke-width="1" />
<rect x="87.3" y="378.2" width="4.8" height="4.8" fill="#d4ccbc" stroke="none" stroke-width="1" />
<rect x="87.3" y="487.9" width="6.8" height="6.8" fill="#2e2a26" stroke="none" stroke-width="1" />
<rect x="88.3" y="488.9" width="4.8" height="4.8" fill="#d4ccbc" stroke="none" stroke-width="1" />
<rect x="99.7" y="377.2" width="6.8" height="6.8" fill="#2e2a26" stroke="none" stroke-width="1" />
<rect x="100.7" y="378.2" width="4.8" height="4.8" fill="#d4ccbc" stroke="none" stroke-width="1" />
<rect x="100.7" y="487.9" width="6.8" height="6.8" fill="#2e2a26" stroke="none" stroke-width="1" />
<rect x="101.7" y="488.9" width="4.8" height="4.8" fill="#d4ccbc" stroke="none" stroke-width="1" />
<rect x="113.1" y="377.2" width="6.8" height="6.8" fill="#2e2a26" stroke="none" stroke-width="1" />
<rect x="114.1" y="378.2" width="4.8" height="4.8" fill="#d4ccbc" stroke="none" stroke-width="1" />
<rect x="114.1" y="487.9" width="6.8" height="6.8" fill="#2e2a26" stroke="none" stroke-width="1" />
<rect x="115.1" y="488.9" width="4.8" height="4.8" fill="#d4ccbc" stroke="none" stroke-width="1" />
<rect x="126.5" y="377.2" width="6.8" height="6.8" fill="#2e2a26" stroke="none" stroke-width="1" />
<rect x="127.5" y="378.2" width="4.8" height="4.8" fill="#d4ccbc" stroke="none" stroke-width="1" />
<rect x="127.5" y="487.9" width="6.8" height="6.8" fill="#2e2a26" stroke="none" stroke-width="1" />
<rect x="128.5" y="488.9" width="4.8" height="4.8" fill="#d4ccbc" stroke="none" stroke-width="1" />
<rect x="139.9" y="377.2" width="6.8" height="6.8" fill="#2e2a26" stroke="none" stroke-width="1" />
<rect x="140.9" y="378.2" width="4.8" height="4.8" fill="#d4ccbc" stroke="none" stroke-width="1" />
<rect x="140.9" y="487.9" width="6.8" height="6.8" fill="#2e2a26" stroke="none" stroke-width="1" />
<rect x="141.9" y="488.9" width="4.8" height="4.8" fill="#d4ccbc" stroke="none" stroke-width="1" />
<rect x="153.3" y="377.2" width="6.8" height="6.8" fill="#2e2a26" stroke="none" stroke-width="1" />
<rect x="154.3" y="378.2" width="4.8" height="4.8" fill="#d4ccbc" stroke="none" stroke-width="1" />
<rect x="154.3" y="487.9" width="6.8" height="6.8" fill="#2e2a26" stroke="none" stroke-width="1" />
<rect x="155.3" y="488.9" width="4.8" height="4.8" fill="#d4ccbc" stroke="none" stroke-width="1" />
<rect x="166.7" y="377.2" width="6.8" height="6.8" fill="#2e2a26" stroke="none" stroke-width="1" />
<rect x="167.7" y="378.2" width="4.8" height="4.8" fill="#d4ccbc" stroke="none" stroke-width="1" />
<rect x="167.7" y="487.9" width="6.8" height="6.8" fill="#2e2a26" stroke="none" stroke-width="1" />
<rect x="168.7" y="488.9" width="4.8" height="4.8" fill="#d4ccbc" stroke="none" stroke-width="1" />
<rect x="46.1" y="389.6" width="6.8" height="6.8" fill="#2e2a26" stroke="none" stroke-width="1" />
<rect x="47.1" y="390.6" width="4.8" height="4.8" fill="#d4ccbc" stroke="none" stroke-width="1" />
<rect x="168.9" y="389.6" width="6.8" height="6.8" fill="#2e2a26" stroke="none" stroke-width="1" />
<rect x="169.9" y="390.6" width="4.8" height="4.8" fill="#d4ccbc" stroke="none" stroke-width="1" />
<rect x="53.5" y="391.5" width="5.5" height="3" fill="#a9cf8e" stroke="none" stroke-width="1" />
<rect x="164.5" y="391.5" width="4.5" height="3" fill="#a9cf8e" stroke="none" stroke-width="1" />
<rect x="46" y="397.6" width="7" height="1.4" fill="#9cd080" stroke="none" stroke-width="1" />
<rect x="169" y="397.6" width="7" height="1.4" fill="#9cd080" stroke="none" stroke-width="1" />
<rect x="46.1" y="402" width="6.8" height="6.8" fill="#2e2a26" stroke="none" stroke-width="1" />
<rect x="47.1" y="403" width="4.8" height="4.8" fill="#d4ccbc" stroke="none" stroke-width="1" />
<rect x="168.9" y="402" width="6.8" height="6.8" fill="#2e2a26" stroke="none" stroke-width="1" />
<rect x="169.9" y="403" width="4.8" height="4.8" fill="#d4ccbc" stroke="none" stroke-width="1" />
<rect x="53.5" y="403.9" width="5.5" height="3" fill="#a9cf8e" stroke="none" stroke-width="1" />
<rect x="164.5" y="403.9" width="4.5" height="3" fill="#a9cf8e" stroke="none" stroke-width="1" />
<rect x="46" y="410" width="7" height="1.4" fill="#9cd080" stroke="none" stroke-width="1" />
<rect x="169" y="410" width="7" height="1.4" fill="#9cd080" stroke="none" stroke-width="1" />
<rect x="46.1" y="414.4" width="6.8" height="6.8" fill="#2e2a26" stroke="none" stroke-width="1" />
<rect x="47.1" y="415.4" width="4.8" height="4.8" fill="#d4ccbc" stroke="none" stroke-width="1" />
<rect x="168.9" y="414.4" width="6.8" height="6.8" fill="#2e2a26" stroke="none" stroke-width="1" />
<rect x="169.9" y="415.4" width="4.8" height="4.8" fill="#d4ccbc" stroke="none" stroke-width="1" />
<rect x="53.5" y="416.3" width="5.5" height="3" fill="#a9cf8e" stroke="none" stroke-width="1" />
<rect x="164.5" y="416.3" width="4.5" height="3" fill="#a9cf8e" stroke="none" stroke-width="1" />
<rect x="46" y="422.4" width="7" height="1.4" fill="#9cd080" stroke="none" stroke-width="1" />
<rect x="169" y="422.4" width="7" height="1.4" fill="#9cd080" stroke="none" stroke-width="1" />
<rect x="46.1" y="426.8" width="6.8" height="6.8" fill="#2e2a26" stroke="none" stroke-width="1" />
<rect x="47.1" y="427.8" width="4.8" height="4.8" fill="#d4ccbc" stroke="none" stroke-width="1" />
<rect x="168.9" y="426.8" width="6.8" height="6.8" fill="#2e2a26" stroke="none" stroke-width="1" />
<rect x="169.9" y="427.8" width="4.8" height="4.8" fill="#d4ccbc" stroke="none" stroke-width="1" />
<rect x="53.5" y="428.7" width="5.5" height="3" fill="#a9cf8e" stroke="none" stroke-width="1" />
<rect x="164.5" y="428.7" width="4.5" height="3" fill="#a9cf8e" stroke="none" stroke-width="1" />
<rect x="46" y="434.8" width="7" height="1.4" fill="#9cd080" stroke="none" stroke-width="1" />
<rect x="169" y="434.8" width="7" height="1.4" fill="#9cd080" stroke="none" stroke-width="1" />
<rect x="46.1" y="439.2" width="6.8" height="6.8" fill="#2e2a26" stroke="none" stroke-width="1" />
<rect x="47.1" y="440.2" width="4.8" height="4.8" fill="#d4ccbc" stroke="none" stroke-width="1" />
<rect x="168.9" y="439.2" width="6.8" height="6.8" fill="#2e2a26" stroke="none" stroke-width="1" />
<rect x="169.9" y="440.2" width="4.8" height="4.8" fill="#d4ccbc" stroke="none" stroke-width="1" />
<rect x="53.5" y="441.1" width="5.5" height="3" fill="#a9cf8e" stroke="none" stroke-width="1" />
<rect x="164.5" y="441.1" width="4.5" height="3" fill="#a9cf8e" stroke="none" stroke-width="1" />
<rect x="46" y="447.2" width="7" height="1.4" fill="#9cd080" stroke="none" stroke-width="1" />
<rect x="169" y="447.2" width="7" height="1.4" fill="#9cd080" stroke="none" stroke-width="1" />
<rect x="46.1" y="451.6" width="6.8" height="6.8" fill="#2e2a26" stroke="none" stroke-width="1" />
<rect x="47.1" y="452.6" width="4.8" height="4.8" fill="#d4ccbc" stroke="none" stroke-width="1" />
<rect x="168.9" y="451.6" width="6.8" height="6.8" fill="#2e2a26" stroke="none" stroke-width="1" />
<rect x="169.9" y="452.6" width="4.8" height="4.8" fill="#d4ccbc" stroke="none" stroke-width="1" />
<rect x="53.5" y="453.5" width="5.5" height="3" fill="#a9cf8e" stroke="none" stroke-width="1" />
<rect x="164.5" y="453.5" width="4.5" height="3" fill="#a9cf8e" stroke="none" stroke-width="1" />
<rect x="46" y="459.6" width="7" height="1.4" fill="#9cd080" stroke="none" stroke-width="1" />
<rect x="169" y="459.6" width="7" height="1.4" fill="#9cd080" stroke="none" stroke-width="1" />
<rect x="46.1" y="464" width="6.8" height="6.8" fill="#2e2a26" stroke="none" stroke-width="1" />
<rect x="47.1" y="465" width="4.8" height="4.8" fill="#d4ccbc" stroke="none" stroke-width="1" />
<rect x="168.9" y="464" width="6.8" height="6.8" fill="#2e2a26" stroke="none" stroke-width="1" />
<rect x="169.9" y="465" width="4.8" height="4.8" fill="#d4ccbc" stroke="none" stroke-width="1" />
<rect x="53.5" y="465.9" width="5.5" height="3" fill="#a9cf8e" stroke="none" stroke-width="1" />
<rect x="164.5" y="465.9" width="4.5" height="3" fill="#a9cf8e" stroke="none" stroke-width="1" />
<rect x="46" y="472" width="7" height="1.4" fill="#9cd080" stroke="none" stroke-width="1" />
<rect x="169" y="472" width="7" height="1.4" fill="#9cd080" stroke="none" stroke-width="1" />
<rect x="46.1" y="476.4" width="6.8" height="6.8" fill="#2e2a26" stroke="none" stroke-width="1" />
<rect x="47.1" y="477.4" width="4.8" height="4.8" fill="#d4ccbc" stroke="none" stroke-width="1" />
<rect x="168.9" y="476.4" width="6.8" height="6.8" fill="#2e2a26" stroke="none" stroke-width="1" />
<rect x="169.9" y="477.4" width="4.8" height="4.8" fill="#d4ccbc" stroke="none" stroke-width="1" />
<rect x="53.5" y="478.3" width="5.5" height="3" fill="#a9cf8e" stroke="none" stroke-width="1" />
<rect x="164.5" y="478.3" width="4.5" height="3" fill="#a9cf8e" stroke="none" stroke-width="1" />
<rect x="46" y="484.4" width="7" height="1.4" fill="#9cd080" stroke="none" stroke-width="1" />
<rect x="169" y="484.4" width="7" height="1.4" fill="#9cd080" stroke="none" stroke-width="1" />
<rect x="50.5" y="496.2" width="129" height="14.4" fill="#7b6170" stroke="none" stroke-width="1" />
<path d="M62.5,496.6L52,503.4L62.5,510.2M75.5,496.6L65,503.4L75.5,510.2M88.5,496.6L78,503.4L88.5,510.2M101.5,496.6L91,503.4L101.5,510.2M114.5,496.6L104,503.4L114.5,510.2M127.5,496.6L117,503.4L127.5,510.2M140.5,496.6L130,503.4L140.5,510.2M153.5,496.6L143,503.4L153.5,510.2M166.5,496.6L156,503.4L166.5,510.2M179.5,496.6L169,503.4L179.5,510.2" stroke="#c9b69e" stroke-width="1.3" fill="none" stroke-linejoin="round" />
<rect x="61" y="510.6" width="6.5" height="6.5" fill="#d2c6b0" stroke="none" stroke-width="1" />
<rect x="82.6" y="510.6" width="6.5" height="6.5" fill="#d2c6b0" stroke="none" stroke-width="1" />
<rect x="104.2" y="510.6" width="6.5" height="6.5" fill="#d2c6b0" stroke="none" stroke-width="1" />
<rect x="125.8" y="510.6" width="6.5" height="6.5" fill="#d2c6b0" stroke="none" stroke-width="1" />
<rect x="147.4" y="510.6" width="6.5" height="6.5" fill="#d2c6b0" stroke="none" stroke-width="1" />
<rect x="169" y="510.6" width="6.5" height="6.5" fill="#d2c6b0" stroke="none" stroke-width="1" />
</g></g>
<text x="32.6" y="372.6" font-size="9.5" text-anchor="start" fill="#fff" stroke="#fff" >a</text>
<text x="110.6" y="372.7" font-size="10.5" text-anchor="middle" fill="#c4f09a" stroke="#c4f09a"  textLength="17" lengthAdjust="spacingAndGlyphs">8&#215;8</text>
<text x="109.6" y="506.2" font-size="10.5" text-anchor="middle" fill="#c4f09a" stroke="#c4f09a"  textLength="17" lengthAdjust="spacingAndGlyphs">8&#215;8</text>
<text x="0" y="0" font-size="11" text-anchor="middle" fill="#c4f09a" stroke="#c4f09a" transform="translate(41.6,434.4) rotate(-90)">8&#215;8</text>
<text x="0" y="0" font-size="11" text-anchor="middle" fill="#c4f09a" stroke="#c4f09a" transform="translate(179.2,434.4) rotate(90)">8&#215;8</text>
<rect x="60.6" y="384.6" width="103.6" height="103.2" fill="none" stroke="#ec1c1c" stroke-width="2" stroke-dasharray="6.5,3.5"/>
<text x="103.3" y="394.8" font-size="10.8" text-anchor="start" fill="#ec1c1c" stroke="#ec1c1c"  textLength="46.8" lengthAdjust="spacingAndGlyphs">Synapses</text>
<rect x="97.4" y="425.3" width="13.6" height="12" fill="none" stroke="#ec1c1c" stroke-width="2" />
<path d="M111,431.2 H190.6 V401" stroke="#ec1c1c" stroke-width="1.8" fill="none" stroke-linejoin="round" />
<rect x="52" y="493" width="124" height="25.4" fill="none" stroke="#1a22ee" stroke-width="2.1" stroke-dasharray="10.5,9" stroke-dashoffset="-2"/>
<rect x="127" y="496.3" width="19.4" height="18.4" fill="none" stroke="#1a22ee" stroke-width="1.8" />
<path d="M146.4,505.6 H190.6 V485" stroke="#1a22ee" stroke-width="1.8" fill="none" stroke-linejoin="round" />
<text x="70.7" y="515" font-size="10.8" text-anchor="start" fill="#1a22ee" stroke="#1a22ee"  textLength="40" lengthAdjust="spacingAndGlyphs">Neurons</text>
<text x="32.9" y="500.7" font-size="10.5" text-anchor="start" fill="#fff" stroke="#fff"  textLength="16" lengthAdjust="spacingAndGlyphs">100</text>
<text x="32.9" y="509.3" font-size="10.5" text-anchor="start" fill="#fff" stroke="#fff"  textLength="14.6" lengthAdjust="spacingAndGlyphs">&#181;m</text>
<path d="M34.3,515 H55.7 M34.3,513 V517 M55.7,513 V517" stroke="#eee" stroke-width="1" fill="none" stroke-linejoin="round" />
<text x="222.3" y="358.6" font-size="12.5" text-anchor="start" fill="#000" stroke="#000" >(g)</text>
<line x1="275.8" y1="387.6" x2="322.9" y2="387.6" stroke="#2e2e2e" stroke-width="1.3" />
<path d="M281.7,374.4V387.6M286.9,374.4V387.6M291.7,374.4V387.6M297.2,374.4V387.6M299.7,374.4V387.6M305.2,374.4V387.6M310.9,374.4V387.6M316.9,374.4V387.6" stroke="#2e2e2e" stroke-width="1.1" fill="none" stroke-linejoin="round" />
<path d="M271.8,407.2 V390.7 H362.1" stroke="#2e2e2e" stroke-width="1.1" fill="none" stroke-linejoin="round" />
<path d="M324.6,390.7 V469.1 H341.4" stroke="#2e2e2e" stroke-width="1.1" fill="none" stroke-linejoin="round" />
<circle cx="271.8" cy="423.5" r="16.2" fill="#fff" stroke="#2e2e2e" stroke-width="1.1"/>
<path d="M260.4,429.7 H268.2 V414.6 H276.5 V429.7 H284.2" stroke="#2e2e2e" stroke-width="1.2" fill="none" stroke-linejoin="round" />
<line x1="271.8" y1="439.7" x2="271.8" y2="449.2" stroke="#2e2e2e" stroke-width="1.1" />
<line x1="262.4" y1="449.2" x2="281.4" y2="449.2" stroke="#2e2e2e" stroke-width="1.2" />
<line x1="265.8" y1="452.2" x2="277.8" y2="452.2" stroke="#2e2e2e" stroke-width="1.2" />
<line x1="268.8" y1="455.2" x2="274.8" y2="455.2" stroke="#2e2e2e" stroke-width="1.2" />
<text x="271.9" y="468.4" font-size="10.5" text-anchor="middle" fill="#000" stroke="#000"  textLength="26.8" lengthAdjust="spacingAndGlyphs">Pulse</text>
<text x="271.7" y="480.3" font-size="10.5" text-anchor="middle" fill="#000" stroke="#000"  textLength="30" lengthAdjust="spacingAndGlyphs">inputs</text>
<rect x="362.1" y="383" width="6.1" height="15.5" fill="#5d4b45" stroke="none" stroke-width="1" />
<rect x="368.2" y="383" width="29.3" height="15.5" fill="#f9bf3c" stroke="none" stroke-width="1" />
<path d="M368.2,390.1 H373.2 V385.4 H378.2 V395.4 H382.5 V385.4 H388.2 V395.4 H392.5 V390.1 H397.5" stroke="#4a2a18" stroke-width="1.1" fill="none" stroke-linejoin="round" />
<line x1="397.5" y1="390.2" x2="449.4" y2="390.2" stroke="#2e2e2e" stroke-width="1.1" />
<rect x="449.4" y="383.2" width="5.5" height="14.2" fill="#1f1f78" stroke="none" stroke-width="1" />
<rect x="454.9" y="383.2" width="28" height="14.2" fill="#f76b7b" stroke="none" stroke-width="1" />
<path d="M454.9,390.3 H459.4 V385.5 H464 V394.9 H469.7 V385.5 H474.3 V394.9 H478.3 V390.3 H486.3" stroke="#3a1a1a" stroke-width="1.1" fill="none" stroke-linejoin="round" />
<line x1="482.9" y1="390.3" x2="486.3" y2="390.3" stroke="#2e2e2e" stroke-width="1.1" />
<line x1="489.2" y1="384.4" x2="496" y2="384.4" stroke="#777" stroke-width="1.3" />
<line x1="489.2" y1="394.2" x2="496" y2="394.2" stroke="#777" stroke-width="1.3" />
<line x1="509.9" y1="384.4" x2="517.2" y2="384.4" stroke="#333" stroke-width="1.2" />
<line x1="509.9" y1="394.2" x2="517.2" y2="394.2" stroke="#777" stroke-width="1.3" />
<rect x="496" y="380.2" width="13.9" height="18.3" fill="#fff" stroke="#222" stroke-width="1.2" />
<text x="496.7" y="387" font-size="7" text-anchor="start" fill="#000" stroke="#000" >D</text>
<path d="M496,392.4 L499.2,394.2 L496,396" stroke="#555" stroke-width="0.8" fill="none" stroke-linejoin="round" />
<rect x="445.1" y="379.1" width="73" height="23.1" fill="none" stroke="#e05a60" stroke-width="1.2" stroke-dasharray="3.8,2.2"/>
<line x1="488.7" y1="379.1" x2="488.7" y2="402.2" stroke="#e05a60" stroke-width="1.2" stroke-dasharray="3.8,2.2"/>
<line x1="517.2" y1="383.4" x2="601" y2="383.4" stroke="#2e2e2e" stroke-width="1.1" />
<path d="M609.8,383.4 L600.2,380.6 L600.2,386.2 Z" stroke="none" stroke-width="0" fill="#111" stroke-linejoin="round" />
<path d="M593.8,412.6 V389.1 H525" stroke="#2e2e2e" stroke-width="1.1" fill="none" stroke-linejoin="round" />
<path d="M517.2,389.1 L525.2,386.4 L525.2,391.8 Z" stroke="none" stroke-width="0" fill="#111" stroke-linejoin="round" />
<line x1="616.4" y1="386.1" x2="663.2" y2="386.1" stroke="#222" stroke-width="1.4" />
<path d="M574.4,403.3 H577.9 V391.3 H582.5 V403.3 H585.6" stroke="#e43a3a" stroke-width="1.1" fill="none" stroke-linejoin="round" />
<path d="M380.3,401.5 V412.9 H492.5 V402.3" stroke="#2e2e2e" stroke-width="1.2" fill="none" stroke-linejoin="round" />
<path d="M380.3,398.8 L378.4,404.2 L382.2,404.2 Z" stroke="none" stroke-width="0" fill="#111" stroke-linejoin="round" />
<line x1="466.1" y1="412.9" x2="466.1" y2="405.5" stroke="#2e2e2e" stroke-width="1.1" />
<path d="M466.1,402.8 L464.3,407.6 L467.9,407.6 Z" stroke="none" stroke-width="0" fill="#111" stroke-linejoin="round" />
<text x="383.1" y="409.3" font-size="10.6" text-anchor="start" fill="#2424ee" stroke="#2424ee"  textLength="68.5" lengthAdjust="spacingAndGlyphs">Weight update</text>
<text x="467.8" y="410.6" font-size="10.5" text-anchor="start" fill="#000" stroke="#000"  textLength="13" lengthAdjust="spacingAndGlyphs">RP</text>
<rect x="534.4" y="406" width="26.4" height="35.5" fill="#d9d9d9" stroke="none" stroke-width="1" />
<line x1="504.5" y1="407.5" x2="504.5" y2="441" stroke="#444" stroke-width="1" />
<line x1="505" y1="417.2" x2="534" y2="417.2" stroke="#aaa" stroke-width="0.8" stroke-dasharray="2,1.6"/>
<line x1="505" y1="429.2" x2="534" y2="429.2" stroke="#aaa" stroke-width="0.8" stroke-dasharray="2,1.6"/>
<path d="M504.5,429.2 H509 L512,424 L515.5,418.8 L519.5,427 L523.5,420 L528,425 L532,418.2 L533.6,429.2 H560.6" stroke="#e03030" stroke-width="1.2" fill="none" stroke-linejoin="round" />
<text x="505.5" y="413.5" font-size="6.4" text-anchor="start" fill="#000" stroke="#000"  textLength="27.6" lengthAdjust="spacingAndGlyphs">Threshold</text>
<text x="535" y="419.8" font-size="6.4" text-anchor="start" fill="#000" stroke="#000"  textLength="23.2" lengthAdjust="spacingAndGlyphs">Inhibited</text>
<text x="510" y="433.5" font-size="6.4" text-anchor="start" fill="#000" stroke="#000"  textLength="16.5" lengthAdjust="spacingAndGlyphs">Leaky</text>
<text x="510" y="439.2" font-size="6.4" text-anchor="start" fill="#000" stroke="#000"  textLength="23.2" lengthAdjust="spacingAndGlyphs">integrate</text>
<rect x="568" y="412.6" width="49.8" height="27.8" fill="#fff" stroke="#222" stroke-width="1.3" rx="6.5"/>
<line x1="568" y1="425.9" x2="617.8" y2="425.9" stroke="#888" stroke-width="1" />
<rect x="573.7" y="418.1" width="6" height="16.3" fill="#5d4b45" stroke="none" stroke-width="1" />
<rect x="579.7" y="418.1" width="31.2" height="16.3" fill="#8fd64a" stroke="none" stroke-width="1" />
<path d="M579.7,425.9 H583.5 V420.8 H589 V431.6 H592.8 V420.8 H598.2 V431.6 H602 V425.9 H610.9" stroke="#111" stroke-width="1.1" fill="none" stroke-linejoin="round" />
<text x="599.8" y="408.8" font-size="10.6" text-anchor="start" fill="#1a9152" stroke="#1a9152"  textLength="13.2" lengthAdjust="spacingAndGlyphs">RS</text>
<rect x="341.4" y="460.2" width="6.9" height="17.9" fill="#5d4b45" stroke="none" stroke-width="1" />
<rect x="348.3" y="460.2" width="33.8" height="17.9" fill="#f9bf3c" stroke="none" stroke-width="1" />
<path d="M348.3,469.1 H353.9 V463.1 H360.3 V475.1 H365.4 V463.1 H371.4 V475.1 H376.6 V469.1 H382.1" stroke="#4a2a18" stroke-width="1.1" fill="none" stroke-linejoin="round" />
<line x1="382.1" y1="469.2" x2="426.9" y2="469.2" stroke="#2e2e2e" stroke-width="1.1" />
<rect x="426.9" y="460.9" width="6.8" height="16" fill="#1f1f78" stroke="none" stroke-width="1" />
<rect x="433.7" y="460.9" width="31.7" height="16" fill="#f76b7b" stroke="none" stroke-width="1" />
<path d="M433.7,469.1 H438.5 V463.7 H444.9 V474 H450.5 V463.7 H455.7 V474 H460.8 V469.1 H468.9" stroke="#3a1a1a" stroke-width="1.1" fill="none" stroke-linejoin="round" />
<line x1="465.4" y1="469.3" x2="468.9" y2="469.3" stroke="#2e2e2e" stroke-width="1.1" />
<line x1="473" y1="462.8" x2="480.4" y2="462.8" stroke="#777" stroke-width="1.3" />
<line x1="473" y1="473.2" x2="480.4" y2="473.2" stroke="#777" stroke-width="1.3" />
<line x1="496.8" y1="462.8" x2="504.6" y2="462.8" stroke="#333" stroke-width="1.2" />
<line x1="496.8" y1="473.2" x2="504.6" y2="473.2" stroke="#777" stroke-width="1.3" />
<rect x="480.4" y="458.2" width="16.4" height="21" fill="#fff" stroke="#222" stroke-width="1.2" />
<text x="481.1" y="465.4" font-size="7" text-anchor="start" fill="#000" stroke="#000" >D</text>
<path d="M480.4,471.4 L483.6,473.2 L480.4,475" stroke="#555" stroke-width="0.8" fill="none" stroke-linejoin="round" />
<rect x="422.1" y="455.7" width="82.5" height="26.6" fill="none" stroke="#e05a60" stroke-width="1.2" stroke-dasharray="3.8,2.2"/>
<line x1="471.6" y1="455.7" x2="471.6" y2="482.3" stroke="#e05a60" stroke-width="1.2" stroke-dasharray="3.8,2.2"/>
<text x="336.8" y="454.6" font-size="10.8" text-anchor="start" fill="#2424ee" stroke="#2424ee"  textLength="57.2" lengthAdjust="spacingAndGlyphs">RS synapse</text>
<text x="430.3" y="440.4" font-size="10.9" text-anchor="start" fill="#e41414" stroke="#e41414"  textLength="68.4" lengthAdjust="spacingAndGlyphs">Hybrid neuron</text>
<text x="436.6" y="453.4" font-size="10.5" text-anchor="start" fill="#000" stroke="#000"  textLength="12" lengthAdjust="spacingAndGlyphs">TS</text>
<text x="472.2" y="453.3" font-size="10.5" text-anchor="start" fill="#000" stroke="#000"  textLength="30" lengthAdjust="spacingAndGlyphs">CMOS</text>
<path d="M362,482.5 V494.9 H474 V482.3" stroke="#2e2e2e" stroke-width="1.4" fill="none" stroke-linejoin="round" />
<path d="M362,479.6 L360.1,485.2 L363.9,485.2 Z" stroke="none" stroke-width="0" fill="#111" stroke-linejoin="round" />
<line x1="444.5" y1="494.9" x2="444.5" y2="486.5" stroke="#2e2e2e" stroke-width="1.1" />
<path d="M444.5,483.5 L442.7,488.4 L446.3,488.4 Z" stroke="none" stroke-width="0" fill="#111" stroke-linejoin="round" />
<text x="368" y="490.1" font-size="10.6" text-anchor="start" fill="#2424ee" stroke="#2424ee"  textLength="68.8" lengthAdjust="spacingAndGlyphs">Weight update</text>
<text x="446.4" y="491.8" font-size="10.5" text-anchor="start" fill="#000" stroke="#000"  textLength="14" lengthAdjust="spacingAndGlyphs">RP</text>
<path d="M504.6,467.6 H593 V448" stroke="#222" stroke-width="1.3" fill="none" stroke-linejoin="round" />
<path d="M593,443.2 L591,449 L595,449 Z" stroke="none" stroke-width="0" fill="#111" stroke-linejoin="round" />
<line x1="504.6" y1="474.8" x2="600.5" y2="474.8" stroke="#555" stroke-width="1.4" />
<path d="M609.2,474.8 L599.8,472.1 L599.8,477.5 Z" stroke="none" stroke-width="0" fill="#111" stroke-linejoin="round" />
<text x="509.9" y="464.7" font-size="10.6" text-anchor="start" fill="#1a9152" stroke="#1a9152"  textLength="80.9" lengthAdjust="spacingAndGlyphs">Lateral inhibition</text>
<line x1="616.2" y1="473.5" x2="663.1" y2="473.5" stroke="#222" stroke-width="1.3" />
<path d="M627.6,460.6V473.5M636.8,460.6V473.5M646.1,460.6V473.5M656.8,460.6V473.5" stroke="#222" stroke-width="1.2" fill="none" stroke-linejoin="round" />
<text x="590.2" y="487.8" font-size="10.6" text-anchor="start" fill="#000" stroke="#000"  textLength="73.2" lengthAdjust="spacingAndGlyphs">Winner outputs</text>
<rect x="513.7" y="485.1" width="33.2" height="46" fill="#d9d9d9" stroke="none" stroke-width="1" />
<line x1="483.8" y1="486.9" x2="483.8" y2="531" stroke="#444" stroke-width="1" />
<line x1="484.3" y1="508.8" x2="513.7" y2="508.8" stroke="#aaa" stroke-width="0.8" stroke-dasharray="2,1.6"/>
<line x1="484.3" y1="517.1" x2="513.7" y2="517.1" stroke="#aaa" stroke-width="0.8" stroke-dasharray="2,1.6"/>
<path d="M483.8,517.1 H488 L491,513 L493.5,514.5 L496,512 L498.5,515 L501,512.5 L503.5,513.5 L506,511.5 L508.5,512.5 L512.5,509.7 L514.3,486 H520 V517.1 H544" stroke="#e03030" stroke-width="1.2" fill="none" stroke-linejoin="round" />
<text x="485.5" y="506" font-size="6.4" text-anchor="start" fill="#000" stroke="#000"  textLength="27.3" lengthAdjust="spacingAndGlyphs">Threshold</text>
<text x="521.7" y="489.4" font-size="6.4" text-anchor="start" fill="#000" stroke="#000"  textLength="11" lengthAdjust="spacingAndGlyphs">Fire</text>
<text x="514.9" y="514.5" font-size="6.4" text-anchor="start" fill="#000" stroke="#000"  textLength="35.2" lengthAdjust="spacingAndGlyphs">Resting state</text>
<text x="485.7" y="522" font-size="6.4" text-anchor="start" fill="#000" stroke="#000"  textLength="16.5" lengthAdjust="spacingAndGlyphs">Leaky</text>
<text x="485.7" y="527.4" font-size="6.4" text-anchor="start" fill="#000" stroke="#000"  textLength="23.2" lengthAdjust="spacingAndGlyphs">integrate</text>
<text x="376.6" y="528.3" font-size="10.6" text-anchor="start" fill="#000" stroke="#000"  textLength="89.9" lengthAdjust="spacingAndGlyphs">Memristive system</text>
</svg>
</body></html>
